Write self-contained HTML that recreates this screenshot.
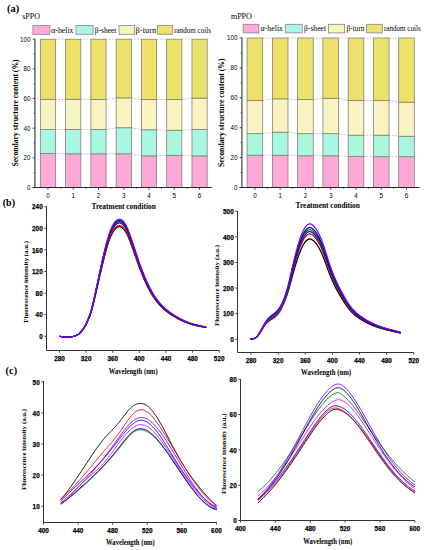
<!DOCTYPE html>
<html><head><meta charset="utf-8"><style>
html,body{margin:0;padding:0;background:#fff;}
svg{display:block;}
</style></head><body>
<svg width="429" height="550" viewBox="0 0 429 550">
<rect width="429" height="550" fill="#fff"/>
<text x="7.00" y="12.20" font-family='"Liberation Serif", serif' font-size="11.2" font-weight="bold" fill="#000" textLength="12.20" lengthAdjust="spacingAndGlyphs">(a)</text>
<text x="2.80" y="205.60" font-family='"Liberation Serif", serif' font-size="11.2" font-weight="bold" fill="#000" textLength="12.20" lengthAdjust="spacingAndGlyphs">(b)</text>
<text x="5.60" y="373.60" font-family='"Liberation Serif", serif' font-size="11.0" font-weight="bold" fill="#000" textLength="11.50" lengthAdjust="spacingAndGlyphs">(c)</text>
<text x="22.20" y="18.50" font-family='"Liberation Serif", serif' font-size="8.0" font-weight="normal" fill="#000" textLength="17.70" lengthAdjust="spacingAndGlyphs">sPPO</text>
<text x="230.90" y="18.50" font-family='"Liberation Serif", serif' font-size="8.2" font-weight="normal" fill="#000" textLength="21.00" lengthAdjust="spacingAndGlyphs">mPPO</text>
<rect x="40.35" y="153.39" width="15.20" height="34.11" fill="#FFA9D9" stroke="#7c7c72" stroke-width="0.75"/>
<rect x="40.35" y="129.51" width="15.20" height="23.88" fill="#A9F7E0" stroke="#7c7c72" stroke-width="0.75"/>
<rect x="40.35" y="99.56" width="15.20" height="29.96" fill="#F9F3C2" stroke="#7c7c72" stroke-width="0.75"/>
<rect x="40.35" y="39.20" width="15.20" height="60.36" fill="#ECE26B" stroke="#7c7c72" stroke-width="0.75"/>
<rect x="65.62" y="153.84" width="15.20" height="33.66" fill="#FFA9D9" stroke="#7c7c72" stroke-width="0.75"/>
<rect x="65.62" y="129.37" width="15.20" height="24.47" fill="#A9F7E0" stroke="#7c7c72" stroke-width="0.75"/>
<rect x="65.62" y="99.26" width="15.20" height="30.10" fill="#F9F3C2" stroke="#7c7c72" stroke-width="0.75"/>
<rect x="65.62" y="39.20" width="15.20" height="60.06" fill="#ECE26B" stroke="#7c7c72" stroke-width="0.75"/>
<rect x="90.89" y="153.84" width="15.20" height="33.66" fill="#FFA9D9" stroke="#7c7c72" stroke-width="0.75"/>
<rect x="90.89" y="129.37" width="15.20" height="24.47" fill="#A9F7E0" stroke="#7c7c72" stroke-width="0.75"/>
<rect x="90.89" y="99.56" width="15.20" height="29.81" fill="#F9F3C2" stroke="#7c7c72" stroke-width="0.75"/>
<rect x="90.89" y="39.20" width="15.20" height="60.36" fill="#ECE26B" stroke="#7c7c72" stroke-width="0.75"/>
<rect x="116.16" y="153.84" width="15.20" height="33.66" fill="#FFA9D9" stroke="#7c7c72" stroke-width="0.75"/>
<rect x="116.16" y="127.74" width="15.20" height="26.10" fill="#A9F7E0" stroke="#7c7c72" stroke-width="0.75"/>
<rect x="116.16" y="97.93" width="15.20" height="29.81" fill="#F9F3C2" stroke="#7c7c72" stroke-width="0.75"/>
<rect x="116.16" y="39.20" width="15.20" height="58.73" fill="#ECE26B" stroke="#7c7c72" stroke-width="0.75"/>
<rect x="141.43" y="155.91" width="15.20" height="31.59" fill="#FFA9D9" stroke="#7c7c72" stroke-width="0.75"/>
<rect x="141.43" y="129.81" width="15.20" height="26.10" fill="#A9F7E0" stroke="#7c7c72" stroke-width="0.75"/>
<rect x="141.43" y="99.56" width="15.20" height="30.25" fill="#F9F3C2" stroke="#7c7c72" stroke-width="0.75"/>
<rect x="141.43" y="39.20" width="15.20" height="60.36" fill="#ECE26B" stroke="#7c7c72" stroke-width="0.75"/>
<rect x="166.70" y="155.32" width="15.20" height="32.18" fill="#FFA9D9" stroke="#7c7c72" stroke-width="0.75"/>
<rect x="166.70" y="130.26" width="15.20" height="25.06" fill="#A9F7E0" stroke="#7c7c72" stroke-width="0.75"/>
<rect x="166.70" y="99.41" width="15.20" height="30.85" fill="#F9F3C2" stroke="#7c7c72" stroke-width="0.75"/>
<rect x="166.70" y="39.20" width="15.20" height="60.21" fill="#ECE26B" stroke="#7c7c72" stroke-width="0.75"/>
<rect x="191.97" y="155.91" width="15.20" height="31.59" fill="#FFA9D9" stroke="#7c7c72" stroke-width="0.75"/>
<rect x="191.97" y="129.51" width="15.20" height="26.40" fill="#A9F7E0" stroke="#7c7c72" stroke-width="0.75"/>
<rect x="191.97" y="98.08" width="15.20" height="31.44" fill="#F9F3C2" stroke="#7c7c72" stroke-width="0.75"/>
<rect x="191.97" y="39.20" width="15.20" height="58.88" fill="#ECE26B" stroke="#7c7c72" stroke-width="0.75"/>
<line x1="55.55" y1="153.39" x2="65.62" y2="153.84" stroke="#888" stroke-width="0.6" stroke-dasharray="1.5,1.5"/>
<line x1="80.82" y1="153.84" x2="90.89" y2="153.84" stroke="#888" stroke-width="0.6" stroke-dasharray="1.5,1.5"/>
<line x1="106.09" y1="153.84" x2="116.16" y2="153.84" stroke="#888" stroke-width="0.6" stroke-dasharray="1.5,1.5"/>
<line x1="131.36" y1="153.84" x2="141.43" y2="155.91" stroke="#888" stroke-width="0.6" stroke-dasharray="1.5,1.5"/>
<line x1="156.63" y1="155.91" x2="166.70" y2="155.32" stroke="#888" stroke-width="0.6" stroke-dasharray="1.5,1.5"/>
<line x1="181.90" y1="155.32" x2="191.97" y2="155.91" stroke="#888" stroke-width="0.6" stroke-dasharray="1.5,1.5"/>
<line x1="55.55" y1="129.51" x2="65.62" y2="129.37" stroke="#888" stroke-width="0.6" stroke-dasharray="1.5,1.5"/>
<line x1="80.82" y1="129.37" x2="90.89" y2="129.37" stroke="#888" stroke-width="0.6" stroke-dasharray="1.5,1.5"/>
<line x1="106.09" y1="129.37" x2="116.16" y2="127.74" stroke="#888" stroke-width="0.6" stroke-dasharray="1.5,1.5"/>
<line x1="131.36" y1="127.74" x2="141.43" y2="129.81" stroke="#888" stroke-width="0.6" stroke-dasharray="1.5,1.5"/>
<line x1="156.63" y1="129.81" x2="166.70" y2="130.26" stroke="#888" stroke-width="0.6" stroke-dasharray="1.5,1.5"/>
<line x1="181.90" y1="130.26" x2="191.97" y2="129.51" stroke="#888" stroke-width="0.6" stroke-dasharray="1.5,1.5"/>
<line x1="55.55" y1="99.56" x2="65.62" y2="99.26" stroke="#888" stroke-width="0.6" stroke-dasharray="1.5,1.5"/>
<line x1="80.82" y1="99.26" x2="90.89" y2="99.56" stroke="#888" stroke-width="0.6" stroke-dasharray="1.5,1.5"/>
<line x1="106.09" y1="99.56" x2="116.16" y2="97.93" stroke="#888" stroke-width="0.6" stroke-dasharray="1.5,1.5"/>
<line x1="131.36" y1="97.93" x2="141.43" y2="99.56" stroke="#888" stroke-width="0.6" stroke-dasharray="1.5,1.5"/>
<line x1="156.63" y1="99.56" x2="166.70" y2="99.41" stroke="#888" stroke-width="0.6" stroke-dasharray="1.5,1.5"/>
<line x1="181.90" y1="99.41" x2="191.97" y2="98.08" stroke="#888" stroke-width="0.6" stroke-dasharray="1.5,1.5"/>
<line x1="55.55" y1="39.20" x2="65.62" y2="39.20" stroke="#999" stroke-width="0.6" stroke-dasharray="1.5,1.5"/>
<line x1="80.82" y1="39.20" x2="90.89" y2="39.20" stroke="#999" stroke-width="0.6" stroke-dasharray="1.5,1.5"/>
<line x1="106.09" y1="39.20" x2="116.16" y2="39.20" stroke="#999" stroke-width="0.6" stroke-dasharray="1.5,1.5"/>
<line x1="131.36" y1="39.20" x2="141.43" y2="39.20" stroke="#999" stroke-width="0.6" stroke-dasharray="1.5,1.5"/>
<line x1="156.63" y1="39.20" x2="166.70" y2="39.20" stroke="#999" stroke-width="0.6" stroke-dasharray="1.5,1.5"/>
<line x1="181.90" y1="39.20" x2="191.97" y2="39.20" stroke="#999" stroke-width="0.6" stroke-dasharray="1.5,1.5"/>
<line x1="34.90" y1="38.70" x2="34.90" y2="187.50" stroke="#707070" stroke-width="1.6" />
<line x1="32.60" y1="187.50" x2="211.80" y2="187.50" stroke="#262626" stroke-width="1.1" />
<line x1="32.70" y1="187.50" x2="34.90" y2="187.50" stroke="#333" stroke-width="0.9" />
<text x="26.95" y="189.85" font-family='"Liberation Sans", sans-serif' font-size="6.6" font-weight="normal" fill="#000" textLength="3.45" lengthAdjust="spacingAndGlyphs">0</text>
<line x1="32.70" y1="157.84" x2="34.90" y2="157.84" stroke="#333" stroke-width="0.9" />
<text x="23.50" y="160.19" font-family='"Liberation Sans", sans-serif' font-size="6.6" font-weight="normal" fill="#000" textLength="6.90" lengthAdjust="spacingAndGlyphs">20</text>
<line x1="32.70" y1="128.18" x2="34.90" y2="128.18" stroke="#333" stroke-width="0.9" />
<text x="23.50" y="130.53" font-family='"Liberation Sans", sans-serif' font-size="6.6" font-weight="normal" fill="#000" textLength="6.90" lengthAdjust="spacingAndGlyphs">40</text>
<line x1="32.70" y1="98.52" x2="34.90" y2="98.52" stroke="#333" stroke-width="0.9" />
<text x="23.50" y="100.87" font-family='"Liberation Sans", sans-serif' font-size="6.6" font-weight="normal" fill="#000" textLength="6.90" lengthAdjust="spacingAndGlyphs">60</text>
<line x1="32.70" y1="68.86" x2="34.90" y2="68.86" stroke="#333" stroke-width="0.9" />
<text x="23.50" y="71.21" font-family='"Liberation Sans", sans-serif' font-size="6.6" font-weight="normal" fill="#000" textLength="6.90" lengthAdjust="spacingAndGlyphs">80</text>
<line x1="32.70" y1="39.20" x2="34.90" y2="39.20" stroke="#333" stroke-width="0.9" />
<text x="20.05" y="41.55" font-family='"Liberation Sans", sans-serif' font-size="6.6" font-weight="normal" fill="#000" textLength="10.35" lengthAdjust="spacingAndGlyphs">100</text>
<line x1="33.60" y1="172.67" x2="34.90" y2="172.67" stroke="#333" stroke-width="0.8" />
<line x1="33.60" y1="143.01" x2="34.90" y2="143.01" stroke="#333" stroke-width="0.8" />
<line x1="33.60" y1="113.35" x2="34.90" y2="113.35" stroke="#333" stroke-width="0.8" />
<line x1="33.60" y1="83.69" x2="34.90" y2="83.69" stroke="#333" stroke-width="0.8" />
<line x1="33.60" y1="54.03" x2="34.90" y2="54.03" stroke="#333" stroke-width="0.8" />
<line x1="47.95" y1="187.50" x2="47.95" y2="189.70" stroke="#333" stroke-width="0.9" />
<text x="46.20" y="197.70" font-family='"Liberation Sans", sans-serif' font-size="6.6" font-weight="normal" fill="#000" textLength="3.50" lengthAdjust="spacingAndGlyphs">0</text>
<line x1="60.59" y1="187.50" x2="60.59" y2="188.80" stroke="#333" stroke-width="0.8" />
<line x1="73.22" y1="187.50" x2="73.22" y2="189.70" stroke="#333" stroke-width="0.9" />
<text x="71.47" y="197.70" font-family='"Liberation Sans", sans-serif' font-size="6.6" font-weight="normal" fill="#000" textLength="3.50" lengthAdjust="spacingAndGlyphs">1</text>
<line x1="85.86" y1="187.50" x2="85.86" y2="188.80" stroke="#333" stroke-width="0.8" />
<line x1="98.49" y1="187.50" x2="98.49" y2="189.70" stroke="#333" stroke-width="0.9" />
<text x="96.74" y="197.70" font-family='"Liberation Sans", sans-serif' font-size="6.6" font-weight="normal" fill="#000" textLength="3.50" lengthAdjust="spacingAndGlyphs">2</text>
<line x1="111.12" y1="187.50" x2="111.12" y2="188.80" stroke="#333" stroke-width="0.8" />
<line x1="123.76" y1="187.50" x2="123.76" y2="189.70" stroke="#333" stroke-width="0.9" />
<text x="122.01" y="197.70" font-family='"Liberation Sans", sans-serif' font-size="6.6" font-weight="normal" fill="#000" textLength="3.50" lengthAdjust="spacingAndGlyphs">3</text>
<line x1="136.40" y1="187.50" x2="136.40" y2="188.80" stroke="#333" stroke-width="0.8" />
<line x1="149.03" y1="187.50" x2="149.03" y2="189.70" stroke="#333" stroke-width="0.9" />
<text x="147.28" y="197.70" font-family='"Liberation Sans", sans-serif' font-size="6.6" font-weight="normal" fill="#000" textLength="3.50" lengthAdjust="spacingAndGlyphs">4</text>
<line x1="161.67" y1="187.50" x2="161.67" y2="188.80" stroke="#333" stroke-width="0.8" />
<line x1="174.30" y1="187.50" x2="174.30" y2="189.70" stroke="#333" stroke-width="0.9" />
<text x="172.55" y="197.70" font-family='"Liberation Sans", sans-serif' font-size="6.6" font-weight="normal" fill="#000" textLength="3.50" lengthAdjust="spacingAndGlyphs">5</text>
<line x1="186.94" y1="187.50" x2="186.94" y2="188.80" stroke="#333" stroke-width="0.8" />
<line x1="199.57" y1="187.50" x2="199.57" y2="189.70" stroke="#333" stroke-width="0.9" />
<text x="197.82" y="197.70" font-family='"Liberation Sans", sans-serif' font-size="6.6" font-weight="normal" fill="#000" textLength="3.50" lengthAdjust="spacingAndGlyphs">6</text>
<rect x="32.90" y="25.60" width="17.00" height="8.70" fill="#FFA9D9" stroke="#8a8090" stroke-width="0.8"/>
<text x="51.30" y="32.60" font-family='"Liberation Serif", serif' font-size="8.5" font-weight="normal" fill="#000" textLength="22.20" lengthAdjust="spacingAndGlyphs">α-helix</text>
<rect x="76.00" y="25.60" width="17.10" height="8.70" fill="#A9F7E0" stroke="#8a8090" stroke-width="0.8"/>
<text x="94.70" y="32.60" font-family='"Liberation Serif", serif' font-size="8.5" font-weight="normal" fill="#000" textLength="21.70" lengthAdjust="spacingAndGlyphs">β-sheet</text>
<rect x="119.00" y="25.60" width="15.60" height="8.70" fill="#F9F3C2" stroke="#8a8090" stroke-width="0.8"/>
<text x="135.60" y="32.60" font-family='"Liberation Serif", serif' font-size="8.5" font-weight="normal" fill="#000" textLength="20.60" lengthAdjust="spacingAndGlyphs">β-turn</text>
<rect x="157.30" y="25.60" width="15.40" height="8.70" fill="#ECE26B" stroke="#8a8090" stroke-width="0.8"/>
<text x="174.20" y="32.60" font-family='"Liberation Serif", serif' font-size="8.5" font-weight="normal" fill="#000" textLength="36.70" lengthAdjust="spacingAndGlyphs">random coils</text>
<text transform="translate(18.40,113.00) rotate(-90)" x="-53.60" y="0" font-family='"Liberation Serif", serif' font-size="7.8" font-weight="bold" textLength="107.20" lengthAdjust="spacingAndGlyphs">Secondary structure content (%)</text>
<text x="91.60" y="209.00" font-family='"Liberation Serif", serif' font-size="8.2" font-weight="bold" fill="#000" textLength="64.20" lengthAdjust="spacingAndGlyphs">Treatment condition</text>
<rect x="247.10" y="155.21" width="15.60" height="32.29" fill="#FFA9D9" stroke="#7c7c72" stroke-width="0.75"/>
<rect x="247.10" y="133.68" width="15.60" height="21.53" fill="#A9F7E0" stroke="#7c7c72" stroke-width="0.75"/>
<rect x="247.10" y="100.64" width="15.60" height="33.04" fill="#F9F3C2" stroke="#7c7c72" stroke-width="0.75"/>
<rect x="247.10" y="38.00" width="15.60" height="62.64" fill="#ECE26B" stroke="#7c7c72" stroke-width="0.75"/>
<rect x="272.37" y="155.21" width="15.60" height="32.29" fill="#FFA9D9" stroke="#7c7c72" stroke-width="0.75"/>
<rect x="272.37" y="132.19" width="15.60" height="23.02" fill="#A9F7E0" stroke="#7c7c72" stroke-width="0.75"/>
<rect x="272.37" y="98.85" width="15.60" height="33.34" fill="#F9F3C2" stroke="#7c7c72" stroke-width="0.75"/>
<rect x="272.37" y="38.00" width="15.60" height="60.85" fill="#ECE26B" stroke="#7c7c72" stroke-width="0.75"/>
<rect x="297.64" y="155.81" width="15.60" height="31.69" fill="#FFA9D9" stroke="#7c7c72" stroke-width="0.75"/>
<rect x="297.64" y="133.68" width="15.60" height="22.13" fill="#A9F7E0" stroke="#7c7c72" stroke-width="0.75"/>
<rect x="297.64" y="99.59" width="15.60" height="34.09" fill="#F9F3C2" stroke="#7c7c72" stroke-width="0.75"/>
<rect x="297.64" y="38.00" width="15.60" height="61.59" fill="#ECE26B" stroke="#7c7c72" stroke-width="0.75"/>
<rect x="322.91" y="155.81" width="15.60" height="31.69" fill="#FFA9D9" stroke="#7c7c72" stroke-width="0.75"/>
<rect x="322.91" y="133.68" width="15.60" height="22.13" fill="#A9F7E0" stroke="#7c7c72" stroke-width="0.75"/>
<rect x="322.91" y="98.25" width="15.60" height="35.43" fill="#F9F3C2" stroke="#7c7c72" stroke-width="0.75"/>
<rect x="322.91" y="38.00" width="15.60" height="60.25" fill="#ECE26B" stroke="#7c7c72" stroke-width="0.75"/>
<rect x="348.18" y="156.55" width="15.60" height="30.95" fill="#FFA9D9" stroke="#7c7c72" stroke-width="0.75"/>
<rect x="348.18" y="135.18" width="15.60" height="21.38" fill="#A9F7E0" stroke="#7c7c72" stroke-width="0.75"/>
<rect x="348.18" y="100.64" width="15.60" height="34.53" fill="#F9F3C2" stroke="#7c7c72" stroke-width="0.75"/>
<rect x="348.18" y="38.00" width="15.60" height="62.64" fill="#ECE26B" stroke="#7c7c72" stroke-width="0.75"/>
<rect x="373.45" y="156.70" width="15.60" height="30.80" fill="#FFA9D9" stroke="#7c7c72" stroke-width="0.75"/>
<rect x="373.45" y="135.18" width="15.60" height="21.53" fill="#A9F7E0" stroke="#7c7c72" stroke-width="0.75"/>
<rect x="373.45" y="100.64" width="15.60" height="34.53" fill="#F9F3C2" stroke="#7c7c72" stroke-width="0.75"/>
<rect x="373.45" y="38.00" width="15.60" height="62.64" fill="#ECE26B" stroke="#7c7c72" stroke-width="0.75"/>
<rect x="398.72" y="156.70" width="15.60" height="30.80" fill="#FFA9D9" stroke="#7c7c72" stroke-width="0.75"/>
<rect x="398.72" y="136.22" width="15.60" height="20.48" fill="#A9F7E0" stroke="#7c7c72" stroke-width="0.75"/>
<rect x="398.72" y="102.14" width="15.60" height="34.09" fill="#F9F3C2" stroke="#7c7c72" stroke-width="0.75"/>
<rect x="398.72" y="38.00" width="15.60" height="64.14" fill="#ECE26B" stroke="#7c7c72" stroke-width="0.75"/>
<line x1="262.70" y1="155.21" x2="272.37" y2="155.21" stroke="#888" stroke-width="0.6" stroke-dasharray="1.5,1.5"/>
<line x1="287.97" y1="155.21" x2="297.64" y2="155.81" stroke="#888" stroke-width="0.6" stroke-dasharray="1.5,1.5"/>
<line x1="313.24" y1="155.81" x2="322.91" y2="155.81" stroke="#888" stroke-width="0.6" stroke-dasharray="1.5,1.5"/>
<line x1="338.51" y1="155.81" x2="348.18" y2="156.55" stroke="#888" stroke-width="0.6" stroke-dasharray="1.5,1.5"/>
<line x1="363.78" y1="156.55" x2="373.45" y2="156.70" stroke="#888" stroke-width="0.6" stroke-dasharray="1.5,1.5"/>
<line x1="389.05" y1="156.70" x2="398.72" y2="156.70" stroke="#888" stroke-width="0.6" stroke-dasharray="1.5,1.5"/>
<line x1="262.70" y1="133.68" x2="272.37" y2="132.19" stroke="#888" stroke-width="0.6" stroke-dasharray="1.5,1.5"/>
<line x1="287.97" y1="132.19" x2="297.64" y2="133.68" stroke="#888" stroke-width="0.6" stroke-dasharray="1.5,1.5"/>
<line x1="313.24" y1="133.68" x2="322.91" y2="133.68" stroke="#888" stroke-width="0.6" stroke-dasharray="1.5,1.5"/>
<line x1="338.51" y1="133.68" x2="348.18" y2="135.18" stroke="#888" stroke-width="0.6" stroke-dasharray="1.5,1.5"/>
<line x1="363.78" y1="135.18" x2="373.45" y2="135.18" stroke="#888" stroke-width="0.6" stroke-dasharray="1.5,1.5"/>
<line x1="389.05" y1="135.18" x2="398.72" y2="136.22" stroke="#888" stroke-width="0.6" stroke-dasharray="1.5,1.5"/>
<line x1="262.70" y1="100.64" x2="272.37" y2="98.85" stroke="#888" stroke-width="0.6" stroke-dasharray="1.5,1.5"/>
<line x1="287.97" y1="98.85" x2="297.64" y2="99.59" stroke="#888" stroke-width="0.6" stroke-dasharray="1.5,1.5"/>
<line x1="313.24" y1="99.59" x2="322.91" y2="98.25" stroke="#888" stroke-width="0.6" stroke-dasharray="1.5,1.5"/>
<line x1="338.51" y1="98.25" x2="348.18" y2="100.64" stroke="#888" stroke-width="0.6" stroke-dasharray="1.5,1.5"/>
<line x1="363.78" y1="100.64" x2="373.45" y2="100.64" stroke="#888" stroke-width="0.6" stroke-dasharray="1.5,1.5"/>
<line x1="389.05" y1="100.64" x2="398.72" y2="102.14" stroke="#888" stroke-width="0.6" stroke-dasharray="1.5,1.5"/>
<line x1="262.70" y1="38.00" x2="272.37" y2="38.00" stroke="#999" stroke-width="0.6" stroke-dasharray="1.5,1.5"/>
<line x1="287.97" y1="38.00" x2="297.64" y2="38.00" stroke="#999" stroke-width="0.6" stroke-dasharray="1.5,1.5"/>
<line x1="313.24" y1="38.00" x2="322.91" y2="38.00" stroke="#999" stroke-width="0.6" stroke-dasharray="1.5,1.5"/>
<line x1="338.51" y1="38.00" x2="348.18" y2="38.00" stroke="#999" stroke-width="0.6" stroke-dasharray="1.5,1.5"/>
<line x1="363.78" y1="38.00" x2="373.45" y2="38.00" stroke="#999" stroke-width="0.6" stroke-dasharray="1.5,1.5"/>
<line x1="389.05" y1="38.00" x2="398.72" y2="38.00" stroke="#999" stroke-width="0.6" stroke-dasharray="1.5,1.5"/>
<line x1="241.90" y1="37.50" x2="241.90" y2="187.50" stroke="#707070" stroke-width="1.6" />
<line x1="239.60" y1="187.50" x2="419.40" y2="187.50" stroke="#262626" stroke-width="1.1" />
<line x1="239.70" y1="187.50" x2="241.90" y2="187.50" stroke="#333" stroke-width="0.9" />
<text x="233.95" y="189.85" font-family='"Liberation Sans", sans-serif' font-size="6.6" font-weight="normal" fill="#000" textLength="3.45" lengthAdjust="spacingAndGlyphs">0</text>
<line x1="239.70" y1="157.60" x2="241.90" y2="157.60" stroke="#333" stroke-width="0.9" />
<text x="230.50" y="159.95" font-family='"Liberation Sans", sans-serif' font-size="6.6" font-weight="normal" fill="#000" textLength="6.90" lengthAdjust="spacingAndGlyphs">20</text>
<line x1="239.70" y1="127.70" x2="241.90" y2="127.70" stroke="#333" stroke-width="0.9" />
<text x="230.50" y="130.05" font-family='"Liberation Sans", sans-serif' font-size="6.6" font-weight="normal" fill="#000" textLength="6.90" lengthAdjust="spacingAndGlyphs">40</text>
<line x1="239.70" y1="97.80" x2="241.90" y2="97.80" stroke="#333" stroke-width="0.9" />
<text x="230.50" y="100.15" font-family='"Liberation Sans", sans-serif' font-size="6.6" font-weight="normal" fill="#000" textLength="6.90" lengthAdjust="spacingAndGlyphs">60</text>
<line x1="239.70" y1="67.90" x2="241.90" y2="67.90" stroke="#333" stroke-width="0.9" />
<text x="230.50" y="70.25" font-family='"Liberation Sans", sans-serif' font-size="6.6" font-weight="normal" fill="#000" textLength="6.90" lengthAdjust="spacingAndGlyphs">80</text>
<line x1="239.70" y1="38.00" x2="241.90" y2="38.00" stroke="#333" stroke-width="0.9" />
<text x="227.05" y="40.35" font-family='"Liberation Sans", sans-serif' font-size="6.6" font-weight="normal" fill="#000" textLength="10.35" lengthAdjust="spacingAndGlyphs">100</text>
<line x1="240.60" y1="172.55" x2="241.90" y2="172.55" stroke="#333" stroke-width="0.8" />
<line x1="240.60" y1="142.65" x2="241.90" y2="142.65" stroke="#333" stroke-width="0.8" />
<line x1="240.60" y1="112.75" x2="241.90" y2="112.75" stroke="#333" stroke-width="0.8" />
<line x1="240.60" y1="82.85" x2="241.90" y2="82.85" stroke="#333" stroke-width="0.8" />
<line x1="240.60" y1="52.95" x2="241.90" y2="52.95" stroke="#333" stroke-width="0.8" />
<line x1="254.90" y1="187.50" x2="254.90" y2="189.70" stroke="#333" stroke-width="0.9" />
<text x="253.15" y="197.70" font-family='"Liberation Sans", sans-serif' font-size="6.6" font-weight="normal" fill="#000" textLength="3.50" lengthAdjust="spacingAndGlyphs">0</text>
<line x1="267.54" y1="187.50" x2="267.54" y2="188.80" stroke="#333" stroke-width="0.8" />
<line x1="280.17" y1="187.50" x2="280.17" y2="189.70" stroke="#333" stroke-width="0.9" />
<text x="278.42" y="197.70" font-family='"Liberation Sans", sans-serif' font-size="6.6" font-weight="normal" fill="#000" textLength="3.50" lengthAdjust="spacingAndGlyphs">1</text>
<line x1="292.81" y1="187.50" x2="292.81" y2="188.80" stroke="#333" stroke-width="0.8" />
<line x1="305.44" y1="187.50" x2="305.44" y2="189.70" stroke="#333" stroke-width="0.9" />
<text x="303.69" y="197.70" font-family='"Liberation Sans", sans-serif' font-size="6.6" font-weight="normal" fill="#000" textLength="3.50" lengthAdjust="spacingAndGlyphs">2</text>
<line x1="318.08" y1="187.50" x2="318.08" y2="188.80" stroke="#333" stroke-width="0.8" />
<line x1="330.71" y1="187.50" x2="330.71" y2="189.70" stroke="#333" stroke-width="0.9" />
<text x="328.96" y="197.70" font-family='"Liberation Sans", sans-serif' font-size="6.6" font-weight="normal" fill="#000" textLength="3.50" lengthAdjust="spacingAndGlyphs">3</text>
<line x1="343.35" y1="187.50" x2="343.35" y2="188.80" stroke="#333" stroke-width="0.8" />
<line x1="355.98" y1="187.50" x2="355.98" y2="189.70" stroke="#333" stroke-width="0.9" />
<text x="354.23" y="197.70" font-family='"Liberation Sans", sans-serif' font-size="6.6" font-weight="normal" fill="#000" textLength="3.50" lengthAdjust="spacingAndGlyphs">4</text>
<line x1="368.62" y1="187.50" x2="368.62" y2="188.80" stroke="#333" stroke-width="0.8" />
<line x1="381.25" y1="187.50" x2="381.25" y2="189.70" stroke="#333" stroke-width="0.9" />
<text x="379.50" y="197.70" font-family='"Liberation Sans", sans-serif' font-size="6.6" font-weight="normal" fill="#000" textLength="3.50" lengthAdjust="spacingAndGlyphs">5</text>
<line x1="393.88" y1="187.50" x2="393.88" y2="188.80" stroke="#333" stroke-width="0.8" />
<line x1="406.52" y1="187.50" x2="406.52" y2="189.70" stroke="#333" stroke-width="0.9" />
<text x="404.77" y="197.70" font-family='"Liberation Sans", sans-serif' font-size="6.6" font-weight="normal" fill="#000" textLength="3.50" lengthAdjust="spacingAndGlyphs">6</text>
<rect x="243.20" y="24.30" width="15.60" height="8.60" fill="#FFA9D9" stroke="#8a8090" stroke-width="0.8"/>
<text x="260.60" y="31.20" font-family='"Liberation Serif", serif' font-size="8.5" font-weight="normal" fill="#000" textLength="22.40" lengthAdjust="spacingAndGlyphs">α-helix</text>
<rect x="285.50" y="24.30" width="16.70" height="8.60" fill="#A9F7E0" stroke="#8a8090" stroke-width="0.8"/>
<text x="304.00" y="31.20" font-family='"Liberation Serif", serif' font-size="8.5" font-weight="normal" fill="#000" textLength="22.00" lengthAdjust="spacingAndGlyphs">β-sheet</text>
<rect x="328.50" y="24.30" width="16.10" height="8.60" fill="#F9F3C2" stroke="#8a8090" stroke-width="0.8"/>
<text x="346.40" y="31.20" font-family='"Liberation Serif", serif' font-size="8.5" font-weight="normal" fill="#000" textLength="18.20" lengthAdjust="spacingAndGlyphs">β-turn</text>
<rect x="366.70" y="24.30" width="15.60" height="8.60" fill="#ECE26B" stroke="#8a8090" stroke-width="0.8"/>
<text x="383.90" y="31.20" font-family='"Liberation Serif", serif' font-size="8.5" font-weight="normal" fill="#000" textLength="36.90" lengthAdjust="spacingAndGlyphs">random coils</text>
<text transform="translate(224.20,112.65) rotate(-90)" x="-54.35" y="0" font-family='"Liberation Serif", serif' font-size="7.8" font-weight="bold" textLength="108.70" lengthAdjust="spacingAndGlyphs">Secondary structure content (%)</text>
<text x="295.60" y="208.30" font-family='"Liberation Serif", serif' font-size="8.2" font-weight="bold" fill="#000" textLength="64.30" lengthAdjust="spacingAndGlyphs">Treatment condition</text>
<line x1="46.50" y1="206.40" x2="46.50" y2="350.50" stroke="#333" stroke-width="1" />
<line x1="46.50" y1="350.50" x2="219.40" y2="350.50" stroke="#333" stroke-width="1" />
<line x1="44.30" y1="336.30" x2="46.50" y2="336.30" stroke="#333" stroke-width="0.9" />
<text x="39.15" y="339.09" font-family='"Liberation Sans", sans-serif' font-size="7.8" font-weight="bold" fill="#000" stroke="#000" stroke-width="0.25" textLength="3.55" lengthAdjust="spacingAndGlyphs">0</text>
<line x1="44.30" y1="314.70" x2="46.50" y2="314.70" stroke="#333" stroke-width="0.9" />
<text x="35.60" y="317.49" font-family='"Liberation Sans", sans-serif' font-size="7.8" font-weight="bold" fill="#000" stroke="#000" stroke-width="0.25" textLength="7.10" lengthAdjust="spacingAndGlyphs">40</text>
<line x1="44.30" y1="293.10" x2="46.50" y2="293.10" stroke="#333" stroke-width="0.9" />
<text x="35.60" y="295.89" font-family='"Liberation Sans", sans-serif' font-size="7.8" font-weight="bold" fill="#000" stroke="#000" stroke-width="0.25" textLength="7.10" lengthAdjust="spacingAndGlyphs">80</text>
<line x1="44.30" y1="271.50" x2="46.50" y2="271.50" stroke="#333" stroke-width="0.9" />
<text x="32.05" y="274.29" font-family='"Liberation Sans", sans-serif' font-size="7.8" font-weight="bold" fill="#000" stroke="#000" stroke-width="0.25" textLength="10.65" lengthAdjust="spacingAndGlyphs">120</text>
<line x1="44.30" y1="249.90" x2="46.50" y2="249.90" stroke="#333" stroke-width="0.9" />
<text x="32.05" y="252.69" font-family='"Liberation Sans", sans-serif' font-size="7.8" font-weight="bold" fill="#000" stroke="#000" stroke-width="0.25" textLength="10.65" lengthAdjust="spacingAndGlyphs">160</text>
<line x1="44.30" y1="228.30" x2="46.50" y2="228.30" stroke="#333" stroke-width="0.9" />
<text x="32.05" y="231.09" font-family='"Liberation Sans", sans-serif' font-size="7.8" font-weight="bold" fill="#000" stroke="#000" stroke-width="0.25" textLength="10.65" lengthAdjust="spacingAndGlyphs">200</text>
<line x1="44.30" y1="206.70" x2="46.50" y2="206.70" stroke="#333" stroke-width="0.9" />
<text x="32.05" y="209.49" font-family='"Liberation Sans", sans-serif' font-size="7.8" font-weight="bold" fill="#000" stroke="#000" stroke-width="0.25" textLength="10.65" lengthAdjust="spacingAndGlyphs">240</text>
<line x1="59.50" y1="350.50" x2="59.50" y2="352.70" stroke="#333" stroke-width="0.9" />
<text x="54.17" y="361.49" font-family='"Liberation Sans", sans-serif' font-size="7.8" font-weight="bold" fill="#000" stroke="#000" stroke-width="0.25" textLength="10.65" lengthAdjust="spacingAndGlyphs">280</text>
<line x1="86.12" y1="350.50" x2="86.12" y2="352.70" stroke="#333" stroke-width="0.9" />
<text x="80.79" y="361.49" font-family='"Liberation Sans", sans-serif' font-size="7.8" font-weight="bold" fill="#000" stroke="#000" stroke-width="0.25" textLength="10.65" lengthAdjust="spacingAndGlyphs">320</text>
<line x1="112.73" y1="350.50" x2="112.73" y2="352.70" stroke="#333" stroke-width="0.9" />
<text x="107.41" y="361.49" font-family='"Liberation Sans", sans-serif' font-size="7.8" font-weight="bold" fill="#000" stroke="#000" stroke-width="0.25" textLength="10.65" lengthAdjust="spacingAndGlyphs">360</text>
<line x1="139.35" y1="350.50" x2="139.35" y2="352.70" stroke="#333" stroke-width="0.9" />
<text x="134.02" y="361.49" font-family='"Liberation Sans", sans-serif' font-size="7.8" font-weight="bold" fill="#000" stroke="#000" stroke-width="0.25" textLength="10.65" lengthAdjust="spacingAndGlyphs">400</text>
<line x1="165.96" y1="350.50" x2="165.96" y2="352.70" stroke="#333" stroke-width="0.9" />
<text x="160.64" y="361.49" font-family='"Liberation Sans", sans-serif' font-size="7.8" font-weight="bold" fill="#000" stroke="#000" stroke-width="0.25" textLength="10.65" lengthAdjust="spacingAndGlyphs">440</text>
<line x1="192.58" y1="350.50" x2="192.58" y2="352.70" stroke="#333" stroke-width="0.9" />
<text x="187.25" y="361.49" font-family='"Liberation Sans", sans-serif' font-size="7.8" font-weight="bold" fill="#000" stroke="#000" stroke-width="0.25" textLength="10.65" lengthAdjust="spacingAndGlyphs">480</text>
<line x1="219.20" y1="350.50" x2="219.20" y2="352.70" stroke="#333" stroke-width="0.9" />
<text x="213.87" y="361.49" font-family='"Liberation Sans", sans-serif' font-size="7.8" font-weight="bold" fill="#000" stroke="#000" stroke-width="0.25" textLength="10.65" lengthAdjust="spacingAndGlyphs">520</text>
<text transform="translate(28.30,281.85) rotate(-90)" x="-40.85" y="0" font-family='"Liberation Serif", serif' font-size="6.8" font-weight="bold" textLength="81.70" lengthAdjust="spacingAndGlyphs">Fluorescence intensity (a.u.)</text>
<text x="108.80" y="373.50" font-family='"Liberation Serif", serif' font-size="7.9" font-weight="bold" fill="#000" textLength="48.80" lengthAdjust="spacingAndGlyphs">Wavelength (nm)</text>
<line x1="237.50" y1="211.20" x2="237.50" y2="352.50" stroke="#333" stroke-width="1" />
<line x1="237.50" y1="352.50" x2="413.80" y2="352.50" stroke="#333" stroke-width="1" />
<line x1="235.30" y1="339.30" x2="237.50" y2="339.30" stroke="#333" stroke-width="0.9" />
<text x="230.15" y="342.09" font-family='"Liberation Sans", sans-serif' font-size="7.8" font-weight="bold" fill="#000" stroke="#000" stroke-width="0.25" textLength="3.55" lengthAdjust="spacingAndGlyphs">0</text>
<line x1="235.30" y1="313.68" x2="237.50" y2="313.68" stroke="#333" stroke-width="0.9" />
<text x="223.05" y="316.47" font-family='"Liberation Sans", sans-serif' font-size="7.8" font-weight="bold" fill="#000" stroke="#000" stroke-width="0.25" textLength="10.65" lengthAdjust="spacingAndGlyphs">100</text>
<line x1="235.30" y1="288.06" x2="237.50" y2="288.06" stroke="#333" stroke-width="0.9" />
<text x="223.05" y="290.85" font-family='"Liberation Sans", sans-serif' font-size="7.8" font-weight="bold" fill="#000" stroke="#000" stroke-width="0.25" textLength="10.65" lengthAdjust="spacingAndGlyphs">200</text>
<line x1="235.30" y1="262.44" x2="237.50" y2="262.44" stroke="#333" stroke-width="0.9" />
<text x="223.05" y="265.23" font-family='"Liberation Sans", sans-serif' font-size="7.8" font-weight="bold" fill="#000" stroke="#000" stroke-width="0.25" textLength="10.65" lengthAdjust="spacingAndGlyphs">300</text>
<line x1="235.30" y1="236.82" x2="237.50" y2="236.82" stroke="#333" stroke-width="0.9" />
<text x="223.05" y="239.61" font-family='"Liberation Sans", sans-serif' font-size="7.8" font-weight="bold" fill="#000" stroke="#000" stroke-width="0.25" textLength="10.65" lengthAdjust="spacingAndGlyphs">400</text>
<line x1="235.30" y1="211.20" x2="237.50" y2="211.20" stroke="#333" stroke-width="0.9" />
<text x="223.05" y="213.99" font-family='"Liberation Sans", sans-serif' font-size="7.8" font-weight="bold" fill="#000" stroke="#000" stroke-width="0.25" textLength="10.65" lengthAdjust="spacingAndGlyphs">500</text>
<line x1="251.00" y1="352.50" x2="251.00" y2="354.70" stroke="#333" stroke-width="0.9" />
<text x="245.68" y="363.49" font-family='"Liberation Sans", sans-serif' font-size="7.8" font-weight="bold" fill="#000" stroke="#000" stroke-width="0.25" textLength="10.65" lengthAdjust="spacingAndGlyphs">280</text>
<line x1="278.12" y1="352.50" x2="278.12" y2="354.70" stroke="#333" stroke-width="0.9" />
<text x="272.80" y="363.49" font-family='"Liberation Sans", sans-serif' font-size="7.8" font-weight="bold" fill="#000" stroke="#000" stroke-width="0.25" textLength="10.65" lengthAdjust="spacingAndGlyphs">320</text>
<line x1="305.24" y1="352.50" x2="305.24" y2="354.70" stroke="#333" stroke-width="0.9" />
<text x="299.92" y="363.49" font-family='"Liberation Sans", sans-serif' font-size="7.8" font-weight="bold" fill="#000" stroke="#000" stroke-width="0.25" textLength="10.65" lengthAdjust="spacingAndGlyphs">360</text>
<line x1="332.36" y1="352.50" x2="332.36" y2="354.70" stroke="#333" stroke-width="0.9" />
<text x="327.04" y="363.49" font-family='"Liberation Sans", sans-serif' font-size="7.8" font-weight="bold" fill="#000" stroke="#000" stroke-width="0.25" textLength="10.65" lengthAdjust="spacingAndGlyphs">400</text>
<line x1="359.48" y1="352.50" x2="359.48" y2="354.70" stroke="#333" stroke-width="0.9" />
<text x="354.16" y="363.49" font-family='"Liberation Sans", sans-serif' font-size="7.8" font-weight="bold" fill="#000" stroke="#000" stroke-width="0.25" textLength="10.65" lengthAdjust="spacingAndGlyphs">440</text>
<line x1="386.60" y1="352.50" x2="386.60" y2="354.70" stroke="#333" stroke-width="0.9" />
<text x="381.28" y="363.49" font-family='"Liberation Sans", sans-serif' font-size="7.8" font-weight="bold" fill="#000" stroke="#000" stroke-width="0.25" textLength="10.65" lengthAdjust="spacingAndGlyphs">480</text>
<line x1="413.72" y1="352.50" x2="413.72" y2="354.70" stroke="#333" stroke-width="0.9" />
<text x="408.40" y="363.49" font-family='"Liberation Sans", sans-serif' font-size="7.8" font-weight="bold" fill="#000" stroke="#000" stroke-width="0.25" textLength="10.65" lengthAdjust="spacingAndGlyphs">520</text>
<text transform="translate(219.20,285.50) rotate(-90)" x="-40.50" y="0" font-family='"Liberation Serif", serif' font-size="6.8" font-weight="bold" textLength="81.00" lengthAdjust="spacingAndGlyphs">Fluorescence intensity (a.u.)</text>
<text x="301.10" y="375.20" font-family='"Liberation Serif", serif' font-size="7.9" font-weight="bold" fill="#000" textLength="50.00" lengthAdjust="spacingAndGlyphs">Wavelength (nm)</text>
<line x1="43.50" y1="381.00" x2="43.50" y2="522.50" stroke="#333" stroke-width="1" />
<line x1="43.50" y1="522.50" x2="216.90" y2="522.50" stroke="#333" stroke-width="1" />
<line x1="41.30" y1="506.20" x2="43.50" y2="506.20" stroke="#333" stroke-width="0.9" />
<text x="32.60" y="508.99" font-family='"Liberation Sans", sans-serif' font-size="7.8" font-weight="bold" fill="#000" stroke="#000" stroke-width="0.25" textLength="7.10" lengthAdjust="spacingAndGlyphs">10</text>
<line x1="41.30" y1="475.10" x2="43.50" y2="475.10" stroke="#333" stroke-width="0.9" />
<text x="32.60" y="477.89" font-family='"Liberation Sans", sans-serif' font-size="7.8" font-weight="bold" fill="#000" stroke="#000" stroke-width="0.25" textLength="7.10" lengthAdjust="spacingAndGlyphs">20</text>
<line x1="41.30" y1="444.00" x2="43.50" y2="444.00" stroke="#333" stroke-width="0.9" />
<text x="32.60" y="446.79" font-family='"Liberation Sans", sans-serif' font-size="7.8" font-weight="bold" fill="#000" stroke="#000" stroke-width="0.25" textLength="7.10" lengthAdjust="spacingAndGlyphs">30</text>
<line x1="41.30" y1="412.90" x2="43.50" y2="412.90" stroke="#333" stroke-width="0.9" />
<text x="32.60" y="415.69" font-family='"Liberation Sans", sans-serif' font-size="7.8" font-weight="bold" fill="#000" stroke="#000" stroke-width="0.25" textLength="7.10" lengthAdjust="spacingAndGlyphs">40</text>
<line x1="41.30" y1="381.80" x2="43.50" y2="381.80" stroke="#333" stroke-width="0.9" />
<text x="32.60" y="384.59" font-family='"Liberation Sans", sans-serif' font-size="7.8" font-weight="bold" fill="#000" stroke="#000" stroke-width="0.25" textLength="7.10" lengthAdjust="spacingAndGlyphs">50</text>
<line x1="43.50" y1="522.50" x2="43.50" y2="524.70" stroke="#333" stroke-width="0.9" />
<text x="38.17" y="533.49" font-family='"Liberation Sans", sans-serif' font-size="7.8" font-weight="bold" fill="#000" stroke="#000" stroke-width="0.25" textLength="10.65" lengthAdjust="spacingAndGlyphs">400</text>
<line x1="78.08" y1="522.50" x2="78.08" y2="524.70" stroke="#333" stroke-width="0.9" />
<text x="72.75" y="533.49" font-family='"Liberation Sans", sans-serif' font-size="7.8" font-weight="bold" fill="#000" stroke="#000" stroke-width="0.25" textLength="10.65" lengthAdjust="spacingAndGlyphs">440</text>
<line x1="112.66" y1="522.50" x2="112.66" y2="524.70" stroke="#333" stroke-width="0.9" />
<text x="107.33" y="533.49" font-family='"Liberation Sans", sans-serif' font-size="7.8" font-weight="bold" fill="#000" stroke="#000" stroke-width="0.25" textLength="10.65" lengthAdjust="spacingAndGlyphs">480</text>
<line x1="147.24" y1="522.50" x2="147.24" y2="524.70" stroke="#333" stroke-width="0.9" />
<text x="141.92" y="533.49" font-family='"Liberation Sans", sans-serif' font-size="7.8" font-weight="bold" fill="#000" stroke="#000" stroke-width="0.25" textLength="10.65" lengthAdjust="spacingAndGlyphs">520</text>
<line x1="181.82" y1="522.50" x2="181.82" y2="524.70" stroke="#333" stroke-width="0.9" />
<text x="176.50" y="533.49" font-family='"Liberation Sans", sans-serif' font-size="7.8" font-weight="bold" fill="#000" stroke="#000" stroke-width="0.25" textLength="10.65" lengthAdjust="spacingAndGlyphs">560</text>
<line x1="216.40" y1="522.50" x2="216.40" y2="524.70" stroke="#333" stroke-width="0.9" />
<text x="211.08" y="533.49" font-family='"Liberation Sans", sans-serif' font-size="7.8" font-weight="bold" fill="#000" stroke="#000" stroke-width="0.25" textLength="10.65" lengthAdjust="spacingAndGlyphs">600</text>
<text transform="translate(26.20,449.50) rotate(-90)" x="-40.50" y="0" font-family='"Liberation Serif", serif' font-size="6.8" font-weight="bold" textLength="81.00" lengthAdjust="spacingAndGlyphs">Fluorescence intensity (a.u.)</text>
<text x="106.10" y="544.80" font-family='"Liberation Serif", serif' font-size="7.9" font-weight="bold" fill="#000" textLength="48.70" lengthAdjust="spacingAndGlyphs">Wavelength (nm)</text>
<line x1="240.50" y1="379.00" x2="240.50" y2="520.50" stroke="#333" stroke-width="1" />
<line x1="240.50" y1="520.50" x2="414.80" y2="520.50" stroke="#333" stroke-width="1" />
<line x1="238.30" y1="520.50" x2="240.50" y2="520.50" stroke="#333" stroke-width="0.9" />
<text x="233.15" y="523.29" font-family='"Liberation Sans", sans-serif' font-size="7.8" font-weight="bold" fill="#000" stroke="#000" stroke-width="0.25" textLength="3.55" lengthAdjust="spacingAndGlyphs">0</text>
<line x1="238.30" y1="485.18" x2="240.50" y2="485.18" stroke="#333" stroke-width="0.9" />
<text x="229.60" y="487.97" font-family='"Liberation Sans", sans-serif' font-size="7.8" font-weight="bold" fill="#000" stroke="#000" stroke-width="0.25" textLength="7.10" lengthAdjust="spacingAndGlyphs">20</text>
<line x1="238.30" y1="449.86" x2="240.50" y2="449.86" stroke="#333" stroke-width="0.9" />
<text x="229.60" y="452.65" font-family='"Liberation Sans", sans-serif' font-size="7.8" font-weight="bold" fill="#000" stroke="#000" stroke-width="0.25" textLength="7.10" lengthAdjust="spacingAndGlyphs">40</text>
<line x1="238.30" y1="414.54" x2="240.50" y2="414.54" stroke="#333" stroke-width="0.9" />
<text x="229.60" y="417.33" font-family='"Liberation Sans", sans-serif' font-size="7.8" font-weight="bold" fill="#000" stroke="#000" stroke-width="0.25" textLength="7.10" lengthAdjust="spacingAndGlyphs">60</text>
<line x1="238.30" y1="379.22" x2="240.50" y2="379.22" stroke="#333" stroke-width="0.9" />
<text x="229.60" y="382.01" font-family='"Liberation Sans", sans-serif' font-size="7.8" font-weight="bold" fill="#000" stroke="#000" stroke-width="0.25" textLength="7.10" lengthAdjust="spacingAndGlyphs">80</text>
<line x1="240.50" y1="520.50" x2="240.50" y2="522.70" stroke="#333" stroke-width="0.9" />
<text x="235.18" y="531.49" font-family='"Liberation Sans", sans-serif' font-size="7.8" font-weight="bold" fill="#000" stroke="#000" stroke-width="0.25" textLength="10.65" lengthAdjust="spacingAndGlyphs">400</text>
<line x1="275.36" y1="520.50" x2="275.36" y2="522.70" stroke="#333" stroke-width="0.9" />
<text x="270.04" y="531.49" font-family='"Liberation Sans", sans-serif' font-size="7.8" font-weight="bold" fill="#000" stroke="#000" stroke-width="0.25" textLength="10.65" lengthAdjust="spacingAndGlyphs">440</text>
<line x1="310.22" y1="520.50" x2="310.22" y2="522.70" stroke="#333" stroke-width="0.9" />
<text x="304.90" y="531.49" font-family='"Liberation Sans", sans-serif' font-size="7.8" font-weight="bold" fill="#000" stroke="#000" stroke-width="0.25" textLength="10.65" lengthAdjust="spacingAndGlyphs">480</text>
<line x1="345.08" y1="520.50" x2="345.08" y2="522.70" stroke="#333" stroke-width="0.9" />
<text x="339.76" y="531.49" font-family='"Liberation Sans", sans-serif' font-size="7.8" font-weight="bold" fill="#000" stroke="#000" stroke-width="0.25" textLength="10.65" lengthAdjust="spacingAndGlyphs">520</text>
<line x1="379.94" y1="520.50" x2="379.94" y2="522.70" stroke="#333" stroke-width="0.9" />
<text x="374.62" y="531.49" font-family='"Liberation Sans", sans-serif' font-size="7.8" font-weight="bold" fill="#000" stroke="#000" stroke-width="0.25" textLength="10.65" lengthAdjust="spacingAndGlyphs">560</text>
<line x1="414.80" y1="520.50" x2="414.80" y2="522.70" stroke="#333" stroke-width="0.9" />
<text x="409.48" y="531.49" font-family='"Liberation Sans", sans-serif' font-size="7.8" font-weight="bold" fill="#000" stroke="#000" stroke-width="0.25" textLength="10.65" lengthAdjust="spacingAndGlyphs">600</text>
<text transform="translate(225.80,453.80) rotate(-90)" x="-40.20" y="0" font-family='"Liberation Serif", serif' font-size="6.8" font-weight="bold" textLength="80.40" lengthAdjust="spacingAndGlyphs">Fluorescence intensity (a.u.)</text>
<text x="303.30" y="544.10" font-family='"Liberation Serif", serif' font-size="7.9" font-weight="bold" fill="#000" textLength="48.90" lengthAdjust="spacingAndGlyphs">Wavelength (nm)</text>
<path d="M59.70,336.31 L60.19,336.40 L60.68,336.49 L61.16,336.58 L61.65,336.66 L62.14,336.74 L62.63,336.82 L63.12,336.88 L63.61,336.94 L64.09,336.99 L64.58,337.04 L65.07,337.07 L65.56,337.10 L66.05,337.12 L66.54,337.14 L67.02,337.15 L67.51,337.15 L68.00,337.14 L68.49,337.13 L68.98,337.11 L69.47,337.07 L69.95,337.03 L70.44,336.97 L70.93,336.90 L71.42,336.81 L71.91,336.72 L72.40,336.61 L72.88,336.49 L73.37,336.37 L73.86,336.23 L74.35,336.09 L74.84,335.93 L75.33,335.76 L75.81,335.57 L76.30,335.37 L76.79,335.13 L77.28,334.88 L77.77,334.59 L78.26,334.28 L78.74,333.93 L79.23,333.55 L79.72,333.13 L80.21,332.69 L80.70,332.21 L81.18,331.70 L81.67,331.16 L82.16,330.59 L82.65,329.99 L83.14,329.36 L83.63,328.68 L84.11,327.96 L84.60,327.19 L85.09,326.37 L85.58,325.49 L86.07,324.55 L86.56,323.55 L87.04,322.50 L87.53,321.42 L88.02,320.32 L88.51,319.20 L89.00,318.07 L89.49,316.92 L89.97,315.67 L90.46,314.31 L90.95,312.80 L91.44,311.16 L91.93,309.42 L92.42,307.59 L92.90,305.68 L93.39,303.71 L93.88,301.70 L94.37,299.63 L94.86,297.54 L95.35,295.42 L95.83,293.29 L96.32,291.15 L96.81,289.00 L97.30,286.86 L97.79,284.71 L98.28,282.57 L98.76,280.43 L99.25,278.30 L99.74,276.18 L100.23,274.08 L100.72,271.99 L101.21,269.91 L101.69,267.85 L102.18,265.80 L102.67,263.77 L103.16,261.76 L103.65,259.78 L104.13,257.82 L104.62,255.90 L105.11,254.02 L105.60,252.18 L106.09,250.39 L106.58,248.65 L107.06,246.96 L107.55,245.34 L108.04,243.77 L108.53,242.28 L109.02,240.85 L109.51,239.50 L109.99,238.23 L110.48,237.03 L110.97,235.91 L111.46,234.87 L111.95,233.90 L112.44,232.99 L112.92,232.16 L113.41,231.38 L113.90,230.67 L114.39,230.01 L114.88,229.41 L115.37,228.86 L115.85,228.38 L116.34,227.95 L116.83,227.59 L117.32,227.29 L117.81,227.05 L118.30,226.87 L118.78,226.76 L119.27,226.72 L119.76,226.74 L120.25,226.82 L120.74,226.97 L121.23,227.18 L121.71,227.45 L122.20,227.78 L122.69,228.17 L123.18,228.62 L123.67,229.12 L124.15,229.69 L124.64,230.32 L125.13,231.02 L125.62,231.78 L126.11,232.61 L126.60,233.51 L127.08,234.48 L127.57,235.50 L128.06,236.58 L128.55,237.71 L129.04,238.89 L129.53,240.10 L130.01,241.36 L130.50,242.64 L130.99,243.95 L131.48,245.28 L131.97,246.63 L132.46,248.00 L132.94,249.37 L133.43,250.76 L133.92,252.15 L134.41,253.54 L134.90,254.94 L135.39,256.33 L135.87,257.73 L136.36,259.12 L136.85,260.50 L137.34,261.87 L137.83,263.23 L138.32,264.58 L138.80,265.91 L139.29,267.22 L139.78,268.52 L140.27,269.80 L140.76,271.06 L141.25,272.30 L141.73,273.52 L142.22,274.72 L142.71,275.91 L143.20,277.07 L143.69,278.22 L144.17,279.35 L144.66,280.45 L145.15,281.54 L145.64,282.60 L146.13,283.65 L146.62,284.67 L147.10,285.67 L147.59,286.66 L148.08,287.62 L148.57,288.56 L149.06,289.49 L149.55,290.39 L150.03,291.27 L150.52,292.14 L151.01,292.98 L151.50,293.81 L151.99,294.62 L152.48,295.40 L152.96,296.17 L153.45,296.92 L153.94,297.65 L154.43,298.37 L154.92,299.07 L155.41,299.75 L155.89,300.41 L156.38,301.05 L156.87,301.68 L157.36,302.30 L157.85,302.90 L158.34,303.48 L158.82,304.05 L159.31,304.61 L159.80,305.15 L160.29,305.67 L160.78,306.19 L161.27,306.69 L161.75,307.17 L162.24,307.65 L162.73,308.11 L163.22,308.57 L163.71,309.01 L164.19,309.44 L164.68,309.86 L165.17,310.27 L165.66,310.67 L166.15,311.06 L166.64,311.44 L167.12,311.82 L167.61,312.18 L168.10,312.54 L168.59,312.90 L169.08,313.24 L169.57,313.58 L170.05,313.92 L170.54,314.25 L171.03,314.57 L171.52,314.89 L172.01,315.20 L172.50,315.51 L172.98,315.82 L173.47,316.12 L173.96,316.41 L174.45,316.70 L174.94,316.99 L175.43,317.27 L175.91,317.55 L176.40,317.82 L176.89,318.09 L177.38,318.36 L177.87,318.62 L178.36,318.88 L178.84,319.13 L179.33,319.38 L179.82,319.62 L180.31,319.87 L180.80,320.10 L181.29,320.34 L181.77,320.57 L182.26,320.80 L182.75,321.02 L183.24,321.24 L183.73,321.46 L184.22,321.67 L184.70,321.88 L185.19,322.08 L185.68,322.29 L186.17,322.48 L186.66,322.68 L187.14,322.87 L187.63,323.05 L188.12,323.24 L188.61,323.42 L189.10,323.59 L189.59,323.76 L190.07,323.93 L190.56,324.09 L191.05,324.24 L191.54,324.40 L192.03,324.55 L192.52,324.69 L193.00,324.83 L193.49,324.97 L193.98,325.10 L194.47,325.23 L194.96,325.35 L195.45,325.47 L195.93,325.59 L196.42,325.70 L196.91,325.81 L197.40,325.92 L197.89,326.02 L198.38,326.12 L198.86,326.22 L199.35,326.31 L199.84,326.41 L200.33,326.50 L200.82,326.59 L201.31,326.67 L201.79,326.76 L202.28,326.85 L202.77,326.93 L203.26,327.01 L203.75,327.09 L204.24,327.17 L204.72,327.25 L205.21,327.33 L205.70,327.41" fill="none" stroke="#000000" stroke-width="1.25" stroke-linejoin="round" stroke-linecap="round"/>
<path d="M59.70,336.31 L60.19,336.40 L60.68,336.49 L61.16,336.58 L61.65,336.67 L62.14,336.75 L62.63,336.82 L63.12,336.89 L63.61,336.95 L64.09,337.00 L64.58,337.04 L65.07,337.08 L65.56,337.11 L66.05,337.13 L66.54,337.15 L67.02,337.16 L67.51,337.16 L68.00,337.15 L68.49,337.14 L68.98,337.11 L69.47,337.08 L69.95,337.03 L70.44,336.98 L70.93,336.90 L71.42,336.82 L71.91,336.72 L72.40,336.61 L72.88,336.50 L73.37,336.37 L73.86,336.23 L74.35,336.09 L74.84,335.93 L75.33,335.76 L75.81,335.57 L76.30,335.35 L76.79,335.12 L77.28,334.86 L77.77,334.57 L78.26,334.26 L78.74,333.90 L79.23,333.52 L79.72,333.10 L80.21,332.65 L80.70,332.16 L81.18,331.65 L81.67,331.11 L82.16,330.53 L82.65,329.92 L83.14,329.28 L83.63,328.60 L84.11,327.87 L84.60,327.10 L85.09,326.26 L85.58,325.38 L86.07,324.42 L86.56,323.41 L87.04,322.35 L87.53,321.26 L88.02,320.14 L88.51,319.01 L89.00,317.88 L89.49,316.71 L89.97,315.45 L90.46,314.07 L90.95,312.55 L91.44,310.90 L91.93,309.14 L92.42,307.28 L92.90,305.36 L93.39,303.37 L93.88,301.32 L94.37,299.24 L94.86,297.13 L95.35,294.99 L95.83,292.83 L96.32,290.67 L96.81,288.50 L97.30,286.33 L97.79,284.16 L98.28,281.99 L98.76,279.83 L99.25,277.68 L99.74,275.54 L100.23,273.41 L100.72,271.30 L101.21,269.20 L101.69,267.11 L102.18,265.04 L102.67,262.99 L103.16,260.96 L103.65,258.96 L104.13,256.99 L104.62,255.04 L105.11,253.14 L105.60,251.28 L106.09,249.47 L106.58,247.71 L107.06,246.01 L107.55,244.36 L108.04,242.78 L108.53,241.27 L109.02,239.83 L109.51,238.47 L109.99,237.18 L110.48,235.97 L110.97,234.84 L111.46,233.79 L111.95,232.80 L112.44,231.89 L112.92,231.04 L113.41,230.26 L113.90,229.54 L114.39,228.87 L114.88,228.27 L115.37,227.72 L115.85,227.23 L116.34,226.79 L116.83,226.43 L117.32,226.12 L117.81,225.88 L118.30,225.70 L118.78,225.59 L119.27,225.55 L119.76,225.57 L120.25,225.65 L120.74,225.80 L121.23,226.01 L121.71,226.29 L122.20,226.62 L122.69,227.01 L123.18,227.46 L123.67,227.98 L124.15,228.55 L124.64,229.19 L125.13,229.89 L125.62,230.66 L126.11,231.50 L126.60,232.41 L127.08,233.39 L127.57,234.42 L128.06,235.51 L128.55,236.65 L129.04,237.84 L129.53,239.07 L130.01,240.34 L130.50,241.64 L130.99,242.96 L131.48,244.31 L131.97,245.68 L132.46,247.05 L132.94,248.44 L133.43,249.84 L133.92,251.25 L134.41,252.66 L134.90,254.07 L135.39,255.48 L135.87,256.89 L136.36,258.29 L136.85,259.69 L137.34,261.08 L137.83,262.45 L138.32,263.81 L138.80,265.16 L139.29,266.49 L139.78,267.79 L140.27,269.09 L140.76,270.36 L141.25,271.61 L141.73,272.85 L142.22,274.07 L142.71,275.26 L143.20,276.44 L143.69,277.60 L144.17,278.74 L144.66,279.85 L145.15,280.95 L145.64,282.03 L146.13,283.08 L146.62,284.12 L147.10,285.13 L147.59,286.13 L148.08,287.10 L148.57,288.05 L149.06,288.99 L149.55,289.90 L150.03,290.79 L150.52,291.67 L151.01,292.52 L151.50,293.35 L151.99,294.17 L152.48,294.97 L152.96,295.74 L153.45,296.50 L153.94,297.24 L154.43,297.96 L154.92,298.67 L155.41,299.35 L155.89,300.02 L156.38,300.68 L156.87,301.31 L157.36,301.93 L157.85,302.54 L158.34,303.13 L158.82,303.70 L159.31,304.27 L159.80,304.81 L160.29,305.34 L160.78,305.86 L161.27,306.37 L161.75,306.86 L162.24,307.34 L162.73,307.81 L163.22,308.27 L163.71,308.71 L164.19,309.15 L164.68,309.57 L165.17,309.99 L165.66,310.39 L166.15,310.79 L166.64,311.18 L167.12,311.55 L167.61,311.93 L168.10,312.29 L168.59,312.65 L169.08,312.99 L169.57,313.34 L170.05,313.68 L170.54,314.01 L171.03,314.34 L171.52,314.66 L172.01,314.98 L172.50,315.29 L172.98,315.60 L173.47,315.90 L173.96,316.20 L174.45,316.49 L174.94,316.78 L175.43,317.07 L175.91,317.35 L176.40,317.62 L176.89,317.90 L177.38,318.17 L177.87,318.43 L178.36,318.69 L178.84,318.94 L179.33,319.20 L179.82,319.44 L180.31,319.69 L180.80,319.93 L181.29,320.17 L181.77,320.40 L182.26,320.63 L182.75,320.86 L183.24,321.08 L183.73,321.30 L184.22,321.51 L184.70,321.72 L185.19,321.93 L185.68,322.14 L186.17,322.34 L186.66,322.53 L187.14,322.72 L187.63,322.91 L188.12,323.10 L188.61,323.28 L189.10,323.45 L189.59,323.62 L190.07,323.79 L190.56,323.96 L191.05,324.11 L191.54,324.27 L192.03,324.42 L192.52,324.57 L193.00,324.71 L193.49,324.85 L193.98,324.98 L194.47,325.11 L194.96,325.23 L195.45,325.35 L195.93,325.47 L196.42,325.59 L196.91,325.70 L197.40,325.80 L197.89,325.91 L198.38,326.01 L198.86,326.11 L199.35,326.21 L199.84,326.30 L200.33,326.39 L200.82,326.48 L201.31,326.57 L201.79,326.66 L202.28,326.74 L202.77,326.83 L203.26,326.91 L203.75,326.99 L204.24,327.08 L204.72,327.16 L205.21,327.24 L205.70,327.32" fill="none" stroke="#FF0000" stroke-width="1.25" stroke-linejoin="round" stroke-linecap="round"/>
<path d="M59.70,336.30 L60.19,336.40 L60.68,336.49 L61.16,336.58 L61.65,336.67 L62.14,336.75 L62.63,336.83 L63.12,336.90 L63.61,336.96 L64.09,337.01 L64.58,337.06 L65.07,337.10 L65.56,337.13 L66.05,337.15 L66.54,337.17 L67.02,337.17 L67.51,337.18 L68.00,337.17 L68.49,337.15 L68.98,337.13 L69.47,337.10 L69.95,337.05 L70.44,336.99 L70.93,336.92 L71.42,336.83 L71.91,336.73 L72.40,336.62 L72.88,336.50 L73.37,336.37 L73.86,336.23 L74.35,336.08 L74.84,335.92 L75.33,335.74 L75.81,335.55 L76.30,335.33 L76.79,335.09 L77.28,334.83 L77.77,334.53 L78.26,334.21 L78.74,333.84 L79.23,333.45 L79.72,333.02 L80.21,332.56 L80.70,332.07 L81.18,331.54 L81.67,330.98 L82.16,330.39 L82.65,329.77 L83.14,329.12 L83.63,328.42 L84.11,327.67 L84.60,326.88 L85.09,326.03 L85.58,325.12 L86.07,324.14 L86.56,323.11 L87.04,322.03 L87.53,320.91 L88.02,319.77 L88.51,318.61 L89.00,317.45 L89.49,316.25 L89.97,314.97 L90.46,313.55 L90.95,311.99 L91.44,310.30 L91.93,308.50 L92.42,306.61 L92.90,304.63 L93.39,302.60 L93.88,300.51 L94.37,298.38 L94.86,296.21 L95.35,294.02 L95.83,291.82 L96.32,289.60 L96.81,287.38 L97.30,285.16 L97.79,282.94 L98.28,280.73 L98.76,278.52 L99.25,276.32 L99.74,274.13 L100.23,271.95 L100.72,269.78 L101.21,267.64 L101.69,265.50 L102.18,263.39 L102.67,261.29 L103.16,259.21 L103.65,257.16 L104.13,255.14 L104.62,253.15 L105.11,251.21 L105.60,249.30 L106.09,247.45 L106.58,245.65 L107.06,243.90 L107.55,242.22 L108.04,240.61 L108.53,239.06 L109.02,237.59 L109.51,236.19 L109.99,234.87 L110.48,233.64 L110.97,232.48 L111.46,231.40 L111.95,230.39 L112.44,229.46 L112.92,228.59 L113.41,227.79 L113.90,227.05 L114.39,226.37 L114.88,225.75 L115.37,225.19 L115.85,224.69 L116.34,224.25 L116.83,223.87 L117.32,223.56 L117.81,223.31 L118.30,223.13 L118.78,223.01 L119.27,222.97 L119.76,222.99 L120.25,223.08 L120.74,223.23 L121.23,223.45 L121.71,223.73 L122.20,224.07 L122.69,224.47 L123.18,224.93 L123.67,225.45 L124.15,226.04 L124.64,226.70 L125.13,227.42 L125.62,228.20 L126.11,229.06 L126.60,229.99 L127.08,230.99 L127.57,232.05 L128.06,233.17 L128.55,234.34 L129.04,235.55 L129.53,236.81 L130.01,238.11 L130.50,239.43 L130.99,240.79 L131.48,242.17 L131.97,243.57 L132.46,244.98 L132.94,246.40 L133.43,247.83 L133.92,249.27 L134.41,250.71 L134.90,252.15 L135.39,253.60 L135.87,255.04 L136.36,256.48 L136.85,257.90 L137.34,259.32 L137.83,260.73 L138.32,262.12 L138.80,263.50 L139.29,264.86 L139.78,266.20 L140.27,267.52 L140.76,268.82 L141.25,270.11 L141.73,271.37 L142.22,272.62 L142.71,273.84 L143.20,275.05 L143.69,276.23 L144.17,277.40 L144.66,278.54 L145.15,279.66 L145.64,280.76 L146.13,281.84 L146.62,282.90 L147.10,283.94 L147.59,284.96 L148.08,285.95 L148.57,286.93 L149.06,287.88 L149.55,288.82 L150.03,289.73 L150.52,290.63 L151.01,291.50 L151.50,292.35 L151.99,293.19 L152.48,294.00 L152.96,294.80 L153.45,295.57 L153.94,296.33 L154.43,297.07 L154.92,297.79 L155.41,298.49 L155.89,299.18 L156.38,299.85 L156.87,300.50 L157.36,301.13 L157.85,301.75 L158.34,302.36 L158.82,302.94 L159.31,303.52 L159.80,304.08 L160.29,304.62 L160.78,305.15 L161.27,305.67 L161.75,306.18 L162.24,306.67 L162.73,307.15 L163.22,307.61 L163.71,308.07 L164.19,308.51 L164.68,308.95 L165.17,309.37 L165.66,309.79 L166.15,310.19 L166.64,310.59 L167.12,310.98 L167.61,311.36 L168.10,311.73 L168.59,312.09 L169.08,312.45 L169.57,312.80 L170.05,313.15 L170.54,313.49 L171.03,313.82 L171.52,314.15 L172.01,314.48 L172.50,314.80 L172.98,315.11 L173.47,315.42 L173.96,315.73 L174.45,316.03 L174.94,316.33 L175.43,316.62 L175.91,316.91 L176.40,317.19 L176.89,317.47 L177.38,317.74 L177.87,318.01 L178.36,318.28 L178.84,318.54 L179.33,318.80 L179.82,319.05 L180.31,319.30 L180.80,319.55 L181.29,319.79 L181.77,320.03 L182.26,320.26 L182.75,320.49 L183.24,320.72 L183.73,320.95 L184.22,321.17 L184.70,321.38 L185.19,321.60 L185.68,321.80 L186.17,322.01 L186.66,322.21 L187.14,322.41 L187.63,322.60 L188.12,322.79 L188.61,322.97 L189.10,323.15 L189.59,323.33 L190.07,323.50 L190.56,323.67 L191.05,323.83 L191.54,323.99 L192.03,324.14 L192.52,324.29 L193.00,324.44 L193.49,324.58 L193.98,324.71 L194.47,324.85 L194.96,324.97 L195.45,325.10 L195.93,325.22 L196.42,325.33 L196.91,325.45 L197.40,325.56 L197.89,325.66 L198.38,325.77 L198.86,325.87 L199.35,325.97 L199.84,326.06 L200.33,326.16 L200.82,326.25 L201.31,326.34 L201.79,326.43 L202.28,326.52 L202.77,326.61 L203.26,326.69 L203.75,326.77 L204.24,326.86 L204.72,326.94 L205.21,327.02 L205.70,327.11" fill="none" stroke="#0000FF" stroke-width="1.25" stroke-linejoin="round" stroke-linecap="round"/>
<path d="M59.70,336.30 L60.19,336.40 L60.68,336.49 L61.16,336.59 L61.65,336.67 L62.14,336.76 L62.63,336.84 L63.12,336.91 L63.61,336.97 L64.09,337.02 L64.58,337.07 L65.07,337.10 L65.56,337.14 L66.05,337.16 L66.54,337.17 L67.02,337.18 L67.51,337.18 L68.00,337.18 L68.49,337.16 L68.98,337.14 L69.47,337.10 L69.95,337.06 L70.44,337.00 L70.93,336.92 L71.42,336.83 L71.91,336.73 L72.40,336.62 L72.88,336.50 L73.37,336.37 L73.86,336.23 L74.35,336.08 L74.84,335.91 L75.33,335.73 L75.81,335.54 L76.30,335.32 L76.79,335.08 L77.28,334.81 L77.77,334.51 L78.26,334.18 L78.74,333.82 L79.23,333.42 L79.72,332.98 L80.21,332.52 L80.70,332.02 L81.18,331.48 L81.67,330.92 L82.16,330.33 L82.65,329.70 L83.14,329.03 L83.63,328.33 L84.11,327.57 L84.60,326.77 L85.09,325.91 L85.58,324.99 L86.07,324.01 L86.56,322.96 L87.04,321.86 L87.53,320.73 L88.02,319.58 L88.51,318.41 L89.00,317.23 L89.49,316.02 L89.97,314.72 L90.46,313.29 L90.95,311.71 L91.44,310.01 L91.93,308.18 L92.42,306.27 L92.90,304.27 L93.39,302.21 L93.88,300.10 L94.37,297.95 L94.86,295.76 L95.35,293.54 L95.83,291.31 L96.32,289.07 L96.81,286.83 L97.30,284.58 L97.79,282.33 L98.28,280.09 L98.76,277.86 L99.25,275.63 L99.74,273.42 L100.23,271.22 L100.72,269.03 L101.21,266.85 L101.69,264.70 L102.18,262.56 L102.67,260.43 L103.16,258.33 L103.65,256.26 L104.13,254.21 L104.62,252.21 L105.11,250.24 L105.60,248.31 L106.09,246.44 L106.58,244.62 L107.06,242.85 L107.55,241.15 L108.04,239.52 L108.53,237.95 L109.02,236.46 L109.51,235.05 L109.99,233.72 L110.48,232.47 L110.97,231.30 L111.46,230.21 L111.95,229.19 L112.44,228.24 L112.92,227.37 L113.41,226.56 L113.90,225.81 L114.39,225.12 L114.88,224.49 L115.37,223.92 L115.85,223.42 L116.34,222.97 L116.83,222.59 L117.32,222.27 L117.81,222.02 L118.30,221.84 L118.78,221.72 L119.27,221.68 L119.76,221.70 L120.25,221.79 L120.74,221.94 L121.23,222.16 L121.71,222.45 L122.20,222.79 L122.69,223.20 L123.18,223.66 L123.67,224.19 L124.15,224.79 L124.64,225.45 L125.13,226.18 L125.62,226.97 L126.11,227.84 L126.60,228.78 L127.08,229.79 L127.57,230.86 L128.06,231.99 L128.55,233.18 L129.04,234.41 L129.53,235.68 L130.01,236.99 L130.50,238.33 L130.99,239.70 L131.48,241.10 L131.97,242.51 L132.46,243.94 L132.94,245.38 L133.43,246.82 L133.92,248.28 L134.41,249.74 L134.90,251.20 L135.39,252.66 L135.87,254.11 L136.36,255.57 L136.85,257.01 L137.34,258.45 L137.83,259.87 L138.32,261.28 L138.80,262.67 L139.29,264.05 L139.78,265.40 L140.27,266.74 L140.76,268.06 L141.25,269.35 L141.73,270.63 L142.22,271.89 L142.71,273.13 L143.20,274.35 L143.69,275.55 L144.17,276.72 L144.66,277.88 L145.15,279.02 L145.64,280.13 L146.13,281.22 L146.62,282.29 L147.10,283.34 L147.59,284.37 L148.08,285.38 L148.57,286.37 L149.06,287.33 L149.55,288.28 L150.03,289.20 L150.52,290.11 L151.01,290.99 L151.50,291.85 L151.99,292.70 L152.48,293.52 L152.96,294.32 L153.45,295.11 L153.94,295.87 L154.43,296.62 L154.92,297.35 L155.41,298.06 L155.89,298.75 L156.38,299.43 L156.87,300.09 L157.36,300.73 L157.85,301.36 L158.34,301.97 L158.82,302.56 L159.31,303.14 L159.80,303.71 L160.29,304.26 L160.78,304.80 L161.27,305.32 L161.75,305.83 L162.24,306.33 L162.73,306.81 L163.22,307.29 L163.71,307.75 L164.19,308.20 L164.68,308.64 L165.17,309.07 L165.66,309.49 L166.15,309.89 L166.64,310.30 L167.12,310.69 L167.61,311.07 L168.10,311.45 L168.59,311.82 L169.08,312.18 L169.57,312.53 L170.05,312.88 L170.54,313.23 L171.03,313.57 L171.52,313.90 L172.01,314.23 L172.50,314.55 L172.98,314.87 L173.47,315.18 L173.96,315.49 L174.45,315.80 L174.94,316.10 L175.43,316.39 L175.91,316.68 L176.40,316.97 L176.89,317.25 L177.38,317.53 L177.87,317.80 L178.36,318.07 L178.84,318.34 L179.33,318.60 L179.82,318.85 L180.31,319.11 L180.80,319.36 L181.29,319.60 L181.77,319.84 L182.26,320.08 L182.75,320.31 L183.24,320.54 L183.73,320.77 L184.22,320.99 L184.70,321.21 L185.19,321.43 L185.68,321.64 L186.17,321.84 L186.66,322.05 L187.14,322.25 L187.63,322.44 L188.12,322.63 L188.61,322.82 L189.10,323.00 L189.59,323.18 L190.07,323.35 L190.56,323.52 L191.05,323.69 L191.54,323.85 L192.03,324.00 L192.52,324.15 L193.00,324.30 L193.49,324.44 L193.98,324.58 L194.47,324.71 L194.96,324.84 L195.45,324.97 L195.93,325.09 L196.42,325.21 L196.91,325.32 L197.40,325.43 L197.89,325.54 L198.38,325.65 L198.86,325.75 L199.35,325.85 L199.84,325.95 L200.33,326.04 L200.82,326.14 L201.31,326.23 L201.79,326.32 L202.28,326.41 L202.77,326.49 L203.26,326.58 L203.75,326.67 L204.24,326.75 L204.72,326.83 L205.21,326.92 L205.70,327.00" fill="none" stroke="#008000" stroke-width="1.25" stroke-linejoin="round" stroke-linecap="round"/>
<path d="M59.70,336.30 L60.19,336.40 L60.68,336.49 L61.16,336.59 L61.65,336.68 L62.14,336.76 L62.63,336.84 L63.12,336.91 L63.61,336.97 L64.09,337.03 L64.58,337.07 L65.07,337.11 L65.56,337.14 L66.05,337.17 L66.54,337.18 L67.02,337.19 L67.51,337.19 L68.00,337.19 L68.49,337.17 L68.98,337.15 L69.47,337.11 L69.95,337.06 L70.44,337.00 L70.93,336.93 L71.42,336.84 L71.91,336.74 L72.40,336.62 L72.88,336.50 L73.37,336.37 L73.86,336.22 L74.35,336.07 L74.84,335.91 L75.33,335.73 L75.81,335.53 L76.30,335.31 L76.79,335.06 L77.28,334.79 L77.77,334.49 L78.26,334.16 L78.74,333.79 L79.23,333.39 L79.72,332.95 L80.21,332.48 L80.70,331.98 L81.18,331.44 L81.67,330.87 L82.16,330.27 L82.65,329.64 L83.14,328.97 L83.63,328.25 L84.11,327.49 L84.60,326.68 L85.09,325.81 L85.58,324.89 L86.07,323.89 L86.56,322.84 L87.04,321.73 L87.53,320.59 L88.02,319.42 L88.51,318.24 L89.00,317.06 L89.49,315.83 L89.97,314.52 L90.46,313.08 L90.95,311.49 L91.44,309.76 L91.93,307.93 L92.42,305.99 L92.90,303.98 L93.39,301.90 L93.88,299.77 L94.37,297.59 L94.86,295.38 L95.35,293.15 L95.83,290.89 L96.32,288.63 L96.81,286.37 L97.30,284.10 L97.79,281.84 L98.28,279.58 L98.76,277.32 L99.25,275.07 L99.74,272.84 L100.23,270.62 L100.72,268.41 L101.21,266.21 L101.69,264.04 L102.18,261.88 L102.67,259.74 L103.16,257.62 L103.65,255.52 L104.13,253.46 L104.62,251.43 L105.11,249.45 L105.60,247.50 L106.09,245.61 L106.58,243.77 L107.06,241.99 L107.55,240.28 L108.04,238.63 L108.53,237.05 L109.02,235.55 L109.51,234.12 L109.99,232.77 L110.48,231.51 L110.97,230.33 L111.46,229.23 L111.95,228.20 L112.44,227.25 L112.92,226.37 L113.41,225.55 L113.90,224.79 L114.39,224.10 L114.88,223.46 L115.37,222.89 L115.85,222.38 L116.34,221.93 L116.83,221.54 L117.32,221.22 L117.81,220.97 L118.30,220.79 L118.78,220.67 L119.27,220.62 L119.76,220.65 L120.25,220.74 L120.74,220.89 L121.23,221.11 L121.71,221.40 L122.20,221.75 L122.69,222.16 L123.18,222.63 L123.67,223.16 L124.15,223.76 L124.64,224.43 L125.13,225.16 L125.62,225.97 L126.11,226.85 L126.60,227.80 L127.08,228.81 L127.57,229.89 L128.06,231.03 L128.55,232.23 L129.04,233.47 L129.53,234.75 L130.01,236.07 L130.50,237.43 L130.99,238.81 L131.48,240.22 L131.97,241.65 L132.46,243.09 L132.94,244.54 L133.43,246.00 L133.92,247.47 L134.41,248.94 L134.90,250.41 L135.39,251.89 L135.87,253.36 L136.36,254.82 L136.85,256.28 L137.34,257.73 L137.83,259.17 L138.32,260.59 L138.80,261.99 L139.29,263.38 L139.78,264.75 L140.27,266.10 L140.76,267.43 L141.25,268.74 L141.73,270.03 L142.22,271.30 L142.71,272.55 L143.20,273.78 L143.69,274.99 L144.17,276.18 L144.66,277.34 L145.15,278.49 L145.64,279.61 L146.13,280.72 L146.62,281.80 L147.10,282.86 L147.59,283.89 L148.08,284.91 L148.57,285.91 L149.06,286.88 L149.55,287.83 L150.03,288.77 L150.52,289.68 L151.01,290.57 L151.50,291.44 L151.99,292.30 L152.48,293.13 L152.96,293.94 L153.45,294.73 L153.94,295.50 L154.43,296.26 L154.92,296.99 L155.41,297.71 L155.89,298.41 L156.38,299.09 L156.87,299.76 L157.36,300.40 L157.85,301.04 L158.34,301.65 L158.82,302.25 L159.31,302.84 L159.80,303.41 L160.29,303.97 L160.78,304.51 L161.27,305.04 L161.75,305.55 L162.24,306.05 L162.73,306.54 L163.22,307.02 L163.71,307.48 L164.19,307.94 L164.68,308.38 L165.17,308.81 L165.66,309.24 L166.15,309.65 L166.64,310.06 L167.12,310.45 L167.61,310.84 L168.10,311.22 L168.59,311.59 L169.08,311.96 L169.57,312.31 L170.05,312.67 L170.54,313.01 L171.03,313.36 L171.52,313.69 L172.01,314.02 L172.50,314.35 L172.98,314.67 L173.47,314.99 L173.96,315.30 L174.45,315.61 L174.94,315.91 L175.43,316.21 L175.91,316.50 L176.40,316.79 L176.89,317.08 L177.38,317.36 L177.87,317.63 L178.36,317.90 L178.84,318.17 L179.33,318.43 L179.82,318.69 L180.31,318.95 L180.80,319.20 L181.29,319.45 L181.77,319.69 L182.26,319.93 L182.75,320.17 L183.24,320.40 L183.73,320.63 L184.22,320.85 L184.70,321.07 L185.19,321.29 L185.68,321.50 L186.17,321.71 L186.66,321.92 L187.14,322.12 L187.63,322.31 L188.12,322.51 L188.61,322.69 L189.10,322.88 L189.59,323.06 L190.07,323.23 L190.56,323.40 L191.05,323.57 L191.54,323.73 L192.03,323.89 L192.52,324.04 L193.00,324.19 L193.49,324.33 L193.98,324.47 L194.47,324.61 L194.96,324.74 L195.45,324.86 L195.93,324.99 L196.42,325.11 L196.91,325.22 L197.40,325.33 L197.89,325.44 L198.38,325.55 L198.86,325.65 L199.35,325.75 L199.84,325.85 L200.33,325.95 L200.82,326.04 L201.31,326.13 L201.79,326.23 L202.28,326.31 L202.77,326.40 L203.26,326.49 L203.75,326.58 L204.24,326.66 L204.72,326.75 L205.21,326.83 L205.70,326.92" fill="none" stroke="#000080" stroke-width="1.25" stroke-linejoin="round" stroke-linecap="round"/>
<path d="M59.70,336.30 L60.19,336.40 L60.68,336.50 L61.16,336.59 L61.65,336.68 L62.14,336.77 L62.63,336.84 L63.12,336.92 L63.61,336.98 L64.09,337.03 L64.58,337.08 L65.07,337.12 L65.56,337.15 L66.05,337.17 L66.54,337.19 L67.02,337.20 L67.51,337.20 L68.00,337.19 L68.49,337.18 L68.98,337.15 L69.47,337.12 L69.95,337.07 L70.44,337.01 L70.93,336.93 L71.42,336.84 L71.91,336.74 L72.40,336.63 L72.88,336.50 L73.37,336.37 L73.86,336.22 L74.35,336.07 L74.84,335.90 L75.33,335.72 L75.81,335.52 L76.30,335.29 L76.79,335.05 L77.28,334.77 L77.77,334.47 L78.26,334.13 L78.74,333.76 L79.23,333.35 L79.72,332.91 L80.21,332.43 L80.70,331.92 L81.18,331.38 L81.67,330.80 L82.16,330.20 L82.65,329.55 L83.14,328.88 L83.63,328.15 L84.11,327.39 L84.60,326.56 L85.09,325.69 L85.58,324.75 L86.07,323.74 L86.56,322.67 L87.04,321.55 L87.53,320.40 L88.02,319.22 L88.51,318.02 L89.00,316.82 L89.49,315.58 L89.97,314.26 L90.46,312.79 L90.95,311.18 L91.44,309.44 L91.93,307.58 L92.42,305.62 L92.90,303.58 L93.39,301.48 L93.88,299.32 L94.37,297.12 L94.86,294.88 L95.35,292.62 L95.83,290.34 L96.32,288.05 L96.81,285.76 L97.30,283.47 L97.79,281.17 L98.28,278.89 L98.76,276.60 L99.25,274.33 L99.74,272.07 L100.23,269.82 L100.72,267.58 L101.21,265.36 L101.69,263.16 L102.18,260.97 L102.67,258.80 L103.16,256.66 L103.65,254.54 L104.13,252.45 L104.62,250.40 L105.11,248.39 L105.60,246.42 L106.09,244.51 L106.58,242.65 L107.06,240.85 L107.55,239.11 L108.04,237.44 L108.53,235.84 L109.02,234.32 L109.51,232.88 L109.99,231.52 L110.48,230.24 L110.97,229.04 L111.46,227.93 L111.95,226.89 L112.44,225.92 L112.92,225.03 L113.41,224.20 L113.90,223.44 L114.39,222.74 L114.88,222.09 L115.37,221.51 L115.85,220.99 L116.34,220.54 L116.83,220.15 L117.32,219.82 L117.81,219.57 L118.30,219.38 L118.78,219.26 L119.27,219.22 L119.76,219.24 L120.25,219.33 L120.74,219.49 L121.23,219.71 L121.71,220.00 L122.20,220.35 L122.69,220.77 L123.18,221.25 L123.67,221.79 L124.15,222.39 L124.64,223.07 L125.13,223.81 L125.62,224.63 L126.11,225.52 L126.60,226.48 L127.08,227.51 L127.57,228.60 L128.06,229.75 L128.55,230.96 L129.04,232.22 L129.53,233.52 L130.01,234.86 L130.50,236.23 L130.99,237.63 L131.48,239.05 L131.97,240.50 L132.46,241.95 L132.94,243.42 L133.43,244.90 L133.92,246.39 L134.41,247.88 L134.90,249.37 L135.39,250.86 L135.87,252.35 L136.36,253.83 L136.85,255.31 L137.34,256.78 L137.83,258.23 L138.32,259.67 L138.80,261.09 L139.29,262.49 L139.78,263.88 L140.27,265.24 L140.76,266.59 L141.25,267.92 L141.73,269.22 L142.22,270.51 L142.71,271.77 L143.20,273.02 L143.69,274.24 L144.17,275.44 L144.66,276.63 L145.15,277.79 L145.64,278.92 L146.13,280.04 L146.62,281.13 L147.10,282.21 L147.59,283.26 L148.08,284.29 L148.57,285.29 L149.06,286.28 L149.55,287.24 L150.03,288.19 L150.52,289.11 L151.01,290.02 L151.50,290.90 L151.99,291.76 L152.48,292.60 L152.96,293.42 L153.45,294.22 L153.94,295.01 L154.43,295.77 L154.92,296.51 L155.41,297.24 L155.89,297.95 L156.38,298.64 L156.87,299.31 L157.36,299.97 L157.85,300.61 L158.34,301.23 L158.82,301.84 L159.31,302.43 L159.80,303.01 L160.29,303.57 L160.78,304.12 L161.27,304.65 L161.75,305.18 L162.24,305.68 L162.73,306.18 L163.22,306.66 L163.71,307.13 L164.19,307.59 L164.68,308.04 L165.17,308.48 L165.66,308.91 L166.15,309.33 L166.64,309.74 L167.12,310.14 L167.61,310.53 L168.10,310.91 L168.59,311.29 L169.08,311.66 L169.57,312.02 L170.05,312.38 L170.54,312.73 L171.03,313.08 L171.52,313.42 L172.01,313.75 L172.50,314.08 L172.98,314.41 L173.47,314.73 L173.96,315.05 L174.45,315.36 L174.94,315.66 L175.43,315.96 L175.91,316.26 L176.40,316.55 L176.89,316.84 L177.38,317.12 L177.87,317.40 L178.36,317.68 L178.84,317.95 L179.33,318.21 L179.82,318.48 L180.31,318.74 L180.80,318.99 L181.29,319.24 L181.77,319.49 L182.26,319.73 L182.75,319.97 L183.24,320.20 L183.73,320.44 L184.22,320.66 L184.70,320.89 L185.19,321.11 L185.68,321.32 L186.17,321.53 L186.66,321.74 L187.14,321.94 L187.63,322.14 L188.12,322.34 L188.61,322.53 L189.10,322.71 L189.59,322.90 L190.07,323.07 L190.56,323.25 L191.05,323.41 L191.54,323.58 L192.03,323.74 L192.52,323.89 L193.00,324.04 L193.49,324.19 L193.98,324.33 L194.47,324.46 L194.96,324.60 L195.45,324.72 L195.93,324.85 L196.42,324.97 L196.91,325.08 L197.40,325.20 L197.89,325.31 L198.38,325.42 L198.86,325.52 L199.35,325.62 L199.84,325.72 L200.33,325.82 L200.82,325.92 L201.31,326.01 L201.79,326.10 L202.28,326.19 L202.77,326.28 L203.26,326.37 L203.75,326.46 L204.24,326.54 L204.72,326.63 L205.21,326.71 L205.70,326.80" fill="none" stroke="#8000FF" stroke-width="1.25" stroke-linejoin="round" stroke-linecap="round"/>
<path d="M250.90,338.89 L251.40,338.88 L251.90,338.87 L252.40,338.84 L252.90,338.79 L253.40,338.72 L253.90,338.61 L254.40,338.46 L254.89,338.26 L255.39,338.01 L255.89,337.69 L256.39,337.31 L256.89,336.86 L257.39,336.35 L257.89,335.79 L258.39,335.17 L258.89,334.49 L259.39,333.77 L259.89,333.01 L260.39,332.22 L260.89,331.39 L261.39,330.53 L261.89,329.66 L262.38,328.77 L262.88,327.88 L263.38,327.00 L263.88,326.13 L264.38,325.29 L264.88,324.49 L265.38,323.72 L265.88,323.00 L266.38,322.31 L266.88,321.66 L267.38,321.04 L267.88,320.46 L268.38,319.91 L268.88,319.39 L269.38,318.91 L269.87,318.45 L270.37,318.02 L270.87,317.62 L271.37,317.24 L271.87,316.87 L272.37,316.52 L272.87,316.17 L273.37,315.82 L273.87,315.46 L274.37,315.10 L274.87,314.73 L275.37,314.34 L275.87,313.93 L276.37,313.50 L276.87,313.05 L277.36,312.56 L277.86,312.04 L278.36,311.49 L278.86,310.89 L279.36,310.25 L279.86,309.58 L280.36,308.86 L280.86,308.11 L281.36,307.31 L281.86,306.48 L282.36,305.60 L282.86,304.67 L283.36,303.71 L283.86,302.69 L284.36,301.63 L284.85,300.51 L285.35,299.32 L285.85,298.08 L286.35,296.76 L286.85,295.37 L287.35,293.90 L287.85,292.35 L288.35,290.72 L288.85,289.03 L289.35,287.28 L289.85,285.49 L290.35,283.66 L290.85,281.81 L291.35,279.96 L291.85,278.10 L292.34,276.26 L292.84,274.44 L293.34,272.65 L293.84,270.88 L294.34,269.14 L294.84,267.43 L295.34,265.75 L295.84,264.11 L296.34,262.50 L296.84,260.94 L297.34,259.41 L297.84,257.92 L298.34,256.47 L298.84,255.07 L299.34,253.72 L299.83,252.42 L300.33,251.16 L300.83,249.96 L301.33,248.82 L301.83,247.73 L302.33,246.69 L302.83,245.72 L303.33,244.81 L303.83,243.96 L304.33,243.18 L304.83,242.46 L305.33,241.81 L305.83,241.23 L306.33,240.71 L306.83,240.27 L307.32,239.89 L307.82,239.59 L308.32,239.35 L308.82,239.18 L309.32,239.09 L309.82,239.06 L310.32,239.10 L310.82,239.21 L311.32,239.38 L311.82,239.62 L312.32,239.91 L312.82,240.25 L313.32,240.65 L313.82,241.09 L314.32,241.57 L314.81,242.10 L315.31,242.66 L315.81,243.25 L316.31,243.89 L316.81,244.56 L317.31,245.26 L317.81,246.01 L318.31,246.80 L318.81,247.64 L319.31,248.51 L319.81,249.44 L320.31,250.40 L320.81,251.42 L321.31,252.48 L321.81,253.59 L322.30,254.75 L322.80,255.95 L323.30,257.20 L323.80,258.48 L324.30,259.78 L324.80,261.11 L325.30,262.46 L325.80,263.82 L326.30,265.18 L326.80,266.55 L327.30,267.91 L327.80,269.27 L328.30,270.60 L328.80,271.92 L329.29,273.22 L329.79,274.49 L330.29,275.73 L330.79,276.95 L331.29,278.15 L331.79,279.33 L332.29,280.48 L332.79,281.61 L333.29,282.71 L333.79,283.79 L334.29,284.85 L334.79,285.88 L335.29,286.89 L335.79,287.88 L336.29,288.84 L336.78,289.79 L337.28,290.71 L337.78,291.62 L338.28,292.50 L338.78,293.38 L339.28,294.24 L339.78,295.08 L340.28,295.92 L340.78,296.74 L341.28,297.56 L341.78,298.37 L342.28,299.17 L342.78,299.97 L343.28,300.76 L343.78,301.55 L344.27,302.32 L344.77,303.09 L345.27,303.85 L345.77,304.60 L346.27,305.33 L346.77,306.05 L347.27,306.75 L347.77,307.44 L348.27,308.10 L348.77,308.75 L349.27,309.38 L349.77,309.98 L350.27,310.56 L350.77,311.13 L351.27,311.67 L351.76,312.20 L352.26,312.70 L352.76,313.19 L353.26,313.67 L353.76,314.12 L354.26,314.57 L354.76,314.99 L355.26,315.41 L355.76,315.81 L356.26,316.20 L356.76,316.58 L357.26,316.95 L357.76,317.31 L358.26,317.65 L358.76,318.00 L359.25,318.33 L359.75,318.66 L360.25,318.98 L360.75,319.29 L361.25,319.60 L361.75,319.91 L362.25,320.21 L362.75,320.51 L363.25,320.80 L363.75,321.08 L364.25,321.37 L364.75,321.64 L365.25,321.92 L365.75,322.18 L366.25,322.45 L366.74,322.71 L367.24,322.96 L367.74,323.21 L368.24,323.46 L368.74,323.70 L369.24,323.93 L369.74,324.17 L370.24,324.39 L370.74,324.62 L371.24,324.84 L371.74,325.05 L372.24,325.26 L372.74,325.47 L373.24,325.67 L373.74,325.87 L374.23,326.06 L374.73,326.25 L375.23,326.44 L375.73,326.63 L376.23,326.81 L376.73,326.98 L377.23,327.16 L377.73,327.33 L378.23,327.49 L378.73,327.66 L379.23,327.82 L379.73,327.98 L380.23,328.13 L380.73,328.29 L381.23,328.44 L381.72,328.59 L382.22,328.73 L382.72,328.88 L383.22,329.02 L383.72,329.16 L384.22,329.29 L384.72,329.43 L385.22,329.57 L385.72,329.70 L386.22,329.83 L386.72,329.96 L387.22,330.08 L387.72,330.21 L388.22,330.33 L388.72,330.46 L389.21,330.58 L389.71,330.70 L390.21,330.82 L390.71,330.94 L391.21,331.05 L391.71,331.17 L392.21,331.28 L392.71,331.40 L393.21,331.51 L393.71,331.62 L394.21,331.73 L394.71,331.84 L395.21,331.95 L395.71,332.06 L396.21,332.17 L396.70,332.28 L397.20,332.39 L397.70,332.50 L398.20,332.60 L398.70,332.71 L399.20,332.82 L399.70,332.92 L400.20,333.03" fill="none" stroke="#000000" stroke-width="1.25" stroke-linejoin="round" stroke-linecap="round"/>
<path d="M250.90,338.86 L251.40,338.85 L251.90,338.84 L252.40,338.81 L252.90,338.76 L253.40,338.69 L253.90,338.57 L254.40,338.42 L254.89,338.21 L255.39,337.95 L255.89,337.62 L256.39,337.23 L256.89,336.78 L257.39,336.26 L257.89,335.69 L258.39,335.07 L258.89,334.40 L259.39,333.69 L259.89,332.95 L260.39,332.18 L260.89,331.38 L261.39,330.57 L261.89,329.75 L262.38,328.94 L262.88,328.12 L263.38,327.33 L263.88,326.57 L264.38,325.84 L264.88,325.16 L265.38,324.52 L265.88,323.93 L266.38,323.37 L266.88,322.86 L267.38,322.38 L267.88,321.94 L268.38,321.53 L268.88,321.14 L269.38,320.78 L269.87,320.44 L270.37,320.12 L270.87,319.82 L271.37,319.52 L271.87,319.22 L272.37,318.93 L272.87,318.63 L273.37,318.31 L273.87,317.98 L274.37,317.62 L274.87,317.24 L275.37,316.84 L275.87,316.40 L276.37,315.92 L276.87,315.41 L277.36,314.85 L277.86,314.25 L278.36,313.60 L278.86,312.90 L279.36,312.15 L279.86,311.35 L280.36,310.50 L280.86,309.60 L281.36,308.65 L281.86,307.65 L282.36,306.60 L282.86,305.51 L283.36,304.36 L283.86,303.16 L284.36,301.91 L284.85,300.59 L285.35,299.21 L285.85,297.77 L286.35,296.25 L286.85,294.67 L287.35,293.00 L287.85,291.25 L288.35,289.43 L288.85,287.54 L289.35,285.60 L289.85,283.62 L290.35,281.61 L290.85,279.58 L291.35,277.55 L291.85,275.52 L292.34,273.52 L292.84,271.54 L293.34,269.59 L293.84,267.68 L294.34,265.81 L294.84,263.97 L295.34,262.17 L295.84,260.41 L296.34,258.69 L296.84,257.02 L297.34,255.39 L297.84,253.81 L298.34,252.27 L298.84,250.79 L299.34,249.35 L299.83,247.97 L300.33,246.65 L300.83,245.38 L301.33,244.17 L301.83,243.02 L302.33,241.93 L302.83,240.91 L303.33,239.95 L303.83,239.05 L304.33,238.23 L304.83,237.47 L305.33,236.78 L305.83,236.17 L306.33,235.63 L306.83,235.16 L307.32,234.77 L307.82,234.44 L308.32,234.20 L308.82,234.02 L309.32,233.92 L309.82,233.89 L310.32,233.93 L310.82,234.05 L311.32,234.23 L311.82,234.48 L312.32,234.78 L312.82,235.14 L313.32,235.56 L313.82,236.02 L314.32,236.53 L314.81,237.08 L315.31,237.67 L315.81,238.30 L316.31,238.96 L316.81,239.67 L317.31,240.41 L317.81,241.20 L318.31,242.03 L318.81,242.91 L319.31,243.83 L319.81,244.80 L320.31,245.81 L320.81,246.88 L321.31,248.00 L321.81,249.17 L322.30,250.39 L322.80,251.65 L323.30,252.96 L323.80,254.30 L324.30,255.68 L324.80,257.08 L325.30,258.49 L325.80,259.92 L326.30,261.36 L326.80,262.79 L327.30,264.23 L327.80,265.65 L328.30,267.06 L328.80,268.44 L329.29,269.80 L329.79,271.14 L330.29,272.45 L330.79,273.73 L331.29,274.99 L331.79,276.23 L332.29,277.44 L332.79,278.63 L333.29,279.79 L333.79,280.92 L334.29,282.04 L334.79,283.12 L335.29,284.18 L335.79,285.22 L336.29,286.24 L336.78,287.23 L337.28,288.20 L337.78,289.15 L338.28,290.08 L338.78,291.00 L339.28,291.90 L339.78,292.79 L340.28,293.67 L340.78,294.54 L341.28,295.40 L341.78,296.25 L342.28,297.09 L342.78,297.93 L343.28,298.77 L343.78,299.59 L344.27,300.41 L344.77,301.22 L345.27,302.02 L345.77,302.80 L346.27,303.57 L346.77,304.33 L347.27,305.07 L347.77,305.79 L348.27,306.49 L348.77,307.17 L349.27,307.83 L349.77,308.46 L350.27,309.08 L350.77,309.67 L351.27,310.24 L351.76,310.79 L352.26,311.32 L352.76,311.84 L353.26,312.34 L353.76,312.82 L354.26,313.28 L354.76,313.73 L355.26,314.17 L355.76,314.59 L356.26,315.00 L356.76,315.40 L357.26,315.79 L357.76,316.16 L358.26,316.53 L358.76,316.89 L359.25,317.24 L359.75,317.58 L360.25,317.92 L360.75,318.25 L361.25,318.58 L361.75,318.90 L362.25,319.22 L362.75,319.53 L363.25,319.84 L363.75,320.14 L364.25,320.43 L364.75,320.72 L365.25,321.01 L365.75,321.29 L366.25,321.57 L366.74,321.84 L367.24,322.11 L367.74,322.37 L368.24,322.63 L368.74,322.88 L369.24,323.13 L369.74,323.38 L370.24,323.62 L370.74,323.85 L371.24,324.08 L371.74,324.31 L372.24,324.53 L372.74,324.75 L373.24,324.96 L373.74,325.17 L374.23,325.37 L374.73,325.57 L375.23,325.77 L375.73,325.96 L376.23,326.15 L376.73,326.34 L377.23,326.52 L377.73,326.70 L378.23,326.87 L378.73,327.05 L379.23,327.22 L379.73,327.38 L380.23,327.55 L380.73,327.71 L381.23,327.87 L381.72,328.02 L382.22,328.18 L382.72,328.33 L383.22,328.48 L383.72,328.62 L384.22,328.77 L384.72,328.91 L385.22,329.05 L385.72,329.19 L386.22,329.33 L386.72,329.47 L387.22,329.60 L387.72,329.73 L388.22,329.86 L388.72,329.99 L389.21,330.12 L389.71,330.25 L390.21,330.37 L390.71,330.50 L391.21,330.62 L391.71,330.74 L392.21,330.86 L392.71,330.98 L393.21,331.10 L393.71,331.22 L394.21,331.33 L394.71,331.45 L395.21,331.57 L395.71,331.68 L396.21,331.80 L396.70,331.91 L397.20,332.02 L397.70,332.14 L398.20,332.25 L398.70,332.36 L399.20,332.47 L399.70,332.59 L400.20,332.70" fill="none" stroke="#FF0000" stroke-width="1.25" stroke-linejoin="round" stroke-linecap="round"/>
<path d="M250.90,338.84 L251.40,338.84 L251.90,338.82 L252.40,338.80 L252.90,338.75 L253.40,338.67 L253.90,338.55 L254.40,338.39 L254.89,338.18 L255.39,337.91 L255.89,337.58 L256.39,337.18 L256.89,336.71 L257.39,336.18 L257.89,335.59 L258.39,334.95 L258.89,334.27 L259.39,333.53 L259.89,332.76 L260.39,331.96 L260.89,331.14 L261.39,330.30 L261.89,329.44 L262.38,328.59 L262.88,327.74 L263.38,326.91 L263.88,326.10 L264.38,325.33 L264.88,324.61 L265.38,323.93 L265.88,323.30 L266.38,322.70 L266.88,322.15 L267.38,321.63 L267.88,321.15 L268.38,320.71 L268.88,320.29 L269.38,319.89 L269.87,319.53 L270.37,319.18 L270.87,318.84 L271.37,318.52 L271.87,318.21 L272.37,317.89 L272.87,317.57 L273.37,317.24 L273.87,316.89 L274.37,316.53 L274.87,316.14 L275.37,315.72 L275.87,315.27 L276.37,314.79 L276.87,314.27 L277.36,313.71 L277.86,313.11 L278.36,312.45 L278.86,311.75 L279.36,311.00 L279.86,310.20 L280.36,309.34 L280.86,308.44 L281.36,307.49 L281.86,306.49 L282.36,305.44 L282.86,304.34 L283.36,303.19 L283.86,301.98 L284.36,300.72 L284.85,299.40 L285.35,298.02 L285.85,296.56 L286.35,295.04 L286.85,293.43 L287.35,291.75 L287.85,289.99 L288.35,288.14 L288.85,286.23 L289.35,284.26 L289.85,282.25 L290.35,280.21 L290.85,278.16 L291.35,276.09 L291.85,274.03 L292.34,272.00 L292.84,269.99 L293.34,268.01 L293.84,266.07 L294.34,264.16 L294.84,262.29 L295.34,260.45 L295.84,258.66 L296.34,256.91 L296.84,255.20 L297.34,253.54 L297.84,251.93 L298.34,250.36 L298.84,248.85 L299.34,247.38 L299.83,245.97 L300.33,244.62 L300.83,243.33 L301.33,242.09 L301.83,240.92 L302.33,239.81 L302.83,238.76 L303.33,237.78 L303.83,236.86 L304.33,236.02 L304.83,235.25 L305.33,234.55 L305.83,233.92 L306.33,233.37 L306.83,232.89 L307.32,232.49 L307.82,232.16 L308.32,231.90 L308.82,231.72 L309.32,231.62 L309.82,231.59 L310.32,231.64 L310.82,231.75 L311.32,231.94 L311.82,232.19 L312.32,232.50 L312.82,232.87 L313.32,233.30 L313.82,233.77 L314.32,234.29 L314.81,234.85 L315.31,235.46 L315.81,236.10 L316.31,236.77 L316.81,237.50 L317.31,238.26 L317.81,239.06 L318.31,239.91 L318.81,240.81 L319.31,241.75 L319.81,242.74 L320.31,243.78 L320.81,244.87 L321.31,246.01 L321.81,247.20 L322.30,248.45 L322.80,249.74 L323.30,251.08 L323.80,252.45 L324.30,253.85 L324.80,255.28 L325.30,256.73 L325.80,258.19 L326.30,259.66 L326.80,261.13 L327.30,262.59 L327.80,264.04 L328.30,265.48 L328.80,266.90 L329.29,268.29 L329.79,269.65 L330.29,270.99 L330.79,272.30 L331.29,273.59 L331.79,274.85 L332.29,276.09 L332.79,277.30 L333.29,278.49 L333.79,279.65 L334.29,280.78 L334.79,281.90 L335.29,282.98 L335.79,284.04 L336.29,285.08 L336.78,286.09 L337.28,287.08 L337.78,288.06 L338.28,289.01 L338.78,289.95 L339.28,290.87 L339.78,291.78 L340.28,292.67 L340.78,293.56 L341.28,294.44 L341.78,295.31 L342.28,296.17 L342.78,297.03 L343.28,297.88 L343.78,298.72 L344.27,299.56 L344.77,300.39 L345.27,301.20 L345.77,302.00 L346.27,302.79 L346.77,303.56 L347.27,304.32 L347.77,305.05 L348.27,305.77 L348.77,306.47 L349.27,307.14 L349.77,307.79 L350.27,308.41 L350.77,309.02 L351.27,309.60 L351.76,310.17 L352.26,310.71 L352.76,311.24 L353.26,311.74 L353.76,312.24 L354.26,312.71 L354.76,313.17 L355.26,313.62 L355.76,314.05 L356.26,314.47 L356.76,314.87 L357.26,315.27 L357.76,315.66 L358.26,316.03 L358.76,316.40 L359.25,316.76 L359.75,317.11 L360.25,317.45 L360.75,317.79 L361.25,318.12 L361.75,318.45 L362.25,318.78 L362.75,319.09 L363.25,319.41 L363.75,319.72 L364.25,320.02 L364.75,320.32 L365.25,320.61 L365.75,320.90 L366.25,321.18 L366.74,321.46 L367.24,321.73 L367.74,322.00 L368.24,322.26 L368.74,322.52 L369.24,322.78 L369.74,323.03 L370.24,323.27 L370.74,323.51 L371.24,323.75 L371.74,323.98 L372.24,324.20 L372.74,324.42 L373.24,324.64 L373.74,324.86 L374.23,325.06 L374.73,325.27 L375.23,325.47 L375.73,325.67 L376.23,325.86 L376.73,326.05 L377.23,326.24 L377.73,326.42 L378.23,326.60 L378.73,326.78 L379.23,326.95 L379.73,327.12 L380.23,327.29 L380.73,327.45 L381.23,327.61 L381.72,327.77 L382.22,327.93 L382.72,328.09 L383.22,328.24 L383.72,328.39 L384.22,328.54 L384.72,328.68 L385.22,328.83 L385.72,328.97 L386.22,329.11 L386.72,329.25 L387.22,329.38 L387.72,329.52 L388.22,329.65 L388.72,329.79 L389.21,329.92 L389.71,330.05 L390.21,330.17 L390.71,330.30 L391.21,330.43 L391.71,330.55 L392.21,330.67 L392.71,330.80 L393.21,330.92 L393.71,331.04 L394.21,331.16 L394.71,331.28 L395.21,331.39 L395.71,331.51 L396.21,331.63 L396.70,331.74 L397.20,331.86 L397.70,331.98 L398.20,332.09 L398.70,332.21 L399.20,332.32 L399.70,332.44 L400.20,332.55" fill="none" stroke="#0000FF" stroke-width="1.25" stroke-linejoin="round" stroke-linecap="round"/>
<path d="M250.90,338.83 L251.40,338.82 L251.90,338.81 L252.40,338.78 L252.90,338.73 L253.40,338.65 L253.90,338.53 L254.40,338.37 L254.89,338.16 L255.39,337.88 L255.89,337.54 L256.39,337.13 L256.89,336.65 L257.39,336.11 L257.89,335.52 L258.39,334.86 L258.89,334.16 L259.39,333.41 L259.89,332.62 L260.39,331.80 L260.89,330.95 L261.39,330.09 L261.89,329.21 L262.38,328.33 L262.88,327.46 L263.38,326.60 L263.88,325.77 L264.38,324.97 L264.88,324.22 L265.38,323.51 L265.88,322.85 L266.38,322.24 L266.88,321.66 L267.38,321.12 L267.88,320.62 L268.38,320.15 L268.88,319.71 L269.38,319.29 L269.87,318.91 L270.37,318.54 L270.87,318.19 L271.37,317.86 L271.87,317.53 L272.37,317.20 L272.87,316.87 L273.37,316.53 L273.87,316.17 L274.37,315.80 L274.87,315.40 L275.37,314.97 L275.87,314.52 L276.37,314.03 L276.87,313.51 L277.36,312.94 L277.86,312.33 L278.36,311.67 L278.86,310.96 L279.36,310.20 L279.86,309.39 L280.36,308.53 L280.86,307.62 L281.36,306.66 L281.86,305.65 L282.36,304.59 L282.86,303.48 L283.36,302.32 L283.86,301.11 L284.36,299.83 L284.85,298.50 L285.35,297.10 L285.85,295.63 L286.35,294.09 L286.85,292.47 L287.35,290.77 L287.85,288.98 L288.35,287.11 L288.85,285.17 L289.35,283.18 L289.85,281.14 L290.35,279.07 L290.85,276.98 L291.35,274.89 L291.85,272.80 L292.34,270.73 L292.84,268.69 L293.34,266.68 L293.84,264.71 L294.34,262.77 L294.84,260.87 L295.34,259.00 L295.84,257.18 L296.34,255.40 L296.84,253.67 L297.34,251.98 L297.84,250.33 L298.34,248.74 L298.84,247.20 L299.34,245.71 L299.83,244.28 L300.33,242.90 L300.83,241.58 L301.33,240.33 L301.83,239.13 L302.33,238.00 L302.83,236.93 L303.33,235.94 L303.83,235.01 L304.33,234.15 L304.83,233.36 L305.33,232.65 L305.83,232.01 L306.33,231.45 L306.83,230.96 L307.32,230.55 L307.82,230.21 L308.32,229.96 L308.82,229.77 L309.32,229.67 L309.82,229.64 L310.32,229.68 L310.82,229.80 L311.32,229.99 L311.82,230.25 L312.32,230.57 L312.82,230.94 L313.32,231.37 L313.82,231.86 L314.32,232.39 L314.81,232.96 L315.31,233.57 L315.81,234.22 L316.31,234.92 L316.81,235.65 L317.31,236.42 L317.81,237.24 L318.31,238.11 L318.81,239.02 L319.31,239.98 L319.81,240.99 L320.31,242.04 L320.81,243.15 L321.31,244.31 L321.81,245.53 L322.30,246.80 L322.80,248.12 L323.30,249.48 L323.80,250.87 L324.30,252.30 L324.80,253.76 L325.30,255.23 L325.80,256.72 L326.30,258.21 L326.80,259.71 L327.30,261.20 L327.80,262.68 L328.30,264.14 L328.80,265.58 L329.29,267.00 L329.79,268.39 L330.29,269.75 L330.79,271.09 L331.29,272.40 L331.79,273.68 L332.29,274.94 L332.79,276.18 L333.29,277.38 L333.79,278.57 L334.29,279.72 L334.79,280.85 L335.29,281.96 L335.79,283.04 L336.29,284.09 L336.78,285.12 L337.28,286.13 L337.78,287.12 L338.28,288.10 L338.78,289.05 L339.28,289.99 L339.78,290.91 L340.28,291.83 L340.78,292.73 L341.28,293.62 L341.78,294.51 L342.28,295.38 L342.78,296.26 L343.28,297.13 L343.78,297.99 L344.27,298.84 L344.77,299.68 L345.27,300.51 L345.77,301.32 L346.27,302.13 L346.77,302.91 L347.27,303.68 L347.77,304.43 L348.27,305.16 L348.77,305.87 L349.27,306.55 L349.77,307.21 L350.27,307.85 L350.77,308.47 L351.27,309.06 L351.76,309.64 L352.26,310.19 L352.76,310.72 L353.26,311.24 L353.76,311.74 L354.26,312.23 L354.76,312.69 L355.26,313.15 L355.76,313.59 L356.26,314.01 L356.76,314.43 L357.26,314.83 L357.76,315.22 L358.26,315.61 L358.76,315.98 L359.25,316.34 L359.75,316.70 L360.25,317.05 L360.75,317.40 L361.25,317.74 L361.75,318.07 L362.25,318.40 L362.75,318.72 L363.25,319.04 L363.75,319.36 L364.25,319.67 L364.75,319.97 L365.25,320.27 L365.75,320.56 L366.25,320.85 L366.74,321.13 L367.24,321.41 L367.74,321.68 L368.24,321.95 L368.74,322.21 L369.24,322.47 L369.74,322.73 L370.24,322.98 L370.74,323.22 L371.24,323.46 L371.74,323.70 L372.24,323.93 L372.74,324.15 L373.24,324.37 L373.74,324.59 L374.23,324.80 L374.73,325.01 L375.23,325.22 L375.73,325.42 L376.23,325.61 L376.73,325.81 L377.23,326.00 L377.73,326.18 L378.23,326.37 L378.73,326.55 L379.23,326.72 L379.73,326.90 L380.23,327.07 L380.73,327.23 L381.23,327.40 L381.72,327.56 L382.22,327.72 L382.72,327.88 L383.22,328.03 L383.72,328.19 L384.22,328.34 L384.72,328.49 L385.22,328.63 L385.72,328.78 L386.22,328.92 L386.72,329.06 L387.22,329.20 L387.72,329.34 L388.22,329.47 L388.72,329.61 L389.21,329.74 L389.71,329.87 L390.21,330.00 L390.71,330.13 L391.21,330.26 L391.71,330.39 L392.21,330.51 L392.71,330.64 L393.21,330.76 L393.71,330.88 L394.21,331.01 L394.71,331.13 L395.21,331.25 L395.71,331.37 L396.21,331.49 L396.70,331.60 L397.20,331.72 L397.70,331.84 L398.20,331.96 L398.70,332.07 L399.20,332.19 L399.70,332.31 L400.20,332.42" fill="none" stroke="#008000" stroke-width="1.25" stroke-linejoin="round" stroke-linecap="round"/>
<path d="M250.90,338.82 L251.40,338.81 L251.90,338.80 L252.40,338.77 L252.90,338.71 L253.40,338.63 L253.90,338.51 L254.40,338.34 L254.89,338.12 L255.39,337.84 L255.89,337.49 L256.39,337.07 L256.89,336.57 L257.39,336.01 L257.89,335.39 L258.39,334.71 L258.89,333.97 L259.39,333.18 L259.89,332.35 L260.39,331.48 L260.89,330.57 L261.39,329.65 L261.89,328.70 L262.38,327.75 L262.88,326.79 L263.38,325.84 L263.88,324.92 L264.38,324.03 L264.88,323.18 L265.38,322.37 L265.88,321.61 L266.38,320.89 L266.88,320.21 L267.38,319.57 L267.88,318.97 L268.38,318.41 L268.88,317.88 L269.38,317.38 L269.87,316.91 L270.37,316.47 L270.87,316.05 L271.37,315.65 L271.87,315.27 L272.37,314.90 L272.87,314.53 L273.37,314.15 L273.87,313.77 L274.37,313.37 L274.87,312.96 L275.37,312.53 L275.87,312.07 L276.37,311.59 L276.87,311.07 L277.36,310.51 L277.86,309.92 L278.36,309.28 L278.86,308.60 L279.36,307.87 L279.86,307.09 L280.36,306.26 L280.86,305.39 L281.36,304.47 L281.86,303.51 L282.36,302.49 L282.86,301.43 L283.36,300.32 L283.86,299.15 L284.36,297.92 L284.85,296.63 L285.35,295.28 L285.85,293.85 L286.35,292.35 L286.85,290.76 L287.35,289.09 L287.85,287.33 L288.35,285.48 L288.85,283.57 L289.35,281.59 L289.85,279.56 L290.35,277.50 L290.85,275.42 L291.35,273.33 L291.85,271.24 L292.34,269.17 L292.84,267.12 L293.34,265.11 L293.84,263.12 L294.34,261.17 L294.84,259.26 L295.34,257.38 L295.84,255.54 L296.34,253.74 L296.84,251.98 L297.34,250.27 L297.84,248.61 L298.34,246.99 L298.84,245.43 L299.34,243.92 L299.83,242.46 L300.33,241.07 L300.83,239.73 L301.33,238.45 L301.83,237.23 L302.33,236.08 L302.83,235.00 L303.33,233.98 L303.83,233.04 L304.33,232.16 L304.83,231.36 L305.33,230.63 L305.83,229.98 L306.33,229.41 L306.83,228.92 L307.32,228.50 L307.82,228.16 L308.32,227.89 L308.82,227.71 L309.32,227.60 L309.82,227.57 L310.32,227.62 L310.82,227.74 L311.32,227.93 L311.82,228.19 L312.32,228.52 L312.82,228.90 L313.32,229.34 L313.82,229.83 L314.32,230.37 L314.81,230.95 L315.31,231.58 L315.81,232.24 L316.31,232.95 L316.81,233.69 L317.31,234.48 L317.81,235.32 L318.31,236.20 L318.81,237.13 L319.31,238.10 L319.81,239.13 L320.31,240.21 L320.81,241.34 L321.31,242.52 L321.81,243.76 L322.30,245.05 L322.80,246.39 L323.30,247.78 L323.80,249.21 L324.30,250.66 L324.80,252.14 L325.30,253.64 L325.80,255.16 L326.30,256.68 L326.80,258.20 L327.30,259.72 L327.80,261.23 L328.30,262.72 L328.80,264.19 L329.29,265.63 L329.79,267.05 L330.29,268.44 L330.79,269.80 L331.29,271.13 L331.79,272.44 L332.29,273.73 L332.79,274.98 L333.29,276.21 L333.79,277.42 L334.29,278.60 L334.79,279.75 L335.29,280.87 L335.79,281.97 L336.29,283.05 L336.78,284.10 L337.28,285.13 L337.78,286.14 L338.28,287.13 L338.78,288.10 L339.28,289.06 L339.78,290.00 L340.28,290.93 L340.78,291.85 L341.28,292.76 L341.78,293.66 L342.28,294.55 L342.78,295.44 L343.28,296.33 L343.78,297.20 L344.27,298.07 L344.77,298.93 L345.27,299.77 L345.77,300.61 L346.27,301.42 L346.77,302.22 L347.27,303.01 L347.77,303.77 L348.27,304.51 L348.77,305.23 L349.27,305.93 L349.77,306.60 L350.27,307.25 L350.77,307.88 L351.27,308.49 L351.76,309.07 L352.26,309.64 L352.76,310.18 L353.26,310.71 L353.76,311.22 L354.26,311.71 L354.76,312.19 L355.26,312.65 L355.76,313.10 L356.26,313.53 L356.76,313.96 L357.26,314.37 L357.76,314.77 L358.26,315.16 L358.76,315.54 L359.25,315.91 L359.75,316.27 L360.25,316.63 L360.75,316.98 L361.25,317.33 L361.75,317.67 L362.25,318.00 L362.75,318.33 L363.25,318.66 L363.75,318.98 L364.25,319.29 L364.75,319.60 L365.25,319.90 L365.75,320.20 L366.25,320.50 L366.74,320.79 L367.24,321.07 L367.74,321.35 L368.24,321.62 L368.74,321.89 L369.24,322.15 L369.74,322.41 L370.24,322.67 L370.74,322.91 L371.24,323.16 L371.74,323.40 L372.24,323.63 L372.74,323.86 L373.24,324.09 L373.74,324.31 L374.23,324.53 L374.73,324.74 L375.23,324.95 L375.73,325.15 L376.23,325.35 L376.73,325.55 L377.23,325.74 L377.73,325.93 L378.23,326.12 L378.73,326.30 L379.23,326.48 L379.73,326.66 L380.23,326.83 L380.73,327.00 L381.23,327.17 L381.72,327.34 L382.22,327.50 L382.72,327.66 L383.22,327.82 L383.72,327.97 L384.22,328.13 L384.72,328.28 L385.22,328.43 L385.72,328.58 L386.22,328.72 L386.72,328.87 L387.22,329.01 L387.72,329.15 L388.22,329.29 L388.72,329.42 L389.21,329.56 L389.71,329.69 L390.21,329.83 L390.71,329.96 L391.21,330.09 L391.71,330.22 L392.21,330.34 L392.71,330.47 L393.21,330.60 L393.71,330.72 L394.21,330.85 L394.71,330.97 L395.21,331.09 L395.71,331.21 L396.21,331.33 L396.70,331.46 L397.20,331.58 L397.70,331.70 L398.20,331.82 L398.70,331.93 L399.20,332.05 L399.70,332.17 L400.20,332.29" fill="none" stroke="#000080" stroke-width="1.25" stroke-linejoin="round" stroke-linecap="round"/>
<path d="M250.90,338.80 L251.40,338.79 L251.90,338.78 L252.40,338.75 L252.90,338.69 L253.40,338.61 L253.90,338.48 L254.40,338.31 L254.89,338.09 L255.39,337.80 L255.89,337.44 L256.39,337.01 L256.89,336.51 L257.39,335.94 L257.89,335.31 L258.39,334.63 L258.89,333.89 L259.39,333.10 L259.89,332.28 L260.39,331.42 L260.89,330.53 L261.39,329.63 L261.89,328.71 L262.38,327.79 L262.88,326.88 L263.38,325.99 L263.88,325.12 L264.38,324.30 L264.88,323.52 L265.38,322.79 L265.88,322.10 L266.38,321.46 L266.88,320.87 L267.38,320.31 L267.88,319.80 L268.38,319.31 L268.88,318.86 L269.38,318.44 L269.87,318.04 L270.37,317.66 L270.87,317.30 L271.37,316.95 L271.87,316.61 L272.37,316.28 L272.87,315.93 L273.37,315.58 L273.87,315.20 L274.37,314.81 L274.87,314.39 L275.37,313.95 L275.87,313.47 L276.37,312.95 L276.87,312.40 L277.36,311.80 L277.86,311.15 L278.36,310.45 L278.86,309.70 L279.36,308.90 L279.86,308.04 L280.36,307.13 L280.86,306.16 L281.36,305.14 L281.86,304.07 L282.36,302.95 L282.86,301.77 L283.36,300.54 L283.86,299.26 L284.36,297.91 L284.85,296.50 L285.35,295.02 L285.85,293.46 L286.35,291.83 L286.85,290.11 L287.35,288.31 L287.85,286.43 L288.35,284.45 L288.85,282.41 L289.35,280.30 L289.85,278.15 L290.35,275.97 L290.85,273.76 L291.35,271.55 L291.85,269.35 L292.34,267.17 L292.84,265.02 L293.34,262.90 L293.84,260.82 L294.34,258.78 L294.84,256.77 L295.34,254.81 L295.84,252.89 L296.34,251.01 L296.84,249.19 L297.34,247.41 L297.84,245.68 L298.34,244.00 L298.84,242.38 L299.34,240.81 L299.83,239.30 L300.33,237.85 L300.83,236.46 L301.33,235.14 L301.83,233.88 L302.33,232.69 L302.83,231.57 L303.33,230.52 L303.83,229.54 L304.33,228.64 L304.83,227.81 L305.33,227.06 L305.83,226.39 L306.33,225.80 L306.83,225.28 L307.32,224.85 L307.82,224.50 L308.32,224.23 L308.82,224.04 L309.32,223.92 L309.82,223.89 L310.32,223.94 L310.82,224.07 L311.32,224.27 L311.82,224.53 L312.32,224.87 L312.82,225.27 L313.32,225.72 L313.82,226.23 L314.32,226.78 L314.81,227.39 L315.31,228.03 L315.81,228.72 L316.31,229.45 L316.81,230.22 L317.31,231.03 L317.81,231.90 L318.31,232.81 L318.81,233.77 L319.31,234.77 L319.81,235.83 L320.31,236.95 L320.81,238.11 L321.31,239.34 L321.81,240.61 L322.30,241.95 L322.80,243.34 L323.30,244.77 L323.80,246.24 L324.30,247.74 L324.80,249.27 L325.30,250.82 L325.80,252.39 L326.30,253.96 L326.80,255.53 L327.30,257.10 L327.80,258.66 L328.30,260.20 L328.80,261.72 L329.29,263.21 L329.79,264.67 L330.29,266.10 L330.79,267.51 L331.29,268.89 L331.79,270.24 L332.29,271.57 L332.79,272.86 L333.29,274.14 L333.79,275.38 L334.29,276.60 L334.79,277.79 L335.29,278.95 L335.79,280.08 L336.29,281.19 L336.78,282.28 L337.28,283.34 L337.78,284.38 L338.28,285.41 L338.78,286.41 L339.28,287.40 L339.78,288.37 L340.28,289.33 L340.78,290.28 L341.28,291.22 L341.78,292.15 L342.28,293.08 L342.78,294.00 L343.28,294.91 L343.78,295.82 L344.27,296.71 L344.77,297.60 L345.27,298.47 L345.77,299.33 L346.27,300.17 L346.77,301.00 L347.27,301.81 L347.77,302.60 L348.27,303.36 L348.77,304.11 L349.27,304.83 L349.77,305.52 L350.27,306.20 L350.77,306.84 L351.27,307.47 L351.76,308.07 L352.26,308.66 L352.76,309.22 L353.26,309.76 L353.76,310.29 L354.26,310.80 L354.76,311.29 L355.26,311.77 L355.76,312.23 L356.26,312.68 L356.76,313.12 L357.26,313.54 L357.76,313.95 L358.26,314.36 L358.76,314.75 L359.25,315.13 L359.75,315.51 L360.25,315.88 L360.75,316.24 L361.25,316.60 L361.75,316.95 L362.25,317.30 L362.75,317.64 L363.25,317.97 L363.75,318.30 L364.25,318.63 L364.75,318.95 L365.25,319.26 L365.75,319.57 L366.25,319.87 L366.74,320.17 L367.24,320.46 L367.74,320.75 L368.24,321.03 L368.74,321.31 L369.24,321.58 L369.74,321.85 L370.24,322.11 L370.74,322.37 L371.24,322.62 L371.74,322.87 L372.24,323.11 L372.74,323.35 L373.24,323.58 L373.74,323.81 L374.23,324.03 L374.73,324.25 L375.23,324.47 L375.73,324.68 L376.23,324.89 L376.73,325.09 L377.23,325.29 L377.73,325.49 L378.23,325.68 L378.73,325.87 L379.23,326.05 L379.73,326.24 L380.23,326.42 L380.73,326.59 L381.23,326.77 L381.72,326.94 L382.22,327.11 L382.72,327.27 L383.22,327.43 L383.72,327.60 L384.22,327.75 L384.72,327.91 L385.22,328.06 L385.72,328.22 L386.22,328.37 L386.72,328.52 L387.22,328.66 L387.72,328.81 L388.22,328.95 L388.72,329.09 L389.21,329.23 L389.71,329.37 L390.21,329.51 L390.71,329.64 L391.21,329.78 L391.71,329.91 L392.21,330.04 L392.71,330.17 L393.21,330.30 L393.71,330.43 L394.21,330.56 L394.71,330.69 L395.21,330.82 L395.71,330.94 L396.21,331.07 L396.70,331.19 L397.20,331.32 L397.70,331.44 L398.20,331.56 L398.70,331.69 L399.20,331.81 L399.70,331.93 L400.20,332.05" fill="none" stroke="#8000FF" stroke-width="1.25" stroke-linejoin="round" stroke-linecap="round"/>
<path d="M61.00,499.28 L61.52,498.69 L62.04,498.09 L62.56,497.48 L63.08,496.86 L63.60,496.23 L64.12,495.59 L64.64,494.95 L65.16,494.30 L65.67,493.64 L66.19,492.97 L66.71,492.29 L67.23,491.61 L67.75,490.92 L68.27,490.23 L68.79,489.53 L69.31,488.82 L69.83,488.11 L70.35,487.39 L70.87,486.66 L71.39,485.93 L71.91,485.19 L72.43,484.45 L72.95,483.71 L73.47,482.96 L73.98,482.21 L74.50,481.45 L75.02,480.69 L75.54,479.92 L76.06,479.15 L76.58,478.38 L77.10,477.61 L77.62,476.83 L78.14,476.05 L78.66,475.27 L79.18,474.49 L79.70,473.70 L80.22,472.91 L80.74,472.12 L81.26,471.33 L81.78,470.54 L82.30,469.75 L82.81,468.96 L83.33,468.16 L83.85,467.37 L84.37,466.58 L84.89,465.79 L85.41,464.99 L85.93,464.20 L86.45,463.41 L86.97,462.62 L87.49,461.84 L88.01,461.05 L88.53,460.27 L89.05,459.48 L89.57,458.70 L90.09,457.93 L90.61,457.15 L91.13,456.38 L91.64,455.61 L92.16,454.85 L92.68,454.09 L93.20,453.33 L93.72,452.57 L94.24,451.82 L94.76,451.08 L95.28,450.34 L95.80,449.60 L96.32,448.87 L96.84,448.15 L97.36,447.43 L97.88,446.71 L98.40,446.00 L98.92,445.30 L99.44,444.61 L99.95,443.92 L100.47,443.23 L100.99,442.56 L101.51,441.89 L102.03,441.23 L102.55,440.58 L103.07,439.93 L103.59,439.30 L104.11,438.67 L104.63,438.05 L105.15,437.44 L105.67,436.83 L106.19,436.24 L106.71,435.66 L107.23,435.08 L107.75,434.52 L108.27,433.96 L108.78,433.41 L109.30,432.86 L109.82,432.32 L110.34,431.78 L110.86,431.25 L111.38,430.71 L111.90,430.18 L112.42,429.65 L112.94,429.11 L113.46,428.57 L113.98,428.03 L114.50,427.48 L115.02,426.93 L115.54,426.37 L116.06,425.80 L116.58,425.22 L117.09,424.63 L117.61,424.03 L118.13,423.42 L118.65,422.79 L119.17,422.16 L119.69,421.50 L120.21,420.84 L120.73,420.17 L121.25,419.49 L121.77,418.81 L122.29,418.12 L122.81,417.43 L123.33,416.74 L123.85,416.05 L124.37,415.36 L124.89,414.68 L125.41,414.01 L125.92,413.35 L126.44,412.69 L126.96,412.05 L127.48,411.42 L128.00,410.81 L128.52,410.21 L129.04,409.63 L129.56,409.08 L130.08,408.55 L130.60,408.04 L131.12,407.55 L131.64,407.10 L132.16,406.66 L132.68,406.26 L133.20,405.88 L133.72,405.53 L134.24,405.20 L134.75,404.90 L135.27,404.63 L135.79,404.38 L136.31,404.16 L136.83,403.97 L137.35,403.80 L137.87,403.66 L138.39,403.55 L138.91,403.46 L139.43,403.41 L139.95,403.38 L140.47,403.37 L140.99,403.40 L141.51,403.45 L142.03,403.53 L142.55,403.64 L143.06,403.77 L143.58,403.94 L144.10,404.13 L144.62,404.35 L145.14,404.60 L145.66,404.88 L146.18,405.18 L146.70,405.52 L147.22,405.88 L147.74,406.27 L148.26,406.69 L148.78,407.14 L149.30,407.62 L149.82,408.12 L150.34,408.65 L150.86,409.20 L151.38,409.78 L151.89,410.38 L152.41,411.00 L152.93,411.65 L153.45,412.32 L153.97,413.01 L154.49,413.72 L155.01,414.45 L155.53,415.20 L156.05,415.97 L156.57,416.76 L157.09,417.56 L157.61,418.38 L158.13,419.21 L158.65,420.06 L159.17,420.93 L159.69,421.81 L160.21,422.70 L160.72,423.60 L161.24,424.52 L161.76,425.44 L162.28,426.38 L162.80,427.33 L163.32,428.28 L163.84,429.24 L164.36,430.22 L164.88,431.19 L165.40,432.18 L165.92,433.17 L166.44,434.16 L166.96,435.16 L167.48,436.17 L168.00,437.17 L168.52,438.18 L169.03,439.19 L169.55,440.20 L170.07,441.21 L170.59,442.22 L171.11,443.23 L171.63,444.24 L172.15,445.24 L172.67,446.24 L173.19,447.24 L173.71,448.24 L174.23,449.22 L174.75,450.21 L175.27,451.18 L175.79,452.15 L176.31,453.11 L176.83,454.06 L177.35,455.01 L177.86,455.94 L178.38,456.86 L178.90,457.78 L179.42,458.68 L179.94,459.57 L180.46,460.46 L180.98,461.33 L181.50,462.20 L182.02,463.06 L182.54,463.90 L183.06,464.74 L183.58,465.57 L184.10,466.39 L184.62,467.21 L185.14,468.01 L185.66,468.81 L186.17,469.60 L186.69,470.38 L187.21,471.15 L187.73,471.92 L188.25,472.67 L188.77,473.42 L189.29,474.17 L189.81,474.90 L190.33,475.63 L190.85,476.35 L191.37,477.07 L191.89,477.78 L192.41,478.48 L192.93,479.18 L193.45,479.87 L193.97,480.55 L194.49,481.23 L195.00,481.90 L195.52,482.57 L196.04,483.23 L196.56,483.88 L197.08,484.53 L197.60,485.18 L198.12,485.82 L198.64,486.45 L199.16,487.08 L199.68,487.71 L200.20,488.33 L200.72,488.94 L201.24,489.56 L201.76,490.16 L202.28,490.77 L202.80,491.37 L203.32,491.96 L203.83,492.56 L204.35,493.15 L204.87,493.73 L205.39,494.32 L205.91,494.90 L206.43,495.47 L206.95,496.05 L207.47,496.62 L207.99,497.19 L208.51,497.75 L209.03,498.32 L209.55,498.88 L210.07,499.44 L210.59,500.00 L211.11,500.55 L211.63,501.11 L212.14,501.66 L212.66,502.22 L213.18,502.77 L213.70,503.32 L214.22,503.86 L214.74,504.41 L215.26,504.96 L215.78,505.51 L216.30,506.05" fill="none" stroke="#000000" stroke-width="1.0" stroke-linejoin="round" stroke-linecap="round"/>
<path d="M61.00,504.05 L61.52,503.67 L62.04,503.29 L62.56,502.90 L63.08,502.51 L63.60,502.13 L64.12,501.73 L64.64,501.34 L65.16,500.95 L65.67,500.55 L66.19,500.15 L66.71,499.75 L67.23,499.35 L67.75,498.94 L68.27,498.54 L68.79,498.13 L69.31,497.72 L69.83,497.31 L70.35,496.89 L70.87,496.48 L71.39,496.06 L71.91,495.64 L72.43,495.22 L72.95,494.79 L73.47,494.37 L73.98,493.94 L74.50,493.51 L75.02,493.08 L75.54,492.64 L76.06,492.21 L76.58,491.77 L77.10,491.33 L77.62,490.89 L78.14,490.45 L78.66,490.00 L79.18,489.55 L79.70,489.10 L80.22,488.65 L80.74,488.20 L81.26,487.74 L81.78,487.28 L82.30,486.82 L82.81,486.36 L83.33,485.90 L83.85,485.43 L84.37,484.96 L84.89,484.49 L85.41,484.02 L85.93,483.55 L86.45,483.07 L86.97,482.59 L87.49,482.11 L88.01,481.63 L88.53,481.14 L89.05,480.65 L89.57,480.16 L90.09,479.67 L90.61,479.18 L91.13,478.68 L91.64,478.19 L92.16,477.69 L92.68,477.18 L93.20,476.68 L93.72,476.17 L94.24,475.67 L94.76,475.16 L95.28,474.64 L95.80,474.13 L96.32,473.61 L96.84,473.09 L97.36,472.57 L97.88,472.05 L98.40,471.52 L98.92,470.99 L99.44,470.46 L99.95,469.93 L100.47,469.39 L100.99,468.86 L101.51,468.32 L102.03,467.78 L102.55,467.23 L103.07,466.69 L103.59,466.14 L104.11,465.59 L104.63,465.04 L105.15,464.48 L105.67,463.92 L106.19,463.36 L106.71,462.80 L107.23,462.24 L107.75,461.67 L108.27,461.10 L108.78,460.53 L109.30,459.95 L109.82,459.37 L110.34,458.79 L110.86,458.20 L111.38,457.61 L111.90,457.02 L112.42,456.42 L112.94,455.82 L113.46,455.21 L113.98,454.60 L114.50,453.98 L115.02,453.37 L115.54,452.74 L116.06,452.11 L116.58,451.48 L117.09,450.84 L117.61,450.20 L118.13,449.55 L118.65,448.90 L119.17,448.24 L119.69,447.58 L120.21,446.91 L120.73,446.24 L121.25,445.57 L121.77,444.90 L122.29,444.23 L122.81,443.57 L123.33,442.91 L123.85,442.25 L124.37,441.60 L124.89,440.95 L125.41,440.31 L125.92,439.68 L126.44,439.06 L126.96,438.45 L127.48,437.86 L128.00,437.27 L128.52,436.70 L129.04,436.15 L129.56,435.61 L130.08,435.09 L130.60,434.59 L131.12,434.11 L131.64,433.65 L132.16,433.21 L132.68,432.79 L133.20,432.40 L133.72,432.03 L134.24,431.69 L134.75,431.37 L135.27,431.08 L135.79,430.83 L136.31,430.60 L136.83,430.40 L137.35,430.22 L137.87,430.08 L138.39,429.96 L138.91,429.87 L139.43,429.80 L139.95,429.76 L140.47,429.74 L140.99,429.75 L141.51,429.79 L142.03,429.84 L142.55,429.93 L143.06,430.03 L143.58,430.16 L144.10,430.31 L144.62,430.48 L145.14,430.67 L145.66,430.88 L146.18,431.12 L146.70,431.37 L147.22,431.65 L147.74,431.94 L148.26,432.25 L148.78,432.58 L149.30,432.93 L149.82,433.29 L150.34,433.68 L150.86,434.08 L151.38,434.49 L151.89,434.92 L152.41,435.37 L152.93,435.83 L153.45,436.31 L153.97,436.80 L154.49,437.30 L155.01,437.82 L155.53,438.35 L156.05,438.89 L156.57,439.45 L157.09,440.01 L157.61,440.59 L158.13,441.18 L158.65,441.78 L159.17,442.38 L159.69,443.00 L160.21,443.63 L160.72,444.26 L161.24,444.91 L161.76,445.56 L162.28,446.22 L162.80,446.88 L163.32,447.56 L163.84,448.24 L164.36,448.92 L164.88,449.62 L165.40,450.32 L165.92,451.03 L166.44,451.74 L166.96,452.46 L167.48,453.18 L168.00,453.91 L168.52,454.64 L169.03,455.38 L169.55,456.13 L170.07,456.87 L170.59,457.62 L171.11,458.38 L171.63,459.14 L172.15,459.90 L172.67,460.66 L173.19,461.43 L173.71,462.19 L174.23,462.97 L174.75,463.74 L175.27,464.51 L175.79,465.29 L176.31,466.07 L176.83,466.84 L177.35,467.62 L177.86,468.40 L178.38,469.18 L178.90,469.96 L179.42,470.74 L179.94,471.51 L180.46,472.29 L180.98,473.07 L181.50,473.84 L182.02,474.62 L182.54,475.39 L183.06,476.16 L183.58,476.92 L184.10,477.69 L184.62,478.45 L185.14,479.21 L185.66,479.96 L186.17,480.71 L186.69,481.46 L187.21,482.20 L187.73,482.94 L188.25,483.68 L188.77,484.41 L189.29,485.13 L189.81,485.85 L190.33,486.56 L190.85,487.27 L191.37,487.97 L191.89,488.67 L192.41,489.36 L192.93,490.04 L193.45,490.72 L193.97,491.38 L194.49,492.04 L195.00,492.70 L195.52,493.34 L196.04,493.98 L196.56,494.60 L197.08,495.22 L197.60,495.83 L198.12,496.43 L198.64,497.02 L199.16,497.60 L199.68,498.17 L200.20,498.74 L200.72,499.29 L201.24,499.82 L201.76,500.35 L202.28,500.87 L202.80,501.38 L203.32,501.87 L203.83,502.35 L204.35,502.82 L204.87,503.28 L205.39,503.72 L205.91,504.15 L206.43,504.57 L206.95,504.97 L207.47,505.36 L207.99,505.74 L208.51,506.10 L209.03,506.45 L209.55,506.78 L210.07,507.10 L210.59,507.40 L211.11,507.69 L211.63,507.96 L212.14,508.22 L212.66,508.46 L213.18,508.68 L213.70,508.89 L214.22,509.08 L214.74,509.25 L215.26,509.40 L215.78,509.54 L216.30,509.66" fill="none" stroke="#008000" stroke-width="1.0" stroke-linejoin="round" stroke-linecap="round"/>
<path d="M61.00,503.70 L61.52,503.37 L62.04,503.03 L62.56,502.69 L63.08,502.33 L63.60,501.96 L64.12,501.59 L64.64,501.21 L65.16,500.83 L65.67,500.43 L66.19,500.03 L66.71,499.62 L67.23,499.21 L67.75,498.79 L68.27,498.37 L68.79,497.94 L69.31,497.51 L69.83,497.07 L70.35,496.63 L70.87,496.18 L71.39,495.73 L71.91,495.28 L72.43,494.83 L72.95,494.37 L73.47,493.91 L73.98,493.45 L74.50,492.99 L75.02,492.52 L75.54,492.06 L76.06,491.60 L76.58,491.13 L77.10,490.67 L77.62,490.20 L78.14,489.74 L78.66,489.28 L79.18,488.81 L79.70,488.35 L80.22,487.89 L80.74,487.42 L81.26,486.96 L81.78,486.49 L82.30,486.03 L82.81,485.56 L83.33,485.10 L83.85,484.63 L84.37,484.16 L84.89,483.70 L85.41,483.23 L85.93,482.76 L86.45,482.28 L86.97,481.81 L87.49,481.34 L88.01,480.86 L88.53,480.39 L89.05,479.91 L89.57,479.43 L90.09,478.95 L90.61,478.46 L91.13,477.98 L91.64,477.49 L92.16,477.00 L92.68,476.51 L93.20,476.02 L93.72,475.52 L94.24,475.02 L94.76,474.52 L95.28,474.02 L95.80,473.51 L96.32,473.01 L96.84,472.50 L97.36,471.98 L97.88,471.47 L98.40,470.95 L98.92,470.42 L99.44,469.90 L99.95,469.37 L100.47,468.84 L100.99,468.30 L101.51,467.76 L102.03,467.22 L102.55,466.68 L103.07,466.13 L103.59,465.57 L104.11,465.01 L104.63,464.45 L105.15,463.89 L105.67,463.32 L106.19,462.75 L106.71,462.17 L107.23,461.59 L107.75,461.00 L108.27,460.41 L108.78,459.82 L109.30,459.22 L109.82,458.62 L110.34,458.01 L110.86,457.40 L111.38,456.79 L111.90,456.18 L112.42,455.55 L112.94,454.93 L113.46,454.30 L113.98,453.67 L114.50,453.03 L115.02,452.40 L115.54,451.75 L116.06,451.11 L116.58,450.46 L117.09,449.80 L117.61,449.14 L118.13,448.48 L118.65,447.82 L119.17,447.15 L119.69,446.48 L120.21,445.81 L120.73,445.14 L121.25,444.46 L121.77,443.79 L122.29,443.13 L122.81,442.46 L123.33,441.80 L123.85,441.15 L124.37,440.50 L124.89,439.86 L125.41,439.23 L125.92,438.60 L126.44,437.99 L126.96,437.39 L127.48,436.80 L128.00,436.22 L128.52,435.66 L129.04,435.11 L129.56,434.58 L130.08,434.07 L130.60,433.58 L131.12,433.10 L131.64,432.64 L132.16,432.21 L132.68,431.80 L133.20,431.41 L133.72,431.04 L134.24,430.70 L134.75,430.39 L135.27,430.10 L135.79,429.84 L136.31,429.61 L136.83,429.41 L137.35,429.23 L137.87,429.08 L138.39,428.96 L138.91,428.86 L139.43,428.79 L139.95,428.74 L140.47,428.72 L140.99,428.73 L141.51,428.76 L142.03,428.82 L142.55,428.90 L143.06,429.00 L143.58,429.13 L144.10,429.28 L144.62,429.45 L145.14,429.64 L145.66,429.86 L146.18,430.10 L146.70,430.35 L147.22,430.63 L147.74,430.93 L148.26,431.24 L148.78,431.58 L149.30,431.93 L149.82,432.30 L150.34,432.69 L150.86,433.10 L151.38,433.52 L151.89,433.96 L152.41,434.41 L152.93,434.88 L153.45,435.37 L153.97,435.87 L154.49,436.38 L155.01,436.90 L155.53,437.44 L156.05,438.00 L156.57,438.56 L157.09,439.14 L157.61,439.73 L158.13,440.33 L158.65,440.94 L159.17,441.56 L159.69,442.18 L160.21,442.82 L160.72,443.47 L161.24,444.13 L161.76,444.79 L162.28,445.46 L162.80,446.14 L163.32,446.83 L163.84,447.52 L164.36,448.23 L164.88,448.93 L165.40,449.65 L165.92,450.37 L166.44,451.09 L166.96,451.82 L167.48,452.56 L168.00,453.30 L168.52,454.04 L169.03,454.79 L169.55,455.54 L170.07,456.30 L170.59,457.06 L171.11,457.82 L171.63,458.59 L172.15,459.36 L172.67,460.13 L173.19,460.90 L173.71,461.67 L174.23,462.45 L174.75,463.23 L175.27,464.01 L175.79,464.78 L176.31,465.56 L176.83,466.35 L177.35,467.13 L177.86,467.91 L178.38,468.69 L178.90,469.47 L179.42,470.25 L179.94,471.03 L180.46,471.80 L180.98,472.58 L181.50,473.35 L182.02,474.13 L182.54,474.90 L183.06,475.66 L183.58,476.43 L184.10,477.19 L184.62,477.95 L185.14,478.71 L185.66,479.46 L186.17,480.21 L186.69,480.96 L187.21,481.70 L187.73,482.44 L188.25,483.17 L188.77,483.90 L189.29,484.62 L189.81,485.34 L190.33,486.05 L190.85,486.75 L191.37,487.45 L191.89,488.15 L192.41,488.83 L192.93,489.51 L193.45,490.19 L193.97,490.85 L194.49,491.51 L195.00,492.16 L195.52,492.81 L196.04,493.44 L196.56,494.07 L197.08,494.69 L197.60,495.29 L198.12,495.90 L198.64,496.49 L199.16,497.07 L199.68,497.64 L200.20,498.20 L200.72,498.75 L201.24,499.30 L201.76,499.83 L202.28,500.35 L202.80,500.85 L203.32,501.35 L203.83,501.84 L204.35,502.31 L204.87,502.77 L205.39,503.22 L205.91,503.66 L206.43,504.08 L206.95,504.50 L207.47,504.89 L207.99,505.28 L208.51,505.65 L209.03,506.01 L209.55,506.35 L210.07,506.68 L210.59,506.99 L211.11,507.29 L211.63,507.58 L212.14,507.85 L212.66,508.10 L213.18,508.34 L213.70,508.56 L214.22,508.77 L214.74,508.95 L215.26,509.13 L215.78,509.28 L216.30,509.42" fill="none" stroke="#000080" stroke-width="1.0" stroke-linejoin="round" stroke-linecap="round"/>
<path d="M61.00,502.30 L61.52,502.18 L62.04,502.02 L62.56,501.82 L63.08,501.59 L63.60,501.32 L64.12,501.02 L64.64,500.70 L65.16,500.34 L65.67,499.96 L66.19,499.55 L66.71,499.11 L67.23,498.66 L67.75,498.18 L68.27,497.69 L68.79,497.18 L69.31,496.65 L69.83,496.11 L70.35,495.56 L70.87,495.00 L71.39,494.42 L71.91,493.84 L72.43,493.26 L72.95,492.67 L73.47,492.08 L73.98,491.49 L74.50,490.90 L75.02,490.31 L75.54,489.72 L76.06,489.15 L76.58,488.58 L77.10,488.01 L77.62,487.46 L78.14,486.92 L78.66,486.39 L79.18,485.86 L79.70,485.34 L80.22,484.83 L80.74,484.33 L81.26,483.83 L81.78,483.34 L82.30,482.86 L82.81,482.38 L83.33,481.90 L83.85,481.44 L84.37,480.97 L84.89,480.51 L85.41,480.05 L85.93,479.60 L86.45,479.15 L86.97,478.70 L87.49,478.25 L88.01,477.81 L88.53,477.36 L89.05,476.92 L89.57,476.48 L90.09,476.03 L90.61,475.59 L91.13,475.15 L91.64,474.70 L92.16,474.26 L92.68,473.81 L93.20,473.36 L93.72,472.91 L94.24,472.45 L94.76,471.99 L95.28,471.53 L95.80,471.06 L96.32,470.59 L96.84,470.12 L97.36,469.64 L97.88,469.15 L98.40,468.66 L98.92,468.16 L99.44,467.65 L99.95,467.14 L100.47,466.61 L100.99,466.08 L101.51,465.55 L102.03,465.00 L102.55,464.44 L103.07,463.88 L103.59,463.30 L104.11,462.72 L104.63,462.12 L105.15,461.51 L105.67,460.90 L106.19,460.27 L106.71,459.63 L107.23,458.98 L107.75,458.32 L108.27,457.66 L108.78,456.98 L109.30,456.30 L109.82,455.61 L110.34,454.92 L110.86,454.22 L111.38,453.52 L111.90,452.81 L112.42,452.10 L112.94,451.39 L113.46,450.67 L113.98,449.95 L114.50,449.23 L115.02,448.51 L115.54,447.79 L116.06,447.07 L116.58,446.36 L117.09,445.64 L117.61,444.93 L118.13,444.21 L118.65,443.51 L119.17,442.80 L119.69,442.10 L120.21,441.41 L120.73,440.72 L121.25,440.04 L121.77,439.36 L122.29,438.69 L122.81,438.03 L123.33,437.38 L123.85,436.74 L124.37,436.11 L124.89,435.49 L125.41,434.88 L125.92,434.28 L126.44,433.70 L126.96,433.12 L127.48,432.56 L128.00,432.02 L128.52,431.49 L129.04,430.97 L129.56,430.47 L130.08,429.99 L130.60,429.52 L131.12,429.07 L131.64,428.64 L132.16,428.23 L132.68,427.83 L133.20,427.46 L133.72,427.11 L134.24,426.78 L134.75,426.47 L135.27,426.18 L135.79,425.91 L136.31,425.67 L136.83,425.45 L137.35,425.26 L137.87,425.09 L138.39,424.95 L138.91,424.83 L139.43,424.74 L139.95,424.68 L140.47,424.65 L140.99,424.64 L141.51,424.67 L142.03,424.71 L142.55,424.79 L143.06,424.89 L143.58,425.01 L144.10,425.16 L144.62,425.34 L145.14,425.54 L145.66,425.76 L146.18,426.01 L146.70,426.27 L147.22,426.56 L147.74,426.88 L148.26,427.21 L148.78,427.56 L149.30,427.94 L149.82,428.33 L150.34,428.74 L150.86,429.17 L151.38,429.62 L151.89,430.09 L152.41,430.57 L152.93,431.08 L153.45,431.59 L153.97,432.13 L154.49,432.68 L155.01,433.24 L155.53,433.82 L156.05,434.41 L156.57,435.02 L157.09,435.64 L157.61,436.27 L158.13,436.92 L158.65,437.57 L159.17,438.24 L159.69,438.92 L160.21,439.61 L160.72,440.31 L161.24,441.01 L161.76,441.73 L162.28,442.45 L162.80,443.19 L163.32,443.93 L163.84,444.68 L164.36,445.43 L164.88,446.19 L165.40,446.95 L165.92,447.72 L166.44,448.50 L166.96,449.28 L167.48,450.06 L168.00,450.85 L168.52,451.64 L169.03,452.43 L169.55,453.22 L170.07,454.02 L170.59,454.81 L171.11,455.61 L171.63,456.40 L172.15,457.20 L172.67,458.00 L173.19,458.79 L173.71,459.59 L174.23,460.38 L174.75,461.18 L175.27,461.98 L175.79,462.77 L176.31,463.56 L176.83,464.35 L177.35,465.14 L177.86,465.93 L178.38,466.72 L178.90,467.51 L179.42,468.29 L179.94,469.07 L180.46,469.85 L180.98,470.62 L181.50,471.40 L182.02,472.17 L182.54,472.94 L183.06,473.70 L183.58,474.46 L184.10,475.22 L184.62,475.97 L185.14,476.72 L185.66,477.47 L186.17,478.21 L186.69,478.95 L187.21,479.68 L187.73,480.41 L188.25,481.13 L188.77,481.85 L189.29,482.57 L189.81,483.28 L190.33,483.98 L190.85,484.67 L191.37,485.37 L191.89,486.05 L192.41,486.73 L192.93,487.40 L193.45,488.07 L193.97,488.73 L194.49,489.38 L195.00,490.03 L195.52,490.67 L196.04,491.30 L196.56,491.92 L197.08,492.54 L197.60,493.15 L198.12,493.75 L198.64,494.34 L199.16,494.93 L199.68,495.50 L200.20,496.07 L200.72,496.63 L201.24,497.18 L201.76,497.72 L202.28,498.25 L202.80,498.77 L203.32,499.28 L203.83,499.79 L204.35,500.28 L204.87,500.76 L205.39,501.23 L205.91,501.69 L206.43,502.14 L206.95,502.58 L207.47,503.01 L207.99,503.43 L208.51,503.84 L209.03,504.24 L209.55,504.62 L210.07,504.99 L210.59,505.35 L211.11,505.70 L211.63,506.04 L212.14,506.36 L212.66,506.67 L213.18,506.97 L213.70,507.26 L214.22,507.53 L214.74,507.79 L215.26,508.03 L215.78,508.26 L216.30,508.48" fill="none" stroke="#FF00FF" stroke-width="1.0" stroke-linejoin="round" stroke-linecap="round"/>
<path d="M61.00,500.46 L61.52,499.98 L62.04,499.51 L62.56,499.03 L63.08,498.55 L63.60,498.06 L64.12,497.58 L64.64,497.09 L65.16,496.59 L65.67,496.10 L66.19,495.60 L66.71,495.11 L67.23,494.61 L67.75,494.11 L68.27,493.61 L68.79,493.11 L69.31,492.61 L69.83,492.11 L70.35,491.60 L70.87,491.10 L71.39,490.60 L71.91,490.10 L72.43,489.60 L72.95,489.10 L73.47,488.61 L73.98,488.11 L74.50,487.62 L75.02,487.13 L75.54,486.63 L76.06,486.14 L76.58,485.65 L77.10,485.17 L77.62,484.68 L78.14,484.19 L78.66,483.71 L79.18,483.22 L79.70,482.73 L80.22,482.25 L80.74,481.76 L81.26,481.28 L81.78,480.79 L82.30,480.31 L82.81,479.82 L83.33,479.33 L83.85,478.85 L84.37,478.36 L84.89,477.87 L85.41,477.38 L85.93,476.89 L86.45,476.40 L86.97,475.90 L87.49,475.41 L88.01,474.91 L88.53,474.41 L89.05,473.91 L89.57,473.41 L90.09,472.90 L90.61,472.40 L91.13,471.89 L91.64,471.38 L92.16,470.87 L92.68,470.35 L93.20,469.83 L93.72,469.31 L94.24,468.78 L94.76,468.26 L95.28,467.72 L95.80,467.19 L96.32,466.65 L96.84,466.11 L97.36,465.57 L97.88,465.02 L98.40,464.46 L98.92,463.91 L99.44,463.35 L99.95,462.78 L100.47,462.21 L100.99,461.64 L101.51,461.06 L102.03,460.48 L102.55,459.89 L103.07,459.29 L103.59,458.70 L104.11,458.09 L104.63,457.48 L105.15,456.87 L105.67,456.25 L106.19,455.62 L106.71,454.99 L107.23,454.36 L107.75,453.72 L108.27,453.08 L108.78,452.43 L109.30,451.78 L109.82,451.13 L110.34,450.47 L110.86,449.82 L111.38,449.16 L111.90,448.49 L112.42,447.83 L112.94,447.16 L113.46,446.50 L113.98,445.83 L114.50,445.16 L115.02,444.49 L115.54,443.82 L116.06,443.16 L116.58,442.49 L117.09,441.82 L117.61,441.16 L118.13,440.49 L118.65,439.83 L119.17,439.17 L119.69,438.51 L120.21,437.86 L120.73,437.21 L121.25,436.56 L121.77,435.91 L122.29,435.27 L122.81,434.63 L123.33,434.00 L123.85,433.37 L124.37,432.75 L124.89,432.13 L125.41,431.52 L125.92,430.91 L126.44,430.31 L126.96,429.72 L127.48,429.14 L128.00,428.57 L128.52,428.01 L129.04,427.46 L129.56,426.92 L130.08,426.40 L130.60,425.89 L131.12,425.40 L131.64,424.92 L132.16,424.46 L132.68,424.02 L133.20,423.60 L133.72,423.19 L134.24,422.81 L134.75,422.45 L135.27,422.12 L135.79,421.80 L136.31,421.52 L136.83,421.25 L137.35,421.02 L137.87,420.81 L138.39,420.63 L138.91,420.47 L139.43,420.35 L139.95,420.26 L140.47,420.20 L140.99,420.18 L141.51,420.18 L142.03,420.21 L142.55,420.28 L143.06,420.37 L143.58,420.49 L144.10,420.64 L144.62,420.82 L145.14,421.02 L145.66,421.26 L146.18,421.51 L146.70,421.79 L147.22,422.10 L147.74,422.43 L148.26,422.79 L148.78,423.17 L149.30,423.57 L149.82,423.99 L150.34,424.43 L150.86,424.90 L151.38,425.38 L151.89,425.89 L152.41,426.41 L152.93,426.96 L153.45,427.52 L153.97,428.10 L154.49,428.69 L155.01,429.30 L155.53,429.93 L156.05,430.58 L156.57,431.23 L157.09,431.91 L157.61,432.59 L158.13,433.29 L158.65,434.00 L159.17,434.73 L159.69,435.46 L160.21,436.21 L160.72,436.96 L161.24,437.73 L161.76,438.50 L162.28,439.29 L162.80,440.08 L163.32,440.88 L163.84,441.68 L164.36,442.50 L164.88,443.31 L165.40,444.14 L165.92,444.97 L166.44,445.80 L166.96,446.64 L167.48,447.47 L168.00,448.32 L168.52,449.16 L169.03,450.00 L169.55,450.85 L170.07,451.70 L170.59,452.54 L171.11,453.39 L171.63,454.23 L172.15,455.07 L172.67,455.91 L173.19,456.75 L173.71,457.58 L174.23,458.41 L174.75,459.24 L175.27,460.07 L175.79,460.89 L176.31,461.71 L176.83,462.53 L177.35,463.34 L177.86,464.15 L178.38,464.96 L178.90,465.76 L179.42,466.56 L179.94,467.36 L180.46,468.15 L180.98,468.94 L181.50,469.72 L182.02,470.50 L182.54,471.28 L183.06,472.05 L183.58,472.82 L184.10,473.58 L184.62,474.34 L185.14,475.09 L185.66,475.84 L186.17,476.58 L186.69,477.32 L187.21,478.06 L187.73,478.78 L188.25,479.51 L188.77,480.22 L189.29,480.94 L189.81,481.64 L190.33,482.34 L190.85,483.04 L191.37,483.72 L191.89,484.41 L192.41,485.08 L192.93,485.75 L193.45,486.42 L193.97,487.08 L194.49,487.73 L195.00,488.37 L195.52,489.01 L196.04,489.64 L196.56,490.26 L197.08,490.88 L197.60,491.49 L198.12,492.09 L198.64,492.68 L199.16,493.27 L199.68,493.85 L200.20,494.42 L200.72,494.99 L201.24,495.55 L201.76,496.09 L202.28,496.63 L202.80,497.17 L203.32,497.69 L203.83,498.21 L204.35,498.71 L204.87,499.21 L205.39,499.70 L205.91,500.18 L206.43,500.66 L206.95,501.12 L207.47,501.57 L207.99,502.02 L208.51,502.46 L209.03,502.88 L209.55,503.30 L210.07,503.71 L210.59,504.11 L211.11,504.49 L211.63,504.87 L212.14,505.24 L212.66,505.60 L213.18,505.95 L213.70,506.28 L214.22,506.61 L214.74,506.93 L215.26,507.24 L215.78,507.53 L216.30,507.82" fill="none" stroke="#0000FF" stroke-width="1.0" stroke-linejoin="round" stroke-linecap="round"/>
<path d="M61.00,502.70 L61.52,502.28 L62.04,501.86 L62.56,501.44 L63.08,501.01 L63.60,500.58 L64.12,500.15 L64.64,499.72 L65.16,499.28 L65.67,498.83 L66.19,498.39 L66.71,497.94 L67.23,497.49 L67.75,497.03 L68.27,496.57 L68.79,496.11 L69.31,495.64 L69.83,495.18 L70.35,494.70 L70.87,494.23 L71.39,493.75 L71.91,493.27 L72.43,492.79 L72.95,492.30 L73.47,491.81 L73.98,491.31 L74.50,490.82 L75.02,490.32 L75.54,489.81 L76.06,489.31 L76.58,488.80 L77.10,488.29 L77.62,487.77 L78.14,487.25 L78.66,486.73 L79.18,486.20 L79.70,485.68 L80.22,485.15 L80.74,484.61 L81.26,484.07 L81.78,483.53 L82.30,482.99 L82.81,482.44 L83.33,481.89 L83.85,481.34 L84.37,480.79 L84.89,480.23 L85.41,479.67 L85.93,479.10 L86.45,478.53 L86.97,477.96 L87.49,477.39 L88.01,476.81 L88.53,476.23 L89.05,475.65 L89.57,475.07 L90.09,474.48 L90.61,473.89 L91.13,473.29 L91.64,472.70 L92.16,472.10 L92.68,471.49 L93.20,470.89 L93.72,470.28 L94.24,469.67 L94.76,469.05 L95.28,468.43 L95.80,467.81 L96.32,467.19 L96.84,466.56 L97.36,465.94 L97.88,465.30 L98.40,464.67 L98.92,464.03 L99.44,463.39 L99.95,462.75 L100.47,462.10 L100.99,461.45 L101.51,460.80 L102.03,460.15 L102.55,459.49 L103.07,458.83 L103.59,458.17 L104.11,457.50 L104.63,456.84 L105.15,456.16 L105.67,455.49 L106.19,454.81 L106.71,454.13 L107.23,453.45 L107.75,452.77 L108.27,452.08 L108.78,451.39 L109.30,450.70 L109.82,450.00 L110.34,449.30 L110.86,448.60 L111.38,447.90 L111.90,447.19 L112.42,446.48 L112.94,445.77 L113.46,445.06 L113.98,444.34 L114.50,443.62 L115.02,442.90 L115.54,442.18 L116.06,441.45 L116.58,440.72 L117.09,439.99 L117.61,439.26 L118.13,438.54 L118.65,437.81 L119.17,437.09 L119.69,436.37 L120.21,435.65 L120.73,434.93 L121.25,434.22 L121.77,433.52 L122.29,432.82 L122.81,432.13 L123.33,431.45 L123.85,430.77 L124.37,430.11 L124.89,429.45 L125.41,428.80 L125.92,428.17 L126.44,427.54 L126.96,426.93 L127.48,426.33 L128.00,425.74 L128.52,425.17 L129.04,424.61 L129.56,424.07 L130.08,423.54 L130.60,423.04 L131.12,422.54 L131.64,422.07 L132.16,421.62 L132.68,421.18 L133.20,420.76 L133.72,420.37 L134.24,420.00 L134.75,419.65 L135.27,419.32 L135.79,419.01 L136.31,418.73 L136.83,418.48 L137.35,418.25 L137.87,418.04 L138.39,417.87 L138.91,417.72 L139.43,417.60 L139.95,417.50 L140.47,417.44 L140.99,417.41 L141.51,417.40 L142.03,417.42 L142.55,417.47 L143.06,417.55 L143.58,417.65 L144.10,417.78 L144.62,417.94 L145.14,418.12 L145.66,418.33 L146.18,418.56 L146.70,418.81 L147.22,419.08 L147.74,419.38 L148.26,419.70 L148.78,420.05 L149.30,420.41 L149.82,420.79 L150.34,421.20 L150.86,421.62 L151.38,422.06 L151.89,422.52 L152.41,423.00 L152.93,423.50 L153.45,424.01 L153.97,424.54 L154.49,425.09 L155.01,425.65 L155.53,426.23 L156.05,426.82 L156.57,427.42 L157.09,428.04 L157.61,428.68 L158.13,429.32 L158.65,429.98 L159.17,430.64 L159.69,431.32 L160.21,432.01 L160.72,432.71 L161.24,433.42 L161.76,434.14 L162.28,434.87 L162.80,435.61 L163.32,436.35 L163.84,437.11 L164.36,437.87 L164.88,438.64 L165.40,439.42 L165.92,440.20 L166.44,440.99 L166.96,441.79 L167.48,442.60 L168.00,443.41 L168.52,444.22 L169.03,445.05 L169.55,445.87 L170.07,446.71 L170.59,447.54 L171.11,448.38 L171.63,449.23 L172.15,450.08 L172.67,450.93 L173.19,451.79 L173.71,452.65 L174.23,453.51 L174.75,454.38 L175.27,455.24 L175.79,456.11 L176.31,456.98 L176.83,457.85 L177.35,458.73 L177.86,459.60 L178.38,460.47 L178.90,461.35 L179.42,462.22 L179.94,463.10 L180.46,463.97 L180.98,464.84 L181.50,465.71 L182.02,466.58 L182.54,467.45 L183.06,468.31 L183.58,469.18 L184.10,470.04 L184.62,470.89 L185.14,471.75 L185.66,472.60 L186.17,473.44 L186.69,474.29 L187.21,475.13 L187.73,475.96 L188.25,476.79 L188.77,477.61 L189.29,478.43 L189.81,479.24 L190.33,480.05 L190.85,480.85 L191.37,481.64 L191.89,482.43 L192.41,483.20 L192.93,483.98 L193.45,484.74 L193.97,485.50 L194.49,486.24 L195.00,486.98 L195.52,487.71 L196.04,488.43 L196.56,489.14 L197.08,489.84 L197.60,490.54 L198.12,491.22 L198.64,491.89 L199.16,492.55 L199.68,493.20 L200.20,493.83 L200.72,494.46 L201.24,495.07 L201.76,495.67 L202.28,496.26 L202.80,496.84 L203.32,497.40 L203.83,497.95 L204.35,498.48 L204.87,499.00 L205.39,499.51 L205.91,500.00 L206.43,500.48 L206.95,500.94 L207.47,501.39 L207.99,501.82 L208.51,502.24 L209.03,502.63 L209.55,503.02 L210.07,503.38 L210.59,503.73 L211.11,504.06 L211.63,504.37 L212.14,504.67 L212.66,504.95 L213.18,505.21 L213.70,505.45 L214.22,505.67 L214.74,505.87 L215.26,506.05 L215.78,506.21 L216.30,506.35" fill="none" stroke="#8000FF" stroke-width="1.0" stroke-linejoin="round" stroke-linecap="round"/>
<path d="M61.00,498.63 L61.52,498.19 L62.04,497.75 L62.56,497.31 L63.08,496.85 L63.60,496.39 L64.12,495.93 L64.64,495.46 L65.16,494.98 L65.67,494.50 L66.19,494.01 L66.71,493.52 L67.23,493.03 L67.75,492.53 L68.27,492.02 L68.79,491.51 L69.31,490.99 L69.83,490.47 L70.35,489.95 L70.87,489.42 L71.39,488.89 L71.91,488.35 L72.43,487.81 L72.95,487.26 L73.47,486.72 L73.98,486.16 L74.50,485.61 L75.02,485.05 L75.54,484.48 L76.06,483.92 L76.58,483.35 L77.10,482.77 L77.62,482.20 L78.14,481.62 L78.66,481.04 L79.18,480.45 L79.70,479.86 L80.22,479.27 L80.74,478.68 L81.26,478.09 L81.78,477.49 L82.30,476.89 L82.81,476.29 L83.33,475.68 L83.85,475.08 L84.37,474.47 L84.89,473.86 L85.41,473.25 L85.93,472.64 L86.45,472.03 L86.97,471.41 L87.49,470.80 L88.01,470.18 L88.53,469.56 L89.05,468.94 L89.57,468.32 L90.09,467.70 L90.61,467.08 L91.13,466.46 L91.64,465.84 L92.16,465.22 L92.68,464.60 L93.20,463.97 L93.72,463.35 L94.24,462.73 L94.76,462.11 L95.28,461.48 L95.80,460.86 L96.32,460.24 L96.84,459.62 L97.36,459.00 L97.88,458.38 L98.40,457.76 L98.92,457.15 L99.44,456.53 L99.95,455.92 L100.47,455.30 L100.99,454.69 L101.51,454.08 L102.03,453.47 L102.55,452.86 L103.07,452.25 L103.59,451.65 L104.11,451.05 L104.63,450.45 L105.15,449.85 L105.67,449.25 L106.19,448.66 L106.71,448.07 L107.23,447.47 L107.75,446.88 L108.27,446.29 L108.78,445.69 L109.30,445.10 L109.82,444.50 L110.34,443.90 L110.86,443.30 L111.38,442.69 L111.90,442.08 L112.42,441.46 L112.94,440.84 L113.46,440.22 L113.98,439.59 L114.50,438.95 L115.02,438.30 L115.54,437.65 L116.06,436.99 L116.58,436.32 L117.09,435.64 L117.61,434.95 L118.13,434.26 L118.65,433.55 L119.17,432.83 L119.69,432.10 L120.21,431.37 L120.73,430.62 L121.25,429.87 L121.77,429.12 L122.29,428.36 L122.81,427.60 L123.33,426.84 L123.85,426.08 L124.37,425.32 L124.89,424.56 L125.41,423.81 L125.92,423.07 L126.44,422.33 L126.96,421.59 L127.48,420.87 L128.00,420.16 L128.52,419.46 L129.04,418.77 L129.56,418.09 L130.08,417.44 L130.60,416.79 L131.12,416.17 L131.64,415.56 L132.16,414.98 L132.68,414.42 L133.20,413.88 L133.72,413.37 L134.24,412.89 L134.75,412.43 L135.27,412.01 L135.79,411.62 L136.31,411.26 L136.83,410.94 L137.35,410.66 L137.87,410.41 L138.39,410.20 L138.91,410.04 L139.43,409.91 L139.95,409.81 L140.47,409.76 L140.99,409.74 L141.51,409.75 L142.03,409.80 L142.55,409.88 L143.06,409.99 L143.58,410.14 L144.10,410.31 L144.62,410.52 L145.14,410.76 L145.66,411.03 L146.18,411.32 L146.70,411.64 L147.22,411.99 L147.74,412.36 L148.26,412.76 L148.78,413.19 L149.30,413.64 L149.82,414.11 L150.34,414.60 L150.86,415.12 L151.38,415.65 L151.89,416.21 L152.41,416.78 L152.93,417.38 L153.45,417.99 L153.97,418.62 L154.49,419.26 L155.01,419.93 L155.53,420.60 L156.05,421.29 L156.57,422.00 L157.09,422.71 L157.61,423.44 L158.13,424.18 L158.65,424.93 L159.17,425.69 L159.69,426.46 L160.21,427.24 L160.72,428.03 L161.24,428.82 L161.76,429.62 L162.28,430.42 L162.80,431.23 L163.32,432.05 L163.84,432.86 L164.36,433.69 L164.88,434.51 L165.40,435.34 L165.92,436.17 L166.44,437.01 L166.96,437.85 L167.48,438.69 L168.00,439.54 L168.52,440.39 L169.03,441.24 L169.55,442.09 L170.07,442.95 L170.59,443.80 L171.11,444.66 L171.63,445.52 L172.15,446.38 L172.67,447.25 L173.19,448.11 L173.71,448.97 L174.23,449.84 L174.75,450.70 L175.27,451.57 L175.79,452.44 L176.31,453.30 L176.83,454.17 L177.35,455.03 L177.86,455.90 L178.38,456.76 L178.90,457.62 L179.42,458.48 L179.94,459.34 L180.46,460.20 L180.98,461.06 L181.50,461.91 L182.02,462.77 L182.54,463.62 L183.06,464.46 L183.58,465.31 L184.10,466.15 L184.62,466.99 L185.14,467.83 L185.66,468.66 L186.17,469.49 L186.69,470.31 L187.21,471.13 L187.73,471.95 L188.25,472.76 L188.77,473.57 L189.29,474.37 L189.81,475.17 L190.33,475.97 L190.85,476.75 L191.37,477.54 L191.89,478.31 L192.41,479.09 L192.93,479.85 L193.45,480.61 L193.97,481.36 L194.49,482.11 L195.00,482.85 L195.52,483.58 L196.04,484.31 L196.56,485.02 L197.08,485.74 L197.60,486.44 L198.12,487.13 L198.64,487.82 L199.16,488.50 L199.68,489.17 L200.20,489.83 L200.72,490.49 L201.24,491.13 L201.76,491.77 L202.28,492.39 L202.80,493.01 L203.32,493.62 L203.83,494.22 L204.35,494.80 L204.87,495.38 L205.39,495.95 L205.91,496.50 L206.43,497.05 L206.95,497.58 L207.47,498.11 L207.99,498.62 L208.51,499.12 L209.03,499.61 L209.55,500.08 L210.07,500.55 L210.59,501.00 L211.11,501.44 L211.63,501.87 L212.14,502.28 L212.66,502.69 L213.18,503.07 L213.70,503.45 L214.22,503.81 L214.74,504.16 L215.26,504.49 L215.78,504.81 L216.30,505.12" fill="none" stroke="#FF0000" stroke-width="1.0" stroke-linejoin="round" stroke-linecap="round"/>
<path d="M258.20,502.69 L258.72,502.22 L259.25,501.75 L259.77,501.28 L260.29,500.80 L260.82,500.31 L261.34,499.82 L261.86,499.33 L262.38,498.83 L262.91,498.32 L263.43,497.81 L263.95,497.29 L264.48,496.77 L265.00,496.24 L265.52,495.71 L266.05,495.17 L266.57,494.63 L267.09,494.08 L267.62,493.53 L268.14,492.97 L268.66,492.41 L269.18,491.84 L269.71,491.26 L270.23,490.68 L270.75,490.10 L271.28,489.51 L271.80,488.91 L272.32,488.31 L272.85,487.70 L273.37,487.09 L273.89,486.47 L274.42,485.85 L274.94,485.23 L275.46,484.59 L275.98,483.96 L276.51,483.31 L277.03,482.67 L277.55,482.02 L278.08,481.36 L278.60,480.70 L279.12,480.03 L279.65,479.36 L280.17,478.68 L280.69,478.00 L281.22,477.31 L281.74,476.62 L282.26,475.93 L282.78,475.23 L283.31,474.53 L283.83,473.82 L284.35,473.10 L284.88,472.39 L285.40,471.67 L285.92,470.94 L286.45,470.21 L286.97,469.48 L287.49,468.74 L288.02,468.00 L288.54,467.26 L289.06,466.51 L289.58,465.76 L290.11,465.00 L290.63,464.24 L291.15,463.48 L291.68,462.72 L292.20,461.95 L292.72,461.18 L293.25,460.41 L293.77,459.63 L294.29,458.86 L294.82,458.08 L295.34,457.29 L295.86,456.51 L296.38,455.72 L296.91,454.94 L297.43,454.15 L297.95,453.36 L298.48,452.57 L299.00,451.77 L299.52,450.98 L300.05,450.18 L300.57,449.39 L301.09,448.59 L301.62,447.80 L302.14,447.00 L302.66,446.21 L303.18,445.41 L303.71,444.61 L304.23,443.82 L304.75,443.03 L305.28,442.24 L305.80,441.45 L306.32,440.66 L306.85,439.87 L307.37,439.08 L307.89,438.30 L308.42,437.52 L308.94,436.74 L309.46,435.97 L309.98,435.20 L310.51,434.43 L311.03,433.67 L311.55,432.91 L312.08,432.15 L312.60,431.40 L313.12,430.66 L313.65,429.92 L314.17,429.18 L314.69,428.46 L315.22,427.73 L315.74,427.02 L316.26,426.31 L316.78,425.61 L317.31,424.91 L317.83,424.22 L318.35,423.55 L318.88,422.88 L319.40,422.22 L319.92,421.56 L320.45,420.92 L320.97,420.29 L321.49,419.67 L322.02,419.06 L322.54,418.46 L323.06,417.87 L323.58,417.30 L324.11,416.74 L324.63,416.19 L325.15,415.65 L325.68,415.13 L326.20,414.63 L326.72,414.14 L327.25,413.67 L327.77,413.21 L328.29,412.77 L328.82,412.35 L329.34,411.96 L329.86,411.58 L330.38,411.22 L330.91,410.88 L331.43,410.57 L331.95,410.29 L332.48,410.03 L333.00,409.81 L333.52,409.62 L334.05,409.48 L334.57,409.41 L335.09,409.38 L335.62,409.37 L336.14,409.39 L336.66,409.43 L337.18,409.49 L337.71,409.57 L338.23,409.68 L338.75,409.80 L339.28,409.94 L339.80,410.10 L340.32,410.28 L340.85,410.47 L341.37,410.69 L341.89,410.92 L342.42,411.17 L342.94,411.44 L343.46,411.73 L343.98,412.03 L344.51,412.34 L345.03,412.68 L345.55,413.03 L346.08,413.39 L346.60,413.77 L347.12,414.17 L347.65,414.58 L348.17,415.00 L348.69,415.44 L349.22,415.89 L349.74,416.35 L350.26,416.83 L350.78,417.32 L351.31,417.82 L351.83,418.34 L352.35,418.86 L352.88,419.40 L353.40,419.95 L353.92,420.51 L354.45,421.09 L354.97,421.67 L355.49,422.26 L356.02,422.86 L356.54,423.47 L357.06,424.09 L357.58,424.72 L358.11,425.36 L358.63,426.01 L359.15,426.66 L359.68,427.32 L360.20,427.99 L360.72,428.67 L361.25,429.35 L361.77,430.04 L362.29,430.74 L362.82,431.44 L363.34,432.14 L363.86,432.86 L364.38,433.57 L364.91,434.29 L365.43,435.02 L365.95,435.75 L366.48,436.48 L367.00,437.22 L367.52,437.96 L368.05,438.70 L368.57,439.45 L369.09,440.20 L369.62,440.95 L370.14,441.70 L370.66,442.45 L371.18,443.21 L371.71,443.96 L372.23,444.72 L372.75,445.48 L373.28,446.23 L373.80,446.99 L374.32,447.75 L374.85,448.50 L375.37,449.26 L375.89,450.02 L376.42,450.77 L376.94,451.52 L377.46,452.27 L377.98,453.02 L378.51,453.77 L379.03,454.51 L379.55,455.26 L380.08,455.99 L380.60,456.73 L381.12,457.47 L381.65,458.20 L382.17,458.92 L382.69,459.65 L383.22,460.37 L383.74,461.08 L384.26,461.79 L384.78,462.50 L385.31,463.20 L385.83,463.90 L386.35,464.60 L386.88,465.29 L387.40,465.97 L387.92,466.65 L388.45,467.32 L388.97,467.99 L389.49,468.65 L390.02,469.31 L390.54,469.96 L391.06,470.61 L391.58,471.25 L392.11,471.88 L392.63,472.51 L393.15,473.13 L393.68,473.75 L394.20,474.36 L394.72,474.96 L395.25,475.56 L395.77,476.15 L396.29,476.73 L396.82,477.31 L397.34,477.88 L397.86,478.44 L398.38,479.00 L398.91,479.55 L399.43,480.09 L399.95,480.62 L400.48,481.15 L401.00,481.68 L401.52,482.19 L402.05,482.70 L402.57,483.20 L403.09,483.69 L403.62,484.18 L404.14,484.66 L404.66,485.13 L405.18,485.60 L405.71,486.05 L406.23,486.51 L406.75,486.95 L407.28,487.39 L407.80,487.82 L408.32,488.24 L408.85,488.66 L409.37,489.07 L409.89,489.47 L410.42,489.86 L410.94,490.25 L411.46,490.63 L411.98,491.01 L412.51,491.38 L413.03,491.74 L413.55,492.09 L414.08,492.44 L414.60,492.78" fill="none" stroke="#000000" stroke-width="1.0" stroke-linejoin="round" stroke-linecap="round"/>
<path d="M258.20,500.69 L258.72,500.24 L259.25,499.79 L259.77,499.34 L260.29,498.87 L260.82,498.41 L261.34,497.94 L261.86,497.46 L262.38,496.98 L262.91,496.49 L263.43,495.99 L263.95,495.49 L264.48,494.99 L265.00,494.48 L265.52,493.96 L266.05,493.44 L266.57,492.92 L267.09,492.38 L267.62,491.85 L268.14,491.30 L268.66,490.75 L269.18,490.20 L269.71,489.64 L270.23,489.07 L270.75,488.50 L271.28,487.92 L271.80,487.34 L272.32,486.75 L272.85,486.16 L273.37,485.56 L273.89,484.95 L274.42,484.34 L274.94,483.72 L275.46,483.10 L275.98,482.47 L276.51,481.84 L277.03,481.20 L277.55,480.56 L278.08,479.91 L278.60,479.26 L279.12,478.60 L279.65,477.93 L280.17,477.26 L280.69,476.59 L281.22,475.91 L281.74,475.22 L282.26,474.53 L282.78,473.84 L283.31,473.14 L283.83,472.43 L284.35,471.72 L284.88,471.01 L285.40,470.29 L285.92,469.57 L286.45,468.84 L286.97,468.10 L287.49,467.37 L288.02,466.63 L288.54,465.88 L289.06,465.13 L289.58,464.38 L290.11,463.62 L290.63,462.86 L291.15,462.10 L291.68,461.33 L292.20,460.56 L292.72,459.79 L293.25,459.01 L293.77,458.23 L294.29,457.45 L294.82,456.66 L295.34,455.87 L295.86,455.08 L296.38,454.29 L296.91,453.50 L297.43,452.70 L297.95,451.90 L298.48,451.10 L299.00,450.30 L299.52,449.50 L300.05,448.69 L300.57,447.89 L301.09,447.08 L301.62,446.28 L302.14,445.47 L302.66,444.67 L303.18,443.86 L303.71,443.05 L304.23,442.25 L304.75,441.45 L305.28,440.64 L305.80,439.84 L306.32,439.04 L306.85,438.24 L307.37,437.44 L307.89,436.65 L308.42,435.86 L308.94,435.07 L309.46,434.28 L309.98,433.50 L310.51,432.72 L311.03,431.95 L311.55,431.17 L312.08,430.41 L312.60,429.65 L313.12,428.89 L313.65,428.14 L314.17,427.39 L314.69,426.65 L315.22,425.92 L315.74,425.20 L316.26,424.48 L316.78,423.77 L317.31,423.06 L317.83,422.37 L318.35,421.68 L318.88,421.01 L319.40,420.34 L319.92,419.68 L320.45,419.03 L320.97,418.40 L321.49,417.77 L322.02,417.16 L322.54,416.56 L323.06,415.97 L323.58,415.40 L324.11,414.83 L324.63,414.29 L325.15,413.76 L325.68,413.24 L326.20,412.74 L326.72,412.26 L327.25,411.80 L327.77,411.35 L328.29,410.92 L328.82,410.52 L329.34,410.13 L329.86,409.77 L330.38,409.44 L330.91,409.13 L331.43,408.84 L331.95,408.59 L332.48,408.37 L333.00,408.20 L333.52,408.07 L334.05,408.02 L334.57,408.00 L335.09,408.01 L335.62,408.04 L336.14,408.09 L336.66,408.17 L337.18,408.27 L337.71,408.39 L338.23,408.53 L338.75,408.69 L339.28,408.87 L339.80,409.07 L340.32,409.29 L340.85,409.52 L341.37,409.78 L341.89,410.05 L342.42,410.35 L342.94,410.66 L343.46,410.98 L343.98,411.33 L344.51,411.69 L345.03,412.07 L345.55,412.46 L346.08,412.87 L346.60,413.29 L347.12,413.73 L347.65,414.19 L348.17,414.65 L348.69,415.14 L349.22,415.63 L349.74,416.14 L350.26,416.66 L350.78,417.20 L351.31,417.75 L351.83,418.31 L352.35,418.88 L352.88,419.46 L353.40,420.06 L353.92,420.66 L354.45,421.28 L354.97,421.90 L355.49,422.54 L356.02,423.18 L356.54,423.83 L357.06,424.50 L357.58,425.17 L358.11,425.84 L358.63,426.53 L359.15,427.22 L359.68,427.92 L360.20,428.63 L360.72,429.35 L361.25,430.06 L361.77,430.79 L362.29,431.52 L362.82,432.26 L363.34,433.00 L363.86,433.74 L364.38,434.49 L364.91,435.24 L365.43,436.00 L365.95,436.76 L366.48,437.52 L367.00,438.28 L367.52,439.05 L368.05,439.82 L368.57,440.59 L369.09,441.36 L369.62,442.13 L370.14,442.91 L370.66,443.68 L371.18,444.46 L371.71,445.23 L372.23,446.00 L372.75,446.78 L373.28,447.55 L373.80,448.32 L374.32,449.09 L374.85,449.86 L375.37,450.62 L375.89,451.39 L376.42,452.15 L376.94,452.91 L377.46,453.67 L377.98,454.42 L378.51,455.17 L379.03,455.92 L379.55,456.66 L380.08,457.40 L380.60,458.14 L381.12,458.87 L381.65,459.60 L382.17,460.32 L382.69,461.04 L383.22,461.75 L383.74,462.46 L384.26,463.16 L384.78,463.86 L385.31,464.55 L385.83,465.24 L386.35,465.92 L386.88,466.60 L387.40,467.27 L387.92,467.93 L388.45,468.59 L388.97,469.24 L389.49,469.88 L390.02,470.52 L390.54,471.15 L391.06,471.78 L391.58,472.39 L392.11,473.00 L392.63,473.61 L393.15,474.21 L393.68,474.80 L394.20,475.38 L394.72,475.96 L395.25,476.52 L395.77,477.08 L396.29,477.64 L396.82,478.19 L397.34,478.73 L397.86,479.26 L398.38,479.78 L398.91,480.30 L399.43,480.81 L399.95,481.31 L400.48,481.81 L401.00,482.29 L401.52,482.77 L402.05,483.24 L402.57,483.71 L403.09,484.17 L403.62,484.62 L404.14,485.06 L404.66,485.49 L405.18,485.92 L405.71,486.34 L406.23,486.75 L406.75,487.16 L407.28,487.56 L407.80,487.95 L408.32,488.33 L408.85,488.71 L409.37,489.08 L409.89,489.44 L410.42,489.79 L410.94,490.14 L411.46,490.48 L411.98,490.82 L412.51,491.14 L413.03,491.46 L413.55,491.78 L414.08,492.08 L414.60,492.38" fill="none" stroke="#FF0000" stroke-width="1.0" stroke-linejoin="round" stroke-linecap="round"/>
<path d="M258.20,498.94 L258.72,498.50 L259.25,498.04 L259.77,497.58 L260.29,497.12 L260.82,496.65 L261.34,496.17 L261.86,495.69 L262.38,495.21 L262.91,494.72 L263.43,494.22 L263.95,493.72 L264.48,493.21 L265.00,492.70 L265.52,492.18 L266.05,491.65 L266.57,491.12 L267.09,490.59 L267.62,490.05 L268.14,489.50 L268.66,488.95 L269.18,488.39 L269.71,487.83 L270.23,487.26 L270.75,486.69 L271.28,486.11 L271.80,485.52 L272.32,484.93 L272.85,484.34 L273.37,483.74 L273.89,483.13 L274.42,482.52 L274.94,481.90 L275.46,481.28 L275.98,480.65 L276.51,480.02 L277.03,479.38 L277.55,478.73 L278.08,478.08 L278.60,477.43 L279.12,476.77 L279.65,476.10 L280.17,475.43 L280.69,474.76 L281.22,474.08 L281.74,473.39 L282.26,472.70 L282.78,472.01 L283.31,471.31 L283.83,470.60 L284.35,469.90 L284.88,469.18 L285.40,468.46 L285.92,467.74 L286.45,467.01 L286.97,466.28 L287.49,465.55 L288.02,464.81 L288.54,464.07 L289.06,463.32 L289.58,462.57 L290.11,461.81 L290.63,461.05 L291.15,460.29 L291.68,459.53 L292.20,458.76 L292.72,457.99 L293.25,457.21 L293.77,456.43 L294.29,455.65 L294.82,454.87 L295.34,454.09 L295.86,453.30 L296.38,452.51 L296.91,451.72 L297.43,450.92 L297.95,450.13 L298.48,449.33 L299.00,448.53 L299.52,447.73 L300.05,446.93 L300.57,446.13 L301.09,445.33 L301.62,444.52 L302.14,443.72 L302.66,442.92 L303.18,442.11 L303.71,441.31 L304.23,440.51 L304.75,439.71 L305.28,438.91 L305.80,438.11 L306.32,437.31 L306.85,436.51 L307.37,435.72 L307.89,434.93 L308.42,434.14 L308.94,433.35 L309.46,432.57 L309.98,431.78 L310.51,431.01 L311.03,430.23 L311.55,429.46 L312.08,428.70 L312.60,427.94 L313.12,427.18 L313.65,426.43 L314.17,425.69 L314.69,424.95 L315.22,424.21 L315.74,423.49 L316.26,422.77 L316.78,422.06 L317.31,421.35 L317.83,420.66 L318.35,419.97 L318.88,419.29 L319.40,418.62 L319.92,417.96 L320.45,417.31 L320.97,416.67 L321.49,416.04 L322.02,415.42 L322.54,414.81 L323.06,414.22 L323.58,413.63 L324.11,413.07 L324.63,412.51 L325.15,411.97 L325.68,411.45 L326.20,410.94 L326.72,410.44 L327.25,409.97 L327.77,409.51 L328.29,409.07 L328.82,408.65 L329.34,408.25 L329.86,407.87 L330.38,407.51 L330.91,407.18 L331.43,406.87 L331.95,406.59 L332.48,406.34 L333.00,406.13 L333.52,405.95 L334.05,405.82 L334.57,405.77 L335.09,405.75 L335.62,405.76 L336.14,405.79 L336.66,405.85 L337.18,405.92 L337.71,406.02 L338.23,406.14 L338.75,406.28 L339.28,406.44 L339.80,406.62 L340.32,406.82 L340.85,407.03 L341.37,407.27 L341.89,407.52 L342.42,407.80 L342.94,408.09 L343.46,408.39 L343.98,408.72 L344.51,409.06 L345.03,409.42 L345.55,409.79 L346.08,410.18 L346.60,410.59 L347.12,411.01 L347.65,411.44 L348.17,411.89 L348.69,412.36 L349.22,412.84 L349.74,413.33 L350.26,413.83 L350.78,414.35 L351.31,414.88 L351.83,415.43 L352.35,415.98 L352.88,416.55 L353.40,417.13 L353.92,417.72 L354.45,418.32 L354.97,418.93 L355.49,419.55 L356.02,420.18 L356.54,420.83 L357.06,421.48 L357.58,422.13 L358.11,422.80 L358.63,423.48 L359.15,424.16 L359.68,424.85 L360.20,425.55 L360.72,426.25 L361.25,426.97 L361.77,427.68 L362.29,428.41 L362.82,429.14 L363.34,429.87 L363.86,430.61 L364.38,431.35 L364.91,432.10 L365.43,432.85 L365.95,433.61 L366.48,434.37 L367.00,435.13 L367.52,435.90 L368.05,436.67 L368.57,437.44 L369.09,438.21 L369.62,438.98 L370.14,439.76 L370.66,440.53 L371.18,441.31 L371.71,442.09 L372.23,442.86 L372.75,443.64 L373.28,444.42 L373.80,445.20 L374.32,445.97 L374.85,446.75 L375.37,447.52 L375.89,448.29 L376.42,449.06 L376.94,449.83 L377.46,450.60 L377.98,451.36 L378.51,452.12 L379.03,452.88 L379.55,453.64 L380.08,454.39 L380.60,455.14 L381.12,455.89 L381.65,456.63 L382.17,457.36 L382.69,458.10 L383.22,458.83 L383.74,459.55 L384.26,460.27 L384.78,460.99 L385.31,461.70 L385.83,462.40 L386.35,463.10 L386.88,463.79 L387.40,464.48 L387.92,465.17 L388.45,465.84 L388.97,466.52 L389.49,467.18 L390.02,467.84 L390.54,468.49 L391.06,469.14 L391.58,469.78 L392.11,470.41 L392.63,471.04 L393.15,471.66 L393.68,472.27 L394.20,472.88 L394.72,473.48 L395.25,474.07 L395.77,474.66 L396.29,475.24 L396.82,475.81 L397.34,476.38 L397.86,476.93 L398.38,477.48 L398.91,478.03 L399.43,478.56 L399.95,479.09 L400.48,479.61 L401.00,480.13 L401.52,480.63 L402.05,481.13 L402.57,481.63 L403.09,482.11 L403.62,482.59 L404.14,483.06 L404.66,483.52 L405.18,483.97 L405.71,484.42 L406.23,484.86 L406.75,485.29 L407.28,485.72 L407.80,486.14 L408.32,486.55 L408.85,486.95 L409.37,487.35 L409.89,487.74 L410.42,488.12 L410.94,488.50 L411.46,488.87 L411.98,489.23 L412.51,489.58 L413.03,489.93 L413.55,490.27 L414.08,490.60 L414.60,490.93" fill="none" stroke="#0000FF" stroke-width="1.0" stroke-linejoin="round" stroke-linecap="round"/>
<path d="M258.20,495.85 L258.72,495.39 L259.25,494.93 L259.77,494.47 L260.29,493.99 L260.82,493.52 L261.34,493.03 L261.86,492.54 L262.38,492.05 L262.91,491.54 L263.43,491.03 L263.95,490.52 L264.48,490.00 L265.00,489.47 L265.52,488.94 L266.05,488.40 L266.57,487.85 L267.09,487.30 L267.62,486.74 L268.14,486.18 L268.66,485.61 L269.18,485.03 L269.71,484.45 L270.23,483.86 L270.75,483.26 L271.28,482.66 L271.80,482.05 L272.32,481.44 L272.85,480.82 L273.37,480.20 L273.89,479.56 L274.42,478.93 L274.94,478.28 L275.46,477.64 L275.98,476.98 L276.51,476.32 L277.03,475.65 L277.55,474.98 L278.08,474.30 L278.60,473.62 L279.12,472.93 L279.65,472.24 L280.17,471.54 L280.69,470.84 L281.22,470.13 L281.74,469.41 L282.26,468.69 L282.78,467.97 L283.31,467.24 L283.83,466.51 L284.35,465.77 L284.88,465.02 L285.40,464.28 L285.92,463.53 L286.45,462.77 L286.97,462.01 L287.49,461.25 L288.02,460.48 L288.54,459.71 L289.06,458.93 L289.58,458.15 L290.11,457.37 L290.63,456.59 L291.15,455.80 L291.68,455.01 L292.20,454.21 L292.72,453.42 L293.25,452.62 L293.77,451.82 L294.29,451.02 L294.82,450.21 L295.34,449.40 L295.86,448.60 L296.38,447.79 L296.91,446.98 L297.43,446.16 L297.95,445.35 L298.48,444.54 L299.00,443.73 L299.52,442.91 L300.05,442.10 L300.57,441.28 L301.09,440.47 L301.62,439.66 L302.14,438.85 L302.66,438.04 L303.18,437.23 L303.71,436.42 L304.23,435.61 L304.75,434.81 L305.28,434.00 L305.80,433.20 L306.32,432.41 L306.85,431.61 L307.37,430.82 L307.89,430.03 L308.42,429.25 L308.94,428.47 L309.46,427.69 L309.98,426.92 L310.51,426.16 L311.03,425.39 L311.55,424.64 L312.08,423.88 L312.60,423.14 L313.12,422.40 L313.65,421.67 L314.17,420.94 L314.69,420.22 L315.22,419.51 L315.74,418.80 L316.26,418.10 L316.78,417.41 L317.31,416.73 L317.83,416.06 L318.35,415.39 L318.88,414.74 L319.40,414.09 L319.92,413.45 L320.45,412.83 L320.97,412.21 L321.49,411.60 L322.02,411.01 L322.54,410.42 L323.06,409.85 L323.58,409.29 L324.11,408.74 L324.63,408.21 L325.15,407.68 L325.68,407.17 L326.20,406.67 L326.72,406.19 L327.25,405.72 L327.77,405.26 L328.29,404.82 L328.82,404.39 L329.34,403.98 L329.86,403.59 L330.38,403.21 L330.91,402.84 L331.43,402.49 L331.95,402.16 L332.48,401.85 L333.00,401.56 L333.52,401.28 L334.05,401.02 L334.57,400.78 L335.09,400.56 L335.62,400.36 L336.14,400.18 L336.66,400.03 L337.18,399.89 L337.71,399.78 L338.23,399.70 L338.75,399.64 L339.28,399.65 L339.80,399.71 L340.32,399.81 L340.85,399.95 L341.37,400.12 L341.89,400.33 L342.42,400.56 L342.94,400.82 L343.46,401.10 L343.98,401.41 L344.51,401.74 L345.03,402.09 L345.55,402.47 L346.08,402.87 L346.60,403.28 L347.12,403.72 L347.65,404.17 L348.17,404.64 L348.69,405.13 L349.22,405.63 L349.74,406.15 L350.26,406.69 L350.78,407.24 L351.31,407.80 L351.83,408.38 L352.35,408.98 L352.88,409.58 L353.40,410.20 L353.92,410.83 L354.45,411.47 L354.97,412.12 L355.49,412.78 L356.02,413.46 L356.54,414.14 L357.06,414.83 L357.58,415.53 L358.11,416.24 L358.63,416.96 L359.15,417.68 L359.68,418.42 L360.20,419.16 L360.72,419.90 L361.25,420.65 L361.77,421.41 L362.29,422.17 L362.82,422.94 L363.34,423.72 L363.86,424.49 L364.38,425.28 L364.91,426.06 L365.43,426.85 L365.95,427.64 L366.48,428.44 L367.00,429.24 L367.52,430.04 L368.05,430.84 L368.57,431.64 L369.09,432.45 L369.62,433.26 L370.14,434.06 L370.66,434.87 L371.18,435.68 L371.71,436.49 L372.23,437.30 L372.75,438.10 L373.28,438.91 L373.80,439.72 L374.32,440.52 L374.85,441.33 L375.37,442.13 L375.89,442.93 L376.42,443.73 L376.94,444.53 L377.46,445.32 L377.98,446.11 L378.51,446.90 L379.03,447.69 L379.55,448.47 L380.08,449.25 L380.60,450.03 L381.12,450.80 L381.65,451.57 L382.17,452.33 L382.69,453.09 L383.22,453.85 L383.74,454.60 L384.26,455.35 L384.78,456.09 L385.31,456.83 L385.83,457.57 L386.35,458.30 L386.88,459.02 L387.40,459.74 L387.92,460.45 L388.45,461.16 L388.97,461.86 L389.49,462.56 L390.02,463.25 L390.54,463.93 L391.06,464.61 L391.58,465.29 L392.11,465.95 L392.63,466.62 L393.15,467.27 L393.68,467.92 L394.20,468.56 L394.72,469.20 L395.25,469.83 L395.77,470.46 L396.29,471.07 L396.82,471.69 L397.34,472.29 L397.86,472.89 L398.38,473.48 L398.91,474.07 L399.43,474.64 L399.95,475.22 L400.48,475.78 L401.00,476.34 L401.52,476.89 L402.05,477.44 L402.57,477.98 L403.09,478.51 L403.62,479.03 L404.14,479.55 L404.66,480.07 L405.18,480.57 L405.71,481.07 L406.23,481.56 L406.75,482.05 L407.28,482.53 L407.80,483.00 L408.32,483.47 L408.85,483.92 L409.37,484.38 L409.89,484.82 L410.42,485.26 L410.94,485.70 L411.46,486.12 L411.98,486.54 L412.51,486.96 L413.03,487.37 L413.55,487.77 L414.08,488.16 L414.60,488.55" fill="none" stroke="#FF00FF" stroke-width="1.0" stroke-linejoin="round" stroke-linecap="round"/>
<path d="M258.20,491.41 L258.72,490.97 L259.25,490.53 L259.77,490.07 L260.29,489.62 L260.82,489.15 L261.34,488.68 L261.86,488.20 L262.38,487.72 L262.91,487.23 L263.43,486.74 L263.95,486.24 L264.48,485.73 L265.00,485.21 L265.52,484.69 L266.05,484.17 L266.57,483.63 L267.09,483.09 L267.62,482.55 L268.14,482.00 L268.66,481.44 L269.18,480.87 L269.71,480.30 L270.23,479.73 L270.75,479.14 L271.28,478.55 L271.80,477.96 L272.32,477.35 L272.85,476.74 L273.37,476.13 L273.89,475.51 L274.42,474.88 L274.94,474.25 L275.46,473.61 L275.98,472.96 L276.51,472.31 L277.03,471.65 L277.55,470.99 L278.08,470.32 L278.60,469.64 L279.12,468.96 L279.65,468.27 L280.17,467.58 L280.69,466.88 L281.22,466.17 L281.74,465.46 L282.26,464.74 L282.78,464.02 L283.31,463.29 L283.83,462.56 L284.35,461.82 L284.88,461.08 L285.40,460.33 L285.92,459.58 L286.45,458.82 L286.97,458.06 L287.49,457.29 L288.02,456.52 L288.54,455.74 L289.06,454.96 L289.58,454.17 L290.11,453.38 L290.63,452.59 L291.15,451.79 L291.68,450.99 L292.20,450.19 L292.72,449.38 L293.25,448.57 L293.77,447.75 L294.29,446.94 L294.82,446.12 L295.34,445.29 L295.86,444.47 L296.38,443.64 L296.91,442.81 L297.43,441.97 L297.95,441.14 L298.48,440.30 L299.00,439.47 L299.52,438.63 L300.05,437.79 L300.57,436.95 L301.09,436.11 L301.62,435.26 L302.14,434.42 L302.66,433.58 L303.18,432.74 L303.71,431.90 L304.23,431.06 L304.75,430.22 L305.28,429.38 L305.80,428.54 L306.32,427.70 L306.85,426.87 L307.37,426.04 L307.89,425.21 L308.42,424.38 L308.94,423.56 L309.46,422.74 L309.98,421.92 L310.51,421.10 L311.03,420.29 L311.55,419.49 L312.08,418.69 L312.60,417.89 L313.12,417.10 L313.65,416.32 L314.17,415.54 L314.69,414.76 L315.22,414.00 L315.74,413.24 L316.26,412.48 L316.78,411.74 L317.31,411.00 L317.83,410.27 L318.35,409.55 L318.88,408.84 L319.40,408.13 L319.92,407.44 L320.45,406.76 L320.97,406.08 L321.49,405.42 L322.02,404.77 L322.54,404.13 L323.06,403.50 L323.58,402.88 L324.11,402.27 L324.63,401.68 L325.15,401.10 L325.68,400.54 L326.20,399.99 L326.72,399.45 L327.25,398.93 L327.77,398.43 L328.29,397.94 L328.82,397.47 L329.34,397.01 L329.86,396.57 L330.38,396.15 L330.91,395.75 L331.43,395.37 L331.95,395.01 L332.48,394.67 L333.00,394.35 L333.52,394.05 L334.05,393.78 L334.57,393.53 L335.09,393.30 L335.62,393.11 L336.14,392.94 L336.66,392.80 L337.18,392.70 L337.71,392.64 L338.23,392.69 L338.75,392.82 L339.28,393.01 L339.80,393.23 L340.32,393.49 L340.85,393.79 L341.37,394.11 L341.89,394.45 L342.42,394.83 L342.94,395.22 L343.46,395.64 L343.98,396.07 L344.51,396.53 L345.03,397.00 L345.55,397.49 L346.08,398.00 L346.60,398.52 L347.12,399.05 L347.65,399.60 L348.17,400.17 L348.69,400.74 L349.22,401.33 L349.74,401.93 L350.26,402.54 L350.78,403.16 L351.31,403.79 L351.83,404.43 L352.35,405.08 L352.88,405.74 L353.40,406.40 L353.92,407.08 L354.45,407.76 L354.97,408.44 L355.49,409.14 L356.02,409.84 L356.54,410.54 L357.06,411.26 L357.58,411.97 L358.11,412.70 L358.63,413.42 L359.15,414.15 L359.68,414.89 L360.20,415.63 L360.72,416.37 L361.25,417.11 L361.77,417.86 L362.29,418.61 L362.82,419.36 L363.34,420.12 L363.86,420.88 L364.38,421.63 L364.91,422.39 L365.43,423.15 L365.95,423.92 L366.48,424.68 L367.00,425.44 L367.52,426.20 L368.05,426.97 L368.57,427.73 L369.09,428.49 L369.62,429.26 L370.14,430.02 L370.66,430.78 L371.18,431.54 L371.71,432.30 L372.23,433.06 L372.75,433.81 L373.28,434.57 L373.80,435.32 L374.32,436.07 L374.85,436.82 L375.37,437.57 L375.89,438.31 L376.42,439.05 L376.94,439.79 L377.46,440.53 L377.98,441.26 L378.51,441.99 L379.03,442.72 L379.55,443.44 L380.08,444.17 L380.60,444.88 L381.12,445.60 L381.65,446.31 L382.17,447.02 L382.69,447.72 L383.22,448.42 L383.74,449.12 L384.26,449.81 L384.78,450.50 L385.31,451.18 L385.83,451.86 L386.35,452.54 L386.88,453.21 L387.40,453.87 L387.92,454.54 L388.45,455.19 L388.97,455.85 L389.49,456.50 L390.02,457.14 L390.54,457.78 L391.06,458.41 L391.58,459.04 L392.11,459.67 L392.63,460.29 L393.15,460.90 L393.68,461.52 L394.20,462.12 L394.72,462.72 L395.25,463.32 L395.77,463.91 L396.29,464.49 L396.82,465.07 L397.34,465.65 L397.86,466.22 L398.38,466.78 L398.91,467.34 L399.43,467.90 L399.95,468.45 L400.48,468.99 L401.00,469.53 L401.52,470.06 L402.05,470.59 L402.57,471.12 L403.09,471.63 L403.62,472.15 L404.14,472.66 L404.66,473.16 L405.18,473.66 L405.71,474.15 L406.23,474.63 L406.75,475.12 L407.28,475.59 L407.80,476.07 L408.32,476.53 L408.85,476.99 L409.37,477.45 L409.89,477.90 L410.42,478.35 L410.94,478.79 L411.46,479.22 L411.98,479.65 L412.51,480.08 L413.03,480.50 L413.55,480.92 L414.08,481.33 L414.60,481.73" fill="none" stroke="#008000" stroke-width="1.0" stroke-linejoin="round" stroke-linecap="round"/>
<path d="M258.20,499.41 L258.72,498.94 L259.25,498.46 L259.77,497.97 L260.29,497.48 L260.82,496.98 L261.34,496.47 L261.86,495.95 L262.38,495.42 L262.91,494.89 L263.43,494.35 L263.95,493.81 L264.48,493.25 L265.00,492.69 L265.52,492.12 L266.05,491.54 L266.57,490.95 L267.09,490.36 L267.62,489.76 L268.14,489.15 L268.66,488.53 L269.18,487.91 L269.71,487.28 L270.23,486.64 L270.75,485.99 L271.28,485.33 L271.80,484.67 L272.32,483.99 L272.85,483.31 L273.37,482.63 L273.89,481.93 L274.42,481.23 L274.94,480.52 L275.46,479.80 L275.98,479.07 L276.51,478.34 L277.03,477.59 L277.55,476.84 L278.08,476.09 L278.60,475.32 L279.12,474.55 L279.65,473.77 L280.17,472.98 L280.69,472.19 L281.22,471.39 L281.74,470.58 L282.26,469.76 L282.78,468.94 L283.31,468.11 L283.83,467.27 L284.35,466.43 L284.88,465.58 L285.40,464.72 L285.92,463.86 L286.45,462.99 L286.97,462.12 L287.49,461.24 L288.02,460.35 L288.54,459.46 L289.06,458.56 L289.58,457.66 L290.11,456.75 L290.63,455.84 L291.15,454.92 L291.68,454.00 L292.20,453.07 L292.72,452.14 L293.25,451.20 L293.77,450.26 L294.29,449.32 L294.82,448.37 L295.34,447.42 L295.86,446.47 L296.38,445.52 L296.91,444.56 L297.43,443.60 L297.95,442.63 L298.48,441.67 L299.00,440.70 L299.52,439.73 L300.05,438.76 L300.57,437.79 L301.09,436.82 L301.62,435.85 L302.14,434.88 L302.66,433.90 L303.18,432.93 L303.71,431.96 L304.23,430.99 L304.75,430.03 L305.28,429.06 L305.80,428.10 L306.32,427.14 L306.85,426.18 L307.37,425.22 L307.89,424.27 L308.42,423.32 L308.94,422.37 L309.46,421.43 L309.98,420.49 L310.51,419.56 L311.03,418.64 L311.55,417.72 L312.08,416.80 L312.60,415.89 L313.12,414.99 L313.65,414.10 L314.17,413.21 L314.69,412.33 L315.22,411.46 L315.74,410.60 L316.26,409.75 L316.78,408.91 L317.31,408.07 L317.83,407.25 L318.35,406.44 L318.88,405.64 L319.40,404.85 L319.92,404.07 L320.45,403.30 L320.97,402.55 L321.49,401.81 L322.02,401.08 L322.54,400.37 L323.06,399.67 L323.58,398.98 L324.11,398.31 L324.63,397.66 L325.15,397.02 L325.68,396.40 L326.20,395.79 L326.72,395.20 L327.25,394.63 L327.77,394.08 L328.29,393.54 L328.82,393.03 L329.34,392.53 L329.86,392.06 L330.38,391.60 L330.91,391.17 L331.43,390.75 L331.95,390.36 L332.48,389.99 L333.00,389.64 L333.52,389.32 L334.05,389.02 L334.57,388.75 L335.09,388.50 L335.62,388.28 L336.14,388.09 L336.66,387.92 L337.18,387.79 L337.71,387.69 L338.23,387.65 L338.75,387.69 L339.28,387.78 L339.80,387.92 L340.32,388.11 L340.85,388.33 L341.37,388.59 L341.89,388.88 L342.42,389.21 L342.94,389.56 L343.46,389.95 L343.98,390.36 L344.51,390.80 L345.03,391.27 L345.55,391.75 L346.08,392.27 L346.60,392.80 L347.12,393.36 L347.65,393.94 L348.17,394.54 L348.69,395.15 L349.22,395.79 L349.74,396.44 L350.26,397.12 L350.78,397.80 L351.31,398.51 L351.83,399.23 L352.35,399.96 L352.88,400.71 L353.40,401.47 L353.92,402.25 L354.45,403.03 L354.97,403.83 L355.49,404.64 L356.02,405.46 L356.54,406.29 L357.06,407.13 L357.58,407.98 L358.11,408.84 L358.63,409.70 L359.15,410.58 L359.68,411.46 L360.20,412.34 L360.72,413.24 L361.25,414.13 L361.77,415.04 L362.29,415.95 L362.82,416.86 L363.34,417.77 L363.86,418.69 L364.38,419.61 L364.91,420.54 L365.43,421.47 L365.95,422.40 L366.48,423.33 L367.00,424.26 L367.52,425.19 L368.05,426.12 L368.57,427.05 L369.09,427.99 L369.62,428.92 L370.14,429.85 L370.66,430.78 L371.18,431.70 L371.71,432.63 L372.23,433.55 L372.75,434.47 L373.28,435.39 L373.80,436.31 L374.32,437.22 L374.85,438.13 L375.37,439.03 L375.89,439.93 L376.42,440.83 L376.94,441.72 L377.46,442.60 L377.98,443.49 L378.51,444.36 L379.03,445.23 L379.55,446.10 L380.08,446.96 L380.60,447.81 L381.12,448.66 L381.65,449.50 L382.17,450.34 L382.69,451.16 L383.22,451.99 L383.74,452.80 L384.26,453.61 L384.78,454.41 L385.31,455.20 L385.83,455.99 L386.35,456.77 L386.88,457.54 L387.40,458.30 L387.92,459.06 L388.45,459.81 L388.97,460.55 L389.49,461.28 L390.02,462.01 L390.54,462.72 L391.06,463.43 L391.58,464.13 L392.11,464.82 L392.63,465.50 L393.15,466.18 L393.68,466.85 L394.20,467.50 L394.72,468.15 L395.25,468.80 L395.77,469.43 L396.29,470.05 L396.82,470.67 L397.34,471.28 L397.86,471.88 L398.38,472.47 L398.91,473.05 L399.43,473.62 L399.95,474.19 L400.48,474.74 L401.00,475.29 L401.52,475.83 L402.05,476.36 L402.57,476.89 L403.09,477.40 L403.62,477.91 L404.14,478.41 L404.66,478.90 L405.18,479.38 L405.71,479.85 L406.23,480.32 L406.75,480.78 L407.28,481.23 L407.80,481.67 L408.32,482.10 L408.85,482.53 L409.37,482.95 L409.89,483.36 L410.42,483.76 L410.94,484.16 L411.46,484.55 L411.98,484.93 L412.51,485.30 L413.03,485.67 L413.55,486.02 L414.08,486.38 L414.60,486.72" fill="none" stroke="#000080" stroke-width="1.0" stroke-linejoin="round" stroke-linecap="round"/>
<path d="M258.20,499.08 L258.72,498.56 L259.25,498.04 L259.77,497.50 L260.29,496.97 L260.82,496.42 L261.34,495.87 L261.86,495.30 L262.38,494.73 L262.91,494.16 L263.43,493.57 L263.95,492.98 L264.48,492.38 L265.00,491.78 L265.52,491.16 L266.05,490.54 L266.57,489.91 L267.09,489.27 L267.62,488.62 L268.14,487.97 L268.66,487.31 L269.18,486.64 L269.71,485.96 L270.23,485.28 L270.75,484.59 L271.28,483.89 L271.80,483.18 L272.32,482.46 L272.85,481.74 L273.37,481.01 L273.89,480.27 L274.42,479.52 L274.94,478.77 L275.46,478.01 L275.98,477.24 L276.51,476.46 L277.03,475.67 L277.55,474.88 L278.08,474.08 L278.60,473.28 L279.12,472.47 L279.65,471.64 L280.17,470.82 L280.69,469.98 L281.22,469.14 L281.74,468.29 L282.26,467.44 L282.78,466.58 L283.31,465.71 L283.83,464.84 L284.35,463.96 L284.88,463.07 L285.40,462.18 L285.92,461.28 L286.45,460.38 L286.97,459.47 L287.49,458.55 L288.02,457.63 L288.54,456.70 L289.06,455.77 L289.58,454.84 L290.11,453.90 L290.63,452.95 L291.15,452.00 L291.68,451.05 L292.20,450.09 L292.72,449.13 L293.25,448.17 L293.77,447.20 L294.29,446.23 L294.82,445.25 L295.34,444.28 L295.86,443.30 L296.38,442.31 L296.91,441.33 L297.43,440.35 L297.95,439.36 L298.48,438.37 L299.00,437.38 L299.52,436.39 L300.05,435.40 L300.57,434.41 L301.09,433.41 L301.62,432.42 L302.14,431.43 L302.66,430.44 L303.18,429.45 L303.71,428.46 L304.23,427.48 L304.75,426.49 L305.28,425.51 L305.80,424.53 L306.32,423.56 L306.85,422.58 L307.37,421.61 L307.89,420.65 L308.42,419.69 L308.94,418.73 L309.46,417.78 L309.98,416.83 L310.51,415.89 L311.03,414.95 L311.55,414.02 L312.08,413.10 L312.60,412.18 L313.12,411.28 L313.65,410.37 L314.17,409.48 L314.69,408.60 L315.22,407.72 L315.74,406.85 L316.26,406.00 L316.78,405.15 L317.31,404.31 L317.83,403.48 L318.35,402.67 L318.88,401.86 L319.40,401.07 L319.92,400.29 L320.45,399.52 L320.97,398.77 L321.49,398.02 L322.02,397.30 L322.54,396.58 L323.06,395.88 L323.58,395.20 L324.11,394.53 L324.63,393.87 L325.15,393.24 L325.68,392.61 L326.20,392.01 L326.72,391.42 L327.25,390.85 L327.77,390.30 L328.29,389.77 L328.82,389.26 L329.34,388.76 L329.86,388.29 L330.38,387.83 L330.91,387.40 L331.43,386.99 L331.95,386.60 L332.48,386.23 L333.00,385.89 L333.52,385.57 L334.05,385.27 L334.57,385.00 L335.09,384.76 L335.62,384.54 L336.14,384.35 L336.66,384.19 L337.18,384.07 L337.71,383.98 L338.23,383.96 L338.75,384.01 L339.28,384.11 L339.80,384.26 L340.32,384.46 L340.85,384.68 L341.37,384.95 L341.89,385.24 L342.42,385.57 L342.94,385.93 L343.46,386.31 L343.98,386.73 L344.51,387.17 L345.03,387.63 L345.55,388.12 L346.08,388.63 L346.60,389.17 L347.12,389.72 L347.65,390.30 L348.17,390.90 L348.69,391.51 L349.22,392.15 L349.74,392.80 L350.26,393.47 L350.78,394.16 L351.31,394.86 L351.83,395.58 L352.35,396.31 L352.88,397.06 L353.40,397.82 L353.92,398.59 L354.45,399.38 L354.97,400.17 L355.49,400.98 L356.02,401.80 L356.54,402.63 L357.06,403.47 L357.58,404.32 L358.11,405.18 L358.63,406.04 L359.15,406.91 L359.68,407.79 L360.20,408.68 L360.72,409.57 L361.25,410.47 L361.77,411.38 L362.29,412.29 L362.82,413.20 L363.34,414.12 L363.86,415.04 L364.38,415.96 L364.91,416.89 L365.43,417.82 L365.95,418.75 L366.48,419.69 L367.00,420.62 L367.52,421.56 L368.05,422.50 L368.57,423.44 L369.09,424.37 L369.62,425.31 L370.14,426.25 L370.66,427.18 L371.18,428.12 L371.71,429.05 L372.23,429.98 L372.75,430.91 L373.28,431.84 L373.80,432.76 L374.32,433.68 L374.85,434.60 L375.37,435.52 L375.89,436.43 L376.42,437.33 L376.94,438.24 L377.46,439.13 L377.98,440.03 L378.51,440.92 L379.03,441.80 L379.55,442.68 L380.08,443.55 L380.60,444.42 L381.12,445.28 L381.65,446.14 L382.17,446.99 L382.69,447.83 L383.22,448.67 L383.74,449.50 L384.26,450.33 L384.78,451.14 L385.31,451.95 L385.83,452.76 L386.35,453.55 L386.88,454.34 L387.40,455.13 L387.92,455.90 L388.45,456.67 L388.97,457.43 L389.49,458.18 L390.02,458.92 L390.54,459.66 L391.06,460.39 L391.58,461.11 L392.11,461.82 L392.63,462.52 L393.15,463.22 L393.68,463.91 L394.20,464.58 L394.72,465.26 L395.25,465.92 L395.77,466.57 L396.29,467.22 L396.82,467.86 L397.34,468.49 L397.86,469.11 L398.38,469.72 L398.91,470.32 L399.43,470.92 L399.95,471.51 L400.48,472.09 L401.00,472.66 L401.52,473.22 L402.05,473.77 L402.57,474.32 L403.09,474.86 L403.62,475.39 L404.14,475.91 L404.66,476.42 L405.18,476.93 L405.71,477.42 L406.23,477.91 L406.75,478.39 L407.28,478.86 L407.80,479.33 L408.32,479.78 L408.85,480.23 L409.37,480.67 L409.89,481.11 L410.42,481.53 L410.94,481.95 L411.46,482.36 L411.98,482.76 L412.51,483.16 L413.03,483.54 L413.55,483.92 L414.08,484.30 L414.60,484.66" fill="none" stroke="#8000FF" stroke-width="1.0" stroke-linejoin="round" stroke-linecap="round"/>
</svg>
</body></html>
